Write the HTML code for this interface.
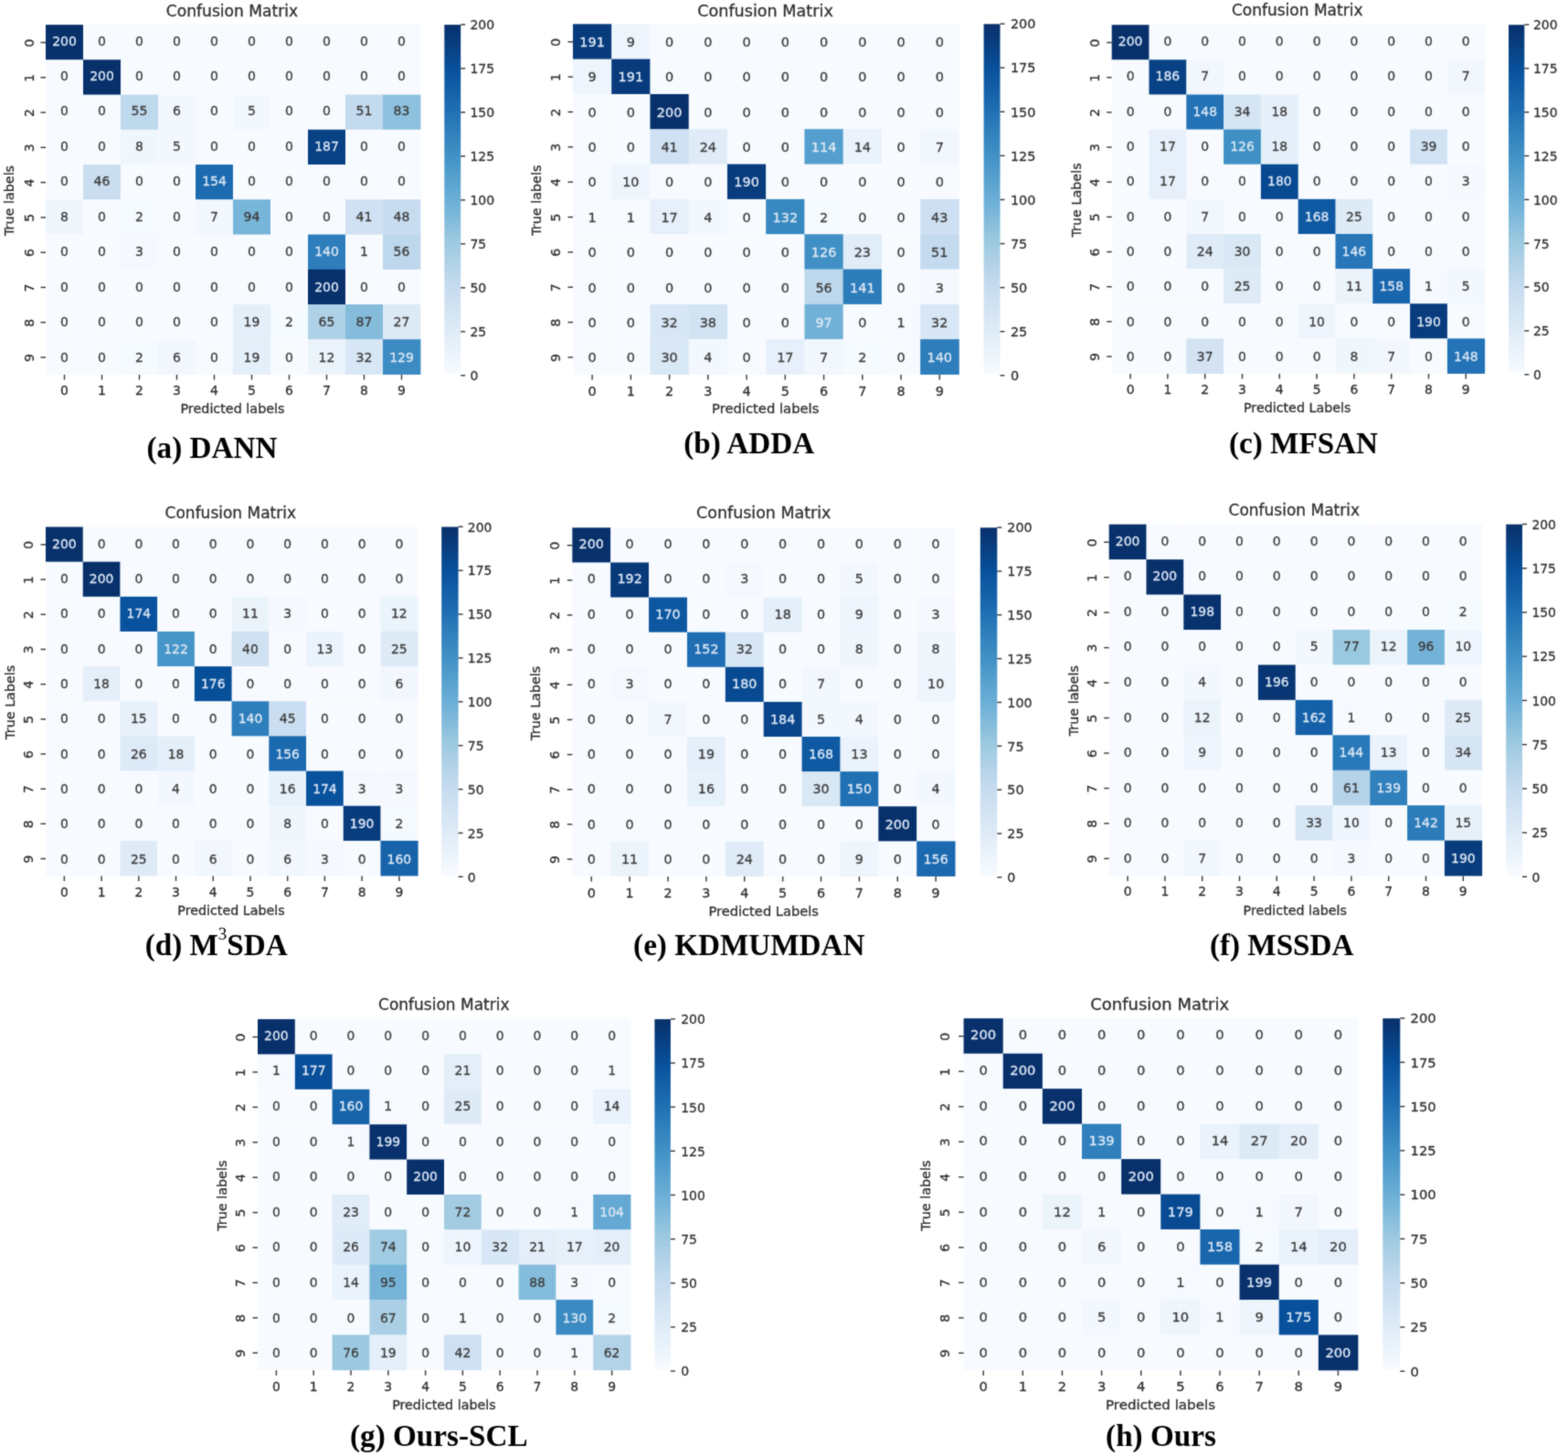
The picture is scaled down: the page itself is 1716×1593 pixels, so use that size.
<!DOCTYPE html>
<html><head><meta charset="utf-8"><title>Confusion matrices</title>
<style>html,body{margin:0;padding:0;background:#fff;}body{width:1716px;height:1593px;overflow:hidden;}svg{display:block;}#fig{width:1716px;height:1593px;}</style>
</head><body><div id="fig">
<svg width="1716" height="1593" viewBox="0 0 1716 1593">
<defs><linearGradient id="cb" x1="0" y1="0" x2="0" y2="1"><stop offset="0.0000" stop-color="#08306b"/><stop offset="0.0312" stop-color="#083776"/><stop offset="0.0625" stop-color="#084082"/><stop offset="0.0938" stop-color="#08488e"/><stop offset="0.1250" stop-color="#08509b"/><stop offset="0.1562" stop-color="#0e58a2"/><stop offset="0.1875" stop-color="#1460a8"/><stop offset="0.2188" stop-color="#1a68ae"/><stop offset="0.2500" stop-color="#2070b4"/><stop offset="0.2812" stop-color="#2979b9"/><stop offset="0.3125" stop-color="#3181bd"/><stop offset="0.3438" stop-color="#3989c1"/><stop offset="0.3750" stop-color="#4191c6"/><stop offset="0.4062" stop-color="#4b98ca"/><stop offset="0.4375" stop-color="#56a0ce"/><stop offset="0.4688" stop-color="#60a7d2"/><stop offset="0.5000" stop-color="#6aaed6"/><stop offset="0.5312" stop-color="#77b5d9"/><stop offset="0.5625" stop-color="#84bcdb"/><stop offset="0.5938" stop-color="#91c3de"/><stop offset="0.6250" stop-color="#9dcae1"/><stop offset="0.6562" stop-color="#a8cee4"/><stop offset="0.6875" stop-color="#b2d2e8"/><stop offset="0.7188" stop-color="#bcd7eb"/><stop offset="0.7500" stop-color="#c6dbef"/><stop offset="0.7812" stop-color="#ccdff1"/><stop offset="0.8125" stop-color="#d2e3f3"/><stop offset="0.8438" stop-color="#d8e7f5"/><stop offset="0.8750" stop-color="#deebf7"/><stop offset="0.9062" stop-color="#e4eff9"/><stop offset="0.9375" stop-color="#eaf3fb"/><stop offset="0.9688" stop-color="#f1f7fd"/><stop offset="1.0000" stop-color="#f7fbff"/></linearGradient><filter id="soft" x="0" y="0" width="1716" height="1593" filterUnits="userSpaceOnUse" color-interpolation-filters="sRGB"><feConvolveMatrix order="3" kernelMatrix="1 4 1 4 16 4 1 4 1" edgeMode="duplicate" preserveAlpha="true"/></filter></defs>
<g filter="url(#soft)"><rect x="0" y="0" width="1716" height="1593" fill="#ffffff"/>
<g font-family="DejaVu Sans, sans-serif"><rect x="50.00" y="27.10" width="41.40" height="38.64" fill="#08306b"/><rect x="91.00" y="27.10" width="41.40" height="38.64" fill="#f7fbff"/><rect x="132.00" y="27.10" width="41.40" height="38.64" fill="#f7fbff"/><rect x="173.00" y="27.10" width="41.40" height="38.64" fill="#f7fbff"/><rect x="214.00" y="27.10" width="41.40" height="38.64" fill="#f7fbff"/><rect x="255.00" y="27.10" width="41.40" height="38.64" fill="#f7fbff"/><rect x="296.00" y="27.10" width="41.40" height="38.64" fill="#f7fbff"/><rect x="337.00" y="27.10" width="41.40" height="38.64" fill="#f7fbff"/><rect x="378.00" y="27.10" width="41.40" height="38.64" fill="#f7fbff"/><rect x="419.00" y="27.10" width="41.40" height="38.64" fill="#f7fbff"/><rect x="50.00" y="65.34" width="41.40" height="38.64" fill="#f7fbff"/><rect x="91.00" y="65.34" width="41.40" height="38.64" fill="#08306b"/><rect x="132.00" y="65.34" width="41.40" height="38.64" fill="#f7fbff"/><rect x="173.00" y="65.34" width="41.40" height="38.64" fill="#f7fbff"/><rect x="214.00" y="65.34" width="41.40" height="38.64" fill="#f7fbff"/><rect x="255.00" y="65.34" width="41.40" height="38.64" fill="#f7fbff"/><rect x="296.00" y="65.34" width="41.40" height="38.64" fill="#f7fbff"/><rect x="337.00" y="65.34" width="41.40" height="38.64" fill="#f7fbff"/><rect x="378.00" y="65.34" width="41.40" height="38.64" fill="#f7fbff"/><rect x="419.00" y="65.34" width="41.40" height="38.64" fill="#f7fbff"/><rect x="50.00" y="103.58" width="41.40" height="38.64" fill="#f7fbff"/><rect x="91.00" y="103.58" width="41.40" height="38.64" fill="#f7fbff"/><rect x="132.00" y="103.58" width="41.40" height="38.64" fill="#bed8ec"/><rect x="173.00" y="103.58" width="41.40" height="38.64" fill="#f2f7fd"/><rect x="214.00" y="103.58" width="41.40" height="38.64" fill="#f7fbff"/><rect x="255.00" y="103.58" width="41.40" height="38.64" fill="#f2f8fd"/><rect x="296.00" y="103.58" width="41.40" height="38.64" fill="#f7fbff"/><rect x="337.00" y="103.58" width="41.40" height="38.64" fill="#f7fbff"/><rect x="378.00" y="103.58" width="41.40" height="38.64" fill="#c4daee"/><rect x="419.00" y="103.58" width="41.40" height="38.64" fill="#8dc1dd"/><rect x="50.00" y="141.82" width="41.40" height="38.64" fill="#f7fbff"/><rect x="91.00" y="141.82" width="41.40" height="38.64" fill="#f7fbff"/><rect x="132.00" y="141.82" width="41.40" height="38.64" fill="#eff6fc"/><rect x="173.00" y="141.82" width="41.40" height="38.64" fill="#f2f8fd"/><rect x="214.00" y="141.82" width="41.40" height="38.64" fill="#f7fbff"/><rect x="255.00" y="141.82" width="41.40" height="38.64" fill="#f7fbff"/><rect x="296.00" y="141.82" width="41.40" height="38.64" fill="#f7fbff"/><rect x="337.00" y="141.82" width="41.40" height="38.64" fill="#084184"/><rect x="378.00" y="141.82" width="41.40" height="38.64" fill="#f7fbff"/><rect x="419.00" y="141.82" width="41.40" height="38.64" fill="#f7fbff"/><rect x="50.00" y="180.06" width="41.40" height="38.64" fill="#f7fbff"/><rect x="91.00" y="180.06" width="41.40" height="38.64" fill="#cadef0"/><rect x="132.00" y="180.06" width="41.40" height="38.64" fill="#f7fbff"/><rect x="173.00" y="180.06" width="41.40" height="38.64" fill="#f7fbff"/><rect x="214.00" y="180.06" width="41.40" height="38.64" fill="#1c6bb0"/><rect x="255.00" y="180.06" width="41.40" height="38.64" fill="#f7fbff"/><rect x="296.00" y="180.06" width="41.40" height="38.64" fill="#f7fbff"/><rect x="337.00" y="180.06" width="41.40" height="38.64" fill="#f7fbff"/><rect x="378.00" y="180.06" width="41.40" height="38.64" fill="#f7fbff"/><rect x="419.00" y="180.06" width="41.40" height="38.64" fill="#f7fbff"/><rect x="50.00" y="218.30" width="41.40" height="38.64" fill="#eff6fc"/><rect x="91.00" y="218.30" width="41.40" height="38.64" fill="#f7fbff"/><rect x="132.00" y="218.30" width="41.40" height="38.64" fill="#f5fafe"/><rect x="173.00" y="218.30" width="41.40" height="38.64" fill="#f7fbff"/><rect x="214.00" y="218.30" width="41.40" height="38.64" fill="#f1f7fd"/><rect x="255.00" y="218.30" width="41.40" height="38.64" fill="#77b5d9"/><rect x="296.00" y="218.30" width="41.40" height="38.64" fill="#f7fbff"/><rect x="337.00" y="218.30" width="41.40" height="38.64" fill="#f7fbff"/><rect x="378.00" y="218.30" width="41.40" height="38.64" fill="#cfe1f2"/><rect x="419.00" y="218.30" width="41.40" height="38.64" fill="#c8dcf0"/><rect x="50.00" y="256.54" width="41.40" height="38.64" fill="#f7fbff"/><rect x="91.00" y="256.54" width="41.40" height="38.64" fill="#f7fbff"/><rect x="132.00" y="256.54" width="41.40" height="38.64" fill="#f5f9fe"/><rect x="173.00" y="256.54" width="41.40" height="38.64" fill="#f7fbff"/><rect x="214.00" y="256.54" width="41.40" height="38.64" fill="#f7fbff"/><rect x="255.00" y="256.54" width="41.40" height="38.64" fill="#f7fbff"/><rect x="296.00" y="256.54" width="41.40" height="38.64" fill="#f7fbff"/><rect x="337.00" y="256.54" width="41.40" height="38.64" fill="#2e7ebc"/><rect x="378.00" y="256.54" width="41.40" height="38.64" fill="#f6faff"/><rect x="419.00" y="256.54" width="41.40" height="38.64" fill="#bdd7ec"/><rect x="50.00" y="294.78" width="41.40" height="38.64" fill="#f7fbff"/><rect x="91.00" y="294.78" width="41.40" height="38.64" fill="#f7fbff"/><rect x="132.00" y="294.78" width="41.40" height="38.64" fill="#f7fbff"/><rect x="173.00" y="294.78" width="41.40" height="38.64" fill="#f7fbff"/><rect x="214.00" y="294.78" width="41.40" height="38.64" fill="#f7fbff"/><rect x="255.00" y="294.78" width="41.40" height="38.64" fill="#f7fbff"/><rect x="296.00" y="294.78" width="41.40" height="38.64" fill="#f7fbff"/><rect x="337.00" y="294.78" width="41.40" height="38.64" fill="#08306b"/><rect x="378.00" y="294.78" width="41.40" height="38.64" fill="#f7fbff"/><rect x="419.00" y="294.78" width="41.40" height="38.64" fill="#f7fbff"/><rect x="50.00" y="333.02" width="41.40" height="38.64" fill="#f7fbff"/><rect x="91.00" y="333.02" width="41.40" height="38.64" fill="#f7fbff"/><rect x="132.00" y="333.02" width="41.40" height="38.64" fill="#f7fbff"/><rect x="173.00" y="333.02" width="41.40" height="38.64" fill="#f7fbff"/><rect x="214.00" y="333.02" width="41.40" height="38.64" fill="#f7fbff"/><rect x="255.00" y="333.02" width="41.40" height="38.64" fill="#e4eff9"/><rect x="296.00" y="333.02" width="41.40" height="38.64" fill="#f5fafe"/><rect x="337.00" y="333.02" width="41.40" height="38.64" fill="#aed1e7"/><rect x="378.00" y="333.02" width="41.40" height="38.64" fill="#85bcdc"/><rect x="419.00" y="333.02" width="41.40" height="38.64" fill="#dceaf6"/><rect x="50.00" y="371.26" width="41.40" height="38.64" fill="#f7fbff"/><rect x="91.00" y="371.26" width="41.40" height="38.64" fill="#f7fbff"/><rect x="132.00" y="371.26" width="41.40" height="38.64" fill="#f5fafe"/><rect x="173.00" y="371.26" width="41.40" height="38.64" fill="#f2f7fd"/><rect x="214.00" y="371.26" width="41.40" height="38.64" fill="#f7fbff"/><rect x="255.00" y="371.26" width="41.40" height="38.64" fill="#e4eff9"/><rect x="296.00" y="371.26" width="41.40" height="38.64" fill="#f7fbff"/><rect x="337.00" y="371.26" width="41.40" height="38.64" fill="#ebf3fb"/><rect x="378.00" y="371.26" width="41.40" height="38.64" fill="#d8e7f5"/><rect x="419.00" y="371.26" width="41.40" height="38.64" fill="#3c8cc3"/><text transform="translate(70.50 49.50)" font-size="14.0" fill="#dce7f4" stroke="#dce7f4" stroke-width="0.3" text-anchor="middle">200</text><text transform="translate(111.50 49.50)" font-size="14.0" fill="#3d3d3d" stroke="#3d3d3d" stroke-width="0.3" text-anchor="middle">0</text><text transform="translate(152.50 49.50)" font-size="14.0" fill="#3d3d3d" stroke="#3d3d3d" stroke-width="0.3" text-anchor="middle">0</text><text transform="translate(193.50 49.50)" font-size="14.0" fill="#3d3d3d" stroke="#3d3d3d" stroke-width="0.3" text-anchor="middle">0</text><text transform="translate(234.50 49.50)" font-size="14.0" fill="#3d3d3d" stroke="#3d3d3d" stroke-width="0.3" text-anchor="middle">0</text><text transform="translate(275.50 49.50)" font-size="14.0" fill="#3d3d3d" stroke="#3d3d3d" stroke-width="0.3" text-anchor="middle">0</text><text transform="translate(316.50 49.50)" font-size="14.0" fill="#3d3d3d" stroke="#3d3d3d" stroke-width="0.3" text-anchor="middle">0</text><text transform="translate(357.50 49.50)" font-size="14.0" fill="#3d3d3d" stroke="#3d3d3d" stroke-width="0.3" text-anchor="middle">0</text><text transform="translate(398.50 49.50)" font-size="14.0" fill="#3d3d3d" stroke="#3d3d3d" stroke-width="0.3" text-anchor="middle">0</text><text transform="translate(439.50 49.50)" font-size="14.0" fill="#3d3d3d" stroke="#3d3d3d" stroke-width="0.3" text-anchor="middle">0</text><text transform="translate(70.50 87.99)" font-size="14.0" fill="#3d3d3d" stroke="#3d3d3d" stroke-width="0.3" text-anchor="middle">0</text><text transform="translate(111.50 87.99)" font-size="14.0" fill="#dce7f4" stroke="#dce7f4" stroke-width="0.3" text-anchor="middle">200</text><text transform="translate(152.50 87.99)" font-size="14.0" fill="#3d3d3d" stroke="#3d3d3d" stroke-width="0.3" text-anchor="middle">0</text><text transform="translate(193.50 87.99)" font-size="14.0" fill="#3d3d3d" stroke="#3d3d3d" stroke-width="0.3" text-anchor="middle">0</text><text transform="translate(234.50 87.99)" font-size="14.0" fill="#3d3d3d" stroke="#3d3d3d" stroke-width="0.3" text-anchor="middle">0</text><text transform="translate(275.50 87.99)" font-size="14.0" fill="#3d3d3d" stroke="#3d3d3d" stroke-width="0.3" text-anchor="middle">0</text><text transform="translate(316.50 87.99)" font-size="14.0" fill="#3d3d3d" stroke="#3d3d3d" stroke-width="0.3" text-anchor="middle">0</text><text transform="translate(357.50 87.99)" font-size="14.0" fill="#3d3d3d" stroke="#3d3d3d" stroke-width="0.3" text-anchor="middle">0</text><text transform="translate(398.50 87.99)" font-size="14.0" fill="#3d3d3d" stroke="#3d3d3d" stroke-width="0.3" text-anchor="middle">0</text><text transform="translate(439.50 87.99)" font-size="14.0" fill="#3d3d3d" stroke="#3d3d3d" stroke-width="0.3" text-anchor="middle">0</text><text transform="translate(70.50 126.48)" font-size="14.0" fill="#3d3d3d" stroke="#3d3d3d" stroke-width="0.3" text-anchor="middle">0</text><text transform="translate(111.50 126.48)" font-size="14.0" fill="#3d3d3d" stroke="#3d3d3d" stroke-width="0.3" text-anchor="middle">0</text><text transform="translate(152.50 126.48)" font-size="14.0" fill="#3d3d3d" stroke="#3d3d3d" stroke-width="0.3" text-anchor="middle">55</text><text transform="translate(193.50 126.48)" font-size="14.0" fill="#3d3d3d" stroke="#3d3d3d" stroke-width="0.3" text-anchor="middle">6</text><text transform="translate(234.50 126.48)" font-size="14.0" fill="#3d3d3d" stroke="#3d3d3d" stroke-width="0.3" text-anchor="middle">0</text><text transform="translate(275.50 126.48)" font-size="14.0" fill="#3d3d3d" stroke="#3d3d3d" stroke-width="0.3" text-anchor="middle">5</text><text transform="translate(316.50 126.48)" font-size="14.0" fill="#3d3d3d" stroke="#3d3d3d" stroke-width="0.3" text-anchor="middle">0</text><text transform="translate(357.50 126.48)" font-size="14.0" fill="#3d3d3d" stroke="#3d3d3d" stroke-width="0.3" text-anchor="middle">0</text><text transform="translate(398.50 126.48)" font-size="14.0" fill="#3d3d3d" stroke="#3d3d3d" stroke-width="0.3" text-anchor="middle">51</text><text transform="translate(439.50 126.48)" font-size="14.0" fill="#3d3d3d" stroke="#3d3d3d" stroke-width="0.3" text-anchor="middle">83</text><text transform="translate(70.50 164.97)" font-size="14.0" fill="#3d3d3d" stroke="#3d3d3d" stroke-width="0.3" text-anchor="middle">0</text><text transform="translate(111.50 164.97)" font-size="14.0" fill="#3d3d3d" stroke="#3d3d3d" stroke-width="0.3" text-anchor="middle">0</text><text transform="translate(152.50 164.97)" font-size="14.0" fill="#3d3d3d" stroke="#3d3d3d" stroke-width="0.3" text-anchor="middle">8</text><text transform="translate(193.50 164.97)" font-size="14.0" fill="#3d3d3d" stroke="#3d3d3d" stroke-width="0.3" text-anchor="middle">5</text><text transform="translate(234.50 164.97)" font-size="14.0" fill="#3d3d3d" stroke="#3d3d3d" stroke-width="0.3" text-anchor="middle">0</text><text transform="translate(275.50 164.97)" font-size="14.0" fill="#3d3d3d" stroke="#3d3d3d" stroke-width="0.3" text-anchor="middle">0</text><text transform="translate(316.50 164.97)" font-size="14.0" fill="#3d3d3d" stroke="#3d3d3d" stroke-width="0.3" text-anchor="middle">0</text><text transform="translate(357.50 164.97)" font-size="14.0" fill="#dce7f4" stroke="#dce7f4" stroke-width="0.3" text-anchor="middle">187</text><text transform="translate(398.50 164.97)" font-size="14.0" fill="#3d3d3d" stroke="#3d3d3d" stroke-width="0.3" text-anchor="middle">0</text><text transform="translate(439.50 164.97)" font-size="14.0" fill="#3d3d3d" stroke="#3d3d3d" stroke-width="0.3" text-anchor="middle">0</text><text transform="translate(70.50 203.46)" font-size="14.0" fill="#3d3d3d" stroke="#3d3d3d" stroke-width="0.3" text-anchor="middle">0</text><text transform="translate(111.50 203.46)" font-size="14.0" fill="#3d3d3d" stroke="#3d3d3d" stroke-width="0.3" text-anchor="middle">46</text><text transform="translate(152.50 203.46)" font-size="14.0" fill="#3d3d3d" stroke="#3d3d3d" stroke-width="0.3" text-anchor="middle">0</text><text transform="translate(193.50 203.46)" font-size="14.0" fill="#3d3d3d" stroke="#3d3d3d" stroke-width="0.3" text-anchor="middle">0</text><text transform="translate(234.50 203.46)" font-size="14.0" fill="#dce7f4" stroke="#dce7f4" stroke-width="0.3" text-anchor="middle">154</text><text transform="translate(275.50 203.46)" font-size="14.0" fill="#3d3d3d" stroke="#3d3d3d" stroke-width="0.3" text-anchor="middle">0</text><text transform="translate(316.50 203.46)" font-size="14.0" fill="#3d3d3d" stroke="#3d3d3d" stroke-width="0.3" text-anchor="middle">0</text><text transform="translate(357.50 203.46)" font-size="14.0" fill="#3d3d3d" stroke="#3d3d3d" stroke-width="0.3" text-anchor="middle">0</text><text transform="translate(398.50 203.46)" font-size="14.0" fill="#3d3d3d" stroke="#3d3d3d" stroke-width="0.3" text-anchor="middle">0</text><text transform="translate(439.50 203.46)" font-size="14.0" fill="#3d3d3d" stroke="#3d3d3d" stroke-width="0.3" text-anchor="middle">0</text><text transform="translate(70.50 241.95)" font-size="14.0" fill="#3d3d3d" stroke="#3d3d3d" stroke-width="0.3" text-anchor="middle">8</text><text transform="translate(111.50 241.95)" font-size="14.0" fill="#3d3d3d" stroke="#3d3d3d" stroke-width="0.3" text-anchor="middle">0</text><text transform="translate(152.50 241.95)" font-size="14.0" fill="#3d3d3d" stroke="#3d3d3d" stroke-width="0.3" text-anchor="middle">2</text><text transform="translate(193.50 241.95)" font-size="14.0" fill="#3d3d3d" stroke="#3d3d3d" stroke-width="0.3" text-anchor="middle">0</text><text transform="translate(234.50 241.95)" font-size="14.0" fill="#3d3d3d" stroke="#3d3d3d" stroke-width="0.3" text-anchor="middle">7</text><text transform="translate(275.50 241.95)" font-size="14.0" fill="#3d3d3d" stroke="#3d3d3d" stroke-width="0.3" text-anchor="middle">94</text><text transform="translate(316.50 241.95)" font-size="14.0" fill="#3d3d3d" stroke="#3d3d3d" stroke-width="0.3" text-anchor="middle">0</text><text transform="translate(357.50 241.95)" font-size="14.0" fill="#3d3d3d" stroke="#3d3d3d" stroke-width="0.3" text-anchor="middle">0</text><text transform="translate(398.50 241.95)" font-size="14.0" fill="#3d3d3d" stroke="#3d3d3d" stroke-width="0.3" text-anchor="middle">41</text><text transform="translate(439.50 241.95)" font-size="14.0" fill="#3d3d3d" stroke="#3d3d3d" stroke-width="0.3" text-anchor="middle">48</text><text transform="translate(70.50 280.44)" font-size="14.0" fill="#3d3d3d" stroke="#3d3d3d" stroke-width="0.3" text-anchor="middle">0</text><text transform="translate(111.50 280.44)" font-size="14.0" fill="#3d3d3d" stroke="#3d3d3d" stroke-width="0.3" text-anchor="middle">0</text><text transform="translate(152.50 280.44)" font-size="14.0" fill="#3d3d3d" stroke="#3d3d3d" stroke-width="0.3" text-anchor="middle">3</text><text transform="translate(193.50 280.44)" font-size="14.0" fill="#3d3d3d" stroke="#3d3d3d" stroke-width="0.3" text-anchor="middle">0</text><text transform="translate(234.50 280.44)" font-size="14.0" fill="#3d3d3d" stroke="#3d3d3d" stroke-width="0.3" text-anchor="middle">0</text><text transform="translate(275.50 280.44)" font-size="14.0" fill="#3d3d3d" stroke="#3d3d3d" stroke-width="0.3" text-anchor="middle">0</text><text transform="translate(316.50 280.44)" font-size="14.0" fill="#3d3d3d" stroke="#3d3d3d" stroke-width="0.3" text-anchor="middle">0</text><text transform="translate(357.50 280.44)" font-size="14.0" fill="#dce7f4" stroke="#dce7f4" stroke-width="0.3" text-anchor="middle">140</text><text transform="translate(398.50 280.44)" font-size="14.0" fill="#3d3d3d" stroke="#3d3d3d" stroke-width="0.3" text-anchor="middle">1</text><text transform="translate(439.50 280.44)" font-size="14.0" fill="#3d3d3d" stroke="#3d3d3d" stroke-width="0.3" text-anchor="middle">56</text><text transform="translate(70.50 318.93)" font-size="14.0" fill="#3d3d3d" stroke="#3d3d3d" stroke-width="0.3" text-anchor="middle">0</text><text transform="translate(111.50 318.93)" font-size="14.0" fill="#3d3d3d" stroke="#3d3d3d" stroke-width="0.3" text-anchor="middle">0</text><text transform="translate(152.50 318.93)" font-size="14.0" fill="#3d3d3d" stroke="#3d3d3d" stroke-width="0.3" text-anchor="middle">0</text><text transform="translate(193.50 318.93)" font-size="14.0" fill="#3d3d3d" stroke="#3d3d3d" stroke-width="0.3" text-anchor="middle">0</text><text transform="translate(234.50 318.93)" font-size="14.0" fill="#3d3d3d" stroke="#3d3d3d" stroke-width="0.3" text-anchor="middle">0</text><text transform="translate(275.50 318.93)" font-size="14.0" fill="#3d3d3d" stroke="#3d3d3d" stroke-width="0.3" text-anchor="middle">0</text><text transform="translate(316.50 318.93)" font-size="14.0" fill="#3d3d3d" stroke="#3d3d3d" stroke-width="0.3" text-anchor="middle">0</text><text transform="translate(357.50 318.93)" font-size="14.0" fill="#dce7f4" stroke="#dce7f4" stroke-width="0.3" text-anchor="middle">200</text><text transform="translate(398.50 318.93)" font-size="14.0" fill="#3d3d3d" stroke="#3d3d3d" stroke-width="0.3" text-anchor="middle">0</text><text transform="translate(439.50 318.93)" font-size="14.0" fill="#3d3d3d" stroke="#3d3d3d" stroke-width="0.3" text-anchor="middle">0</text><text transform="translate(70.50 357.41)" font-size="14.0" fill="#3d3d3d" stroke="#3d3d3d" stroke-width="0.3" text-anchor="middle">0</text><text transform="translate(111.50 357.41)" font-size="14.0" fill="#3d3d3d" stroke="#3d3d3d" stroke-width="0.3" text-anchor="middle">0</text><text transform="translate(152.50 357.41)" font-size="14.0" fill="#3d3d3d" stroke="#3d3d3d" stroke-width="0.3" text-anchor="middle">0</text><text transform="translate(193.50 357.41)" font-size="14.0" fill="#3d3d3d" stroke="#3d3d3d" stroke-width="0.3" text-anchor="middle">0</text><text transform="translate(234.50 357.41)" font-size="14.0" fill="#3d3d3d" stroke="#3d3d3d" stroke-width="0.3" text-anchor="middle">0</text><text transform="translate(275.50 357.41)" font-size="14.0" fill="#3d3d3d" stroke="#3d3d3d" stroke-width="0.3" text-anchor="middle">19</text><text transform="translate(316.50 357.41)" font-size="14.0" fill="#3d3d3d" stroke="#3d3d3d" stroke-width="0.3" text-anchor="middle">2</text><text transform="translate(357.50 357.41)" font-size="14.0" fill="#3d3d3d" stroke="#3d3d3d" stroke-width="0.3" text-anchor="middle">65</text><text transform="translate(398.50 357.41)" font-size="14.0" fill="#3d3d3d" stroke="#3d3d3d" stroke-width="0.3" text-anchor="middle">87</text><text transform="translate(439.50 357.41)" font-size="14.0" fill="#3d3d3d" stroke="#3d3d3d" stroke-width="0.3" text-anchor="middle">27</text><text transform="translate(70.50 395.90)" font-size="14.0" fill="#3d3d3d" stroke="#3d3d3d" stroke-width="0.3" text-anchor="middle">0</text><text transform="translate(111.50 395.90)" font-size="14.0" fill="#3d3d3d" stroke="#3d3d3d" stroke-width="0.3" text-anchor="middle">0</text><text transform="translate(152.50 395.90)" font-size="14.0" fill="#3d3d3d" stroke="#3d3d3d" stroke-width="0.3" text-anchor="middle">2</text><text transform="translate(193.50 395.90)" font-size="14.0" fill="#3d3d3d" stroke="#3d3d3d" stroke-width="0.3" text-anchor="middle">6</text><text transform="translate(234.50 395.90)" font-size="14.0" fill="#3d3d3d" stroke="#3d3d3d" stroke-width="0.3" text-anchor="middle">0</text><text transform="translate(275.50 395.90)" font-size="14.0" fill="#3d3d3d" stroke="#3d3d3d" stroke-width="0.3" text-anchor="middle">19</text><text transform="translate(316.50 395.90)" font-size="14.0" fill="#3d3d3d" stroke="#3d3d3d" stroke-width="0.3" text-anchor="middle">0</text><text transform="translate(357.50 395.90)" font-size="14.0" fill="#3d3d3d" stroke="#3d3d3d" stroke-width="0.3" text-anchor="middle">12</text><text transform="translate(398.50 395.90)" font-size="14.0" fill="#3d3d3d" stroke="#3d3d3d" stroke-width="0.3" text-anchor="middle">32</text><text transform="translate(439.50 395.90)" font-size="14.0" fill="#dce7f4" stroke="#dce7f4" stroke-width="0.3" text-anchor="middle">129</text><line x1="44.50" y1="46.52" x2="50.00" y2="46.52" stroke="#333333" stroke-width="1.4"/><text transform="translate(36.50 47.02) rotate(-90)" font-size="14.0" fill="#303030" stroke="#303030" stroke-width="0.3" text-anchor="middle">0</text><line x1="44.50" y1="84.79" x2="50.00" y2="84.79" stroke="#333333" stroke-width="1.4"/><text transform="translate(36.50 85.29) rotate(-90)" font-size="14.0" fill="#303030" stroke="#303030" stroke-width="0.3" text-anchor="middle">1</text><line x1="44.50" y1="123.07" x2="50.00" y2="123.07" stroke="#333333" stroke-width="1.4"/><text transform="translate(36.50 123.57) rotate(-90)" font-size="14.0" fill="#303030" stroke="#303030" stroke-width="0.3" text-anchor="middle">2</text><line x1="44.50" y1="161.34" x2="50.00" y2="161.34" stroke="#333333" stroke-width="1.4"/><text transform="translate(36.50 161.84) rotate(-90)" font-size="14.0" fill="#303030" stroke="#303030" stroke-width="0.3" text-anchor="middle">3</text><line x1="44.50" y1="199.61" x2="50.00" y2="199.61" stroke="#333333" stroke-width="1.4"/><text transform="translate(36.50 200.11) rotate(-90)" font-size="14.0" fill="#303030" stroke="#303030" stroke-width="0.3" text-anchor="middle">4</text><line x1="44.50" y1="237.89" x2="50.00" y2="237.89" stroke="#333333" stroke-width="1.4"/><text transform="translate(36.50 238.39) rotate(-90)" font-size="14.0" fill="#303030" stroke="#303030" stroke-width="0.3" text-anchor="middle">5</text><line x1="44.50" y1="276.16" x2="50.00" y2="276.16" stroke="#333333" stroke-width="1.4"/><text transform="translate(36.50 276.66) rotate(-90)" font-size="14.0" fill="#303030" stroke="#303030" stroke-width="0.3" text-anchor="middle">6</text><line x1="44.50" y1="314.43" x2="50.00" y2="314.43" stroke="#333333" stroke-width="1.4"/><text transform="translate(36.50 314.93) rotate(-90)" font-size="14.0" fill="#303030" stroke="#303030" stroke-width="0.3" text-anchor="middle">7</text><line x1="44.50" y1="352.71" x2="50.00" y2="352.71" stroke="#333333" stroke-width="1.4"/><text transform="translate(36.50 353.21) rotate(-90)" font-size="14.0" fill="#303030" stroke="#303030" stroke-width="0.3" text-anchor="middle">8</text><line x1="44.50" y1="390.98" x2="50.00" y2="390.98" stroke="#333333" stroke-width="1.4"/><text transform="translate(36.50 391.48) rotate(-90)" font-size="14.0" fill="#303030" stroke="#303030" stroke-width="0.3" text-anchor="middle">9</text><line x1="70.50" y1="410.00" x2="70.50" y2="415.50" stroke="#333333" stroke-width="1.4"/><text transform="translate(70.50 432.00)" font-size="14.0" fill="#303030" stroke="#303030" stroke-width="0.3" text-anchor="middle">0</text><line x1="111.50" y1="410.00" x2="111.50" y2="415.50" stroke="#333333" stroke-width="1.4"/><text transform="translate(111.50 432.00)" font-size="14.0" fill="#303030" stroke="#303030" stroke-width="0.3" text-anchor="middle">1</text><line x1="152.50" y1="410.00" x2="152.50" y2="415.50" stroke="#333333" stroke-width="1.4"/><text transform="translate(152.50 432.00)" font-size="14.0" fill="#303030" stroke="#303030" stroke-width="0.3" text-anchor="middle">2</text><line x1="193.50" y1="410.00" x2="193.50" y2="415.50" stroke="#333333" stroke-width="1.4"/><text transform="translate(193.50 432.00)" font-size="14.0" fill="#303030" stroke="#303030" stroke-width="0.3" text-anchor="middle">3</text><line x1="234.50" y1="410.00" x2="234.50" y2="415.50" stroke="#333333" stroke-width="1.4"/><text transform="translate(234.50 432.00)" font-size="14.0" fill="#303030" stroke="#303030" stroke-width="0.3" text-anchor="middle">4</text><line x1="275.50" y1="410.00" x2="275.50" y2="415.50" stroke="#333333" stroke-width="1.4"/><text transform="translate(275.50 432.00)" font-size="14.0" fill="#303030" stroke="#303030" stroke-width="0.3" text-anchor="middle">5</text><line x1="316.50" y1="410.00" x2="316.50" y2="415.50" stroke="#333333" stroke-width="1.4"/><text transform="translate(316.50 432.00)" font-size="14.0" fill="#303030" stroke="#303030" stroke-width="0.3" text-anchor="middle">6</text><line x1="357.50" y1="410.00" x2="357.50" y2="415.50" stroke="#333333" stroke-width="1.4"/><text transform="translate(357.50 432.00)" font-size="14.0" fill="#303030" stroke="#303030" stroke-width="0.3" text-anchor="middle">7</text><line x1="398.50" y1="410.00" x2="398.50" y2="415.50" stroke="#333333" stroke-width="1.4"/><text transform="translate(398.50 432.00)" font-size="14.0" fill="#303030" stroke="#303030" stroke-width="0.3" text-anchor="middle">8</text><line x1="439.50" y1="410.00" x2="439.50" y2="415.50" stroke="#333333" stroke-width="1.4"/><text transform="translate(439.50 432.00)" font-size="14.0" fill="#303030" stroke="#303030" stroke-width="0.3" text-anchor="middle">9</text><rect x="486.30" y="27.10" width="17.90" height="382.40" fill="url(#cb)"/><line x1="504.20" y1="410.80" x2="509.20" y2="410.80" stroke="#333333" stroke-width="1.4"/><text transform="translate(514.40 416.10)" font-size="14.0" fill="#303030" stroke="#303030" stroke-width="0.3" text-anchor="start">0</text><line x1="504.20" y1="362.81" x2="509.20" y2="362.81" stroke="#333333" stroke-width="1.4"/><text transform="translate(514.40 368.12)" font-size="14.0" fill="#303030" stroke="#303030" stroke-width="0.3" text-anchor="start">25</text><line x1="504.20" y1="314.83" x2="509.20" y2="314.83" stroke="#333333" stroke-width="1.4"/><text transform="translate(514.40 320.13)" font-size="14.0" fill="#303030" stroke="#303030" stroke-width="0.3" text-anchor="start">50</text><line x1="504.20" y1="266.84" x2="509.20" y2="266.84" stroke="#333333" stroke-width="1.4"/><text transform="translate(514.40 272.14)" font-size="14.0" fill="#303030" stroke="#303030" stroke-width="0.3" text-anchor="start">75</text><line x1="504.20" y1="218.85" x2="509.20" y2="218.85" stroke="#333333" stroke-width="1.4"/><text transform="translate(514.40 224.15)" font-size="14.0" fill="#303030" stroke="#303030" stroke-width="0.3" text-anchor="start">100</text><line x1="504.20" y1="170.86" x2="509.20" y2="170.86" stroke="#333333" stroke-width="1.4"/><text transform="translate(514.40 176.17)" font-size="14.0" fill="#303030" stroke="#303030" stroke-width="0.3" text-anchor="start">125</text><line x1="504.20" y1="122.88" x2="509.20" y2="122.88" stroke="#333333" stroke-width="1.4"/><text transform="translate(514.40 128.18)" font-size="14.0" fill="#303030" stroke="#303030" stroke-width="0.3" text-anchor="start">150</text><line x1="504.20" y1="74.89" x2="509.20" y2="74.89" stroke="#333333" stroke-width="1.4"/><text transform="translate(514.40 80.19)" font-size="14.0" fill="#303030" stroke="#303030" stroke-width="0.3" text-anchor="start">175</text><line x1="504.20" y1="26.90" x2="509.20" y2="26.90" stroke="#333333" stroke-width="1.4"/><text transform="translate(514.40 32.20)" font-size="14.0" fill="#303030" stroke="#303030" stroke-width="0.3" text-anchor="start">200</text><text transform="translate(254.00 18.30)" font-size="17.1" fill="#303030" stroke="#303030" stroke-width="0.3" text-anchor="middle">Confusion Matrix</text><text transform="translate(254.50 452.20)" font-size="14.35" fill="#303030" stroke="#303030" stroke-width="0.3" text-anchor="middle">Predicted labels</text><text transform="translate(15.42 219.50) rotate(-90)" font-size="14.35" fill="#303030" stroke="#303030" stroke-width="0.3" text-anchor="middle">True labels</text></g>
<text x="232.00" y="500.80" font-family="Liberation Serif, serif" font-weight="bold" font-size="33.2" fill="#000" text-anchor="middle">(a) DANN</text>
<g font-family="DejaVu Sans, sans-serif"><rect x="627.00" y="26.30" width="42.64" height="38.72" fill="#083b7c"/><rect x="669.24" y="26.30" width="42.64" height="38.72" fill="#eef5fc"/><rect x="711.48" y="26.30" width="42.64" height="38.72" fill="#f7fbff"/><rect x="753.72" y="26.30" width="42.64" height="38.72" fill="#f7fbff"/><rect x="795.96" y="26.30" width="42.64" height="38.72" fill="#f7fbff"/><rect x="838.20" y="26.30" width="42.64" height="38.72" fill="#f7fbff"/><rect x="880.44" y="26.30" width="42.64" height="38.72" fill="#f7fbff"/><rect x="922.68" y="26.30" width="42.64" height="38.72" fill="#f7fbff"/><rect x="964.92" y="26.30" width="42.64" height="38.72" fill="#f7fbff"/><rect x="1007.16" y="26.30" width="42.64" height="38.72" fill="#f7fbff"/><rect x="627.00" y="64.62" width="42.64" height="38.72" fill="#eef5fc"/><rect x="669.24" y="64.62" width="42.64" height="38.72" fill="#083b7c"/><rect x="711.48" y="64.62" width="42.64" height="38.72" fill="#f7fbff"/><rect x="753.72" y="64.62" width="42.64" height="38.72" fill="#f7fbff"/><rect x="795.96" y="64.62" width="42.64" height="38.72" fill="#f7fbff"/><rect x="838.20" y="64.62" width="42.64" height="38.72" fill="#f7fbff"/><rect x="880.44" y="64.62" width="42.64" height="38.72" fill="#f7fbff"/><rect x="922.68" y="64.62" width="42.64" height="38.72" fill="#f7fbff"/><rect x="964.92" y="64.62" width="42.64" height="38.72" fill="#f7fbff"/><rect x="1007.16" y="64.62" width="42.64" height="38.72" fill="#f7fbff"/><rect x="627.00" y="102.94" width="42.64" height="38.72" fill="#f7fbff"/><rect x="669.24" y="102.94" width="42.64" height="38.72" fill="#f7fbff"/><rect x="711.48" y="102.94" width="42.64" height="38.72" fill="#08306b"/><rect x="753.72" y="102.94" width="42.64" height="38.72" fill="#f7fbff"/><rect x="795.96" y="102.94" width="42.64" height="38.72" fill="#f7fbff"/><rect x="838.20" y="102.94" width="42.64" height="38.72" fill="#f7fbff"/><rect x="880.44" y="102.94" width="42.64" height="38.72" fill="#f7fbff"/><rect x="922.68" y="102.94" width="42.64" height="38.72" fill="#f7fbff"/><rect x="964.92" y="102.94" width="42.64" height="38.72" fill="#f7fbff"/><rect x="1007.16" y="102.94" width="42.64" height="38.72" fill="#f7fbff"/><rect x="627.00" y="141.26" width="42.64" height="38.72" fill="#f7fbff"/><rect x="669.24" y="141.26" width="42.64" height="38.72" fill="#f7fbff"/><rect x="711.48" y="141.26" width="42.64" height="38.72" fill="#cfe1f2"/><rect x="753.72" y="141.26" width="42.64" height="38.72" fill="#dfecf7"/><rect x="795.96" y="141.26" width="42.64" height="38.72" fill="#f7fbff"/><rect x="838.20" y="141.26" width="42.64" height="38.72" fill="#f7fbff"/><rect x="880.44" y="141.26" width="42.64" height="38.72" fill="#549fcd"/><rect x="922.68" y="141.26" width="42.64" height="38.72" fill="#eaf2fb"/><rect x="964.92" y="141.26" width="42.64" height="38.72" fill="#f7fbff"/><rect x="1007.16" y="141.26" width="42.64" height="38.72" fill="#f1f7fd"/><rect x="627.00" y="179.58" width="42.64" height="38.72" fill="#f7fbff"/><rect x="669.24" y="179.58" width="42.64" height="38.72" fill="#eef5fc"/><rect x="711.48" y="179.58" width="42.64" height="38.72" fill="#f7fbff"/><rect x="753.72" y="179.58" width="42.64" height="38.72" fill="#f7fbff"/><rect x="795.96" y="179.58" width="42.64" height="38.72" fill="#083c7d"/><rect x="838.20" y="179.58" width="42.64" height="38.72" fill="#f7fbff"/><rect x="880.44" y="179.58" width="42.64" height="38.72" fill="#f7fbff"/><rect x="922.68" y="179.58" width="42.64" height="38.72" fill="#f7fbff"/><rect x="964.92" y="179.58" width="42.64" height="38.72" fill="#f7fbff"/><rect x="1007.16" y="179.58" width="42.64" height="38.72" fill="#f7fbff"/><rect x="627.00" y="217.90" width="42.64" height="38.72" fill="#f6faff"/><rect x="669.24" y="217.90" width="42.64" height="38.72" fill="#f6faff"/><rect x="711.48" y="217.90" width="42.64" height="38.72" fill="#e7f0fa"/><rect x="753.72" y="217.90" width="42.64" height="38.72" fill="#f3f8fe"/><rect x="795.96" y="217.90" width="42.64" height="38.72" fill="#f7fbff"/><rect x="838.20" y="217.90" width="42.64" height="38.72" fill="#3989c1"/><rect x="880.44" y="217.90" width="42.64" height="38.72" fill="#f5fafe"/><rect x="922.68" y="217.90" width="42.64" height="38.72" fill="#f7fbff"/><rect x="964.92" y="217.90" width="42.64" height="38.72" fill="#f7fbff"/><rect x="1007.16" y="217.90" width="42.64" height="38.72" fill="#cddff1"/><rect x="627.00" y="256.22" width="42.64" height="38.72" fill="#f7fbff"/><rect x="669.24" y="256.22" width="42.64" height="38.72" fill="#f7fbff"/><rect x="711.48" y="256.22" width="42.64" height="38.72" fill="#f7fbff"/><rect x="753.72" y="256.22" width="42.64" height="38.72" fill="#f7fbff"/><rect x="795.96" y="256.22" width="42.64" height="38.72" fill="#f7fbff"/><rect x="838.20" y="256.22" width="42.64" height="38.72" fill="#f7fbff"/><rect x="880.44" y="256.22" width="42.64" height="38.72" fill="#4090c5"/><rect x="922.68" y="256.22" width="42.64" height="38.72" fill="#e0ecf8"/><rect x="964.92" y="256.22" width="42.64" height="38.72" fill="#f7fbff"/><rect x="1007.16" y="256.22" width="42.64" height="38.72" fill="#c4daee"/><rect x="627.00" y="294.54" width="42.64" height="38.72" fill="#f7fbff"/><rect x="669.24" y="294.54" width="42.64" height="38.72" fill="#f7fbff"/><rect x="711.48" y="294.54" width="42.64" height="38.72" fill="#f7fbff"/><rect x="753.72" y="294.54" width="42.64" height="38.72" fill="#f7fbff"/><rect x="795.96" y="294.54" width="42.64" height="38.72" fill="#f7fbff"/><rect x="838.20" y="294.54" width="42.64" height="38.72" fill="#f7fbff"/><rect x="880.44" y="294.54" width="42.64" height="38.72" fill="#bdd7ec"/><rect x="922.68" y="294.54" width="42.64" height="38.72" fill="#2d7dbb"/><rect x="964.92" y="294.54" width="42.64" height="38.72" fill="#f7fbff"/><rect x="1007.16" y="294.54" width="42.64" height="38.72" fill="#f5f9fe"/><rect x="627.00" y="332.86" width="42.64" height="38.72" fill="#f7fbff"/><rect x="669.24" y="332.86" width="42.64" height="38.72" fill="#f7fbff"/><rect x="711.48" y="332.86" width="42.64" height="38.72" fill="#d8e7f5"/><rect x="753.72" y="332.86" width="42.64" height="38.72" fill="#d2e3f3"/><rect x="795.96" y="332.86" width="42.64" height="38.72" fill="#f7fbff"/><rect x="838.20" y="332.86" width="42.64" height="38.72" fill="#f7fbff"/><rect x="880.44" y="332.86" width="42.64" height="38.72" fill="#71b1d7"/><rect x="922.68" y="332.86" width="42.64" height="38.72" fill="#f7fbff"/><rect x="964.92" y="332.86" width="42.64" height="38.72" fill="#f6faff"/><rect x="1007.16" y="332.86" width="42.64" height="38.72" fill="#d8e7f5"/><rect x="627.00" y="371.18" width="42.64" height="38.72" fill="#f7fbff"/><rect x="669.24" y="371.18" width="42.64" height="38.72" fill="#f7fbff"/><rect x="711.48" y="371.18" width="42.64" height="38.72" fill="#d9e8f5"/><rect x="753.72" y="371.18" width="42.64" height="38.72" fill="#f3f8fe"/><rect x="795.96" y="371.18" width="42.64" height="38.72" fill="#f7fbff"/><rect x="838.20" y="371.18" width="42.64" height="38.72" fill="#e7f0fa"/><rect x="880.44" y="371.18" width="42.64" height="38.72" fill="#f1f7fd"/><rect x="922.68" y="371.18" width="42.64" height="38.72" fill="#f5fafe"/><rect x="964.92" y="371.18" width="42.64" height="38.72" fill="#f7fbff"/><rect x="1007.16" y="371.18" width="42.64" height="38.72" fill="#2e7ebc"/><text transform="translate(648.12 50.90) scale(1.0302 1)" font-size="14.0" fill="#dce7f4" stroke="#dce7f4" stroke-width="0.3" text-anchor="middle">191</text><text transform="translate(690.36 50.90) scale(1.0302 1)" font-size="14.0" fill="#3d3d3d" stroke="#3d3d3d" stroke-width="0.3" text-anchor="middle">9</text><text transform="translate(732.60 50.90) scale(1.0302 1)" font-size="14.0" fill="#3d3d3d" stroke="#3d3d3d" stroke-width="0.3" text-anchor="middle">0</text><text transform="translate(774.84 50.90) scale(1.0302 1)" font-size="14.0" fill="#3d3d3d" stroke="#3d3d3d" stroke-width="0.3" text-anchor="middle">0</text><text transform="translate(817.08 50.90) scale(1.0302 1)" font-size="14.0" fill="#3d3d3d" stroke="#3d3d3d" stroke-width="0.3" text-anchor="middle">0</text><text transform="translate(859.32 50.90) scale(1.0302 1)" font-size="14.0" fill="#3d3d3d" stroke="#3d3d3d" stroke-width="0.3" text-anchor="middle">0</text><text transform="translate(901.56 50.90) scale(1.0302 1)" font-size="14.0" fill="#3d3d3d" stroke="#3d3d3d" stroke-width="0.3" text-anchor="middle">0</text><text transform="translate(943.80 50.90) scale(1.0302 1)" font-size="14.0" fill="#3d3d3d" stroke="#3d3d3d" stroke-width="0.3" text-anchor="middle">0</text><text transform="translate(986.04 50.90) scale(1.0302 1)" font-size="14.0" fill="#3d3d3d" stroke="#3d3d3d" stroke-width="0.3" text-anchor="middle">0</text><text transform="translate(1028.28 50.90) scale(1.0302 1)" font-size="14.0" fill="#3d3d3d" stroke="#3d3d3d" stroke-width="0.3" text-anchor="middle">0</text><text transform="translate(648.12 89.28) scale(1.0302 1)" font-size="14.0" fill="#3d3d3d" stroke="#3d3d3d" stroke-width="0.3" text-anchor="middle">9</text><text transform="translate(690.36 89.28) scale(1.0302 1)" font-size="14.0" fill="#dce7f4" stroke="#dce7f4" stroke-width="0.3" text-anchor="middle">191</text><text transform="translate(732.60 89.28) scale(1.0302 1)" font-size="14.0" fill="#3d3d3d" stroke="#3d3d3d" stroke-width="0.3" text-anchor="middle">0</text><text transform="translate(774.84 89.28) scale(1.0302 1)" font-size="14.0" fill="#3d3d3d" stroke="#3d3d3d" stroke-width="0.3" text-anchor="middle">0</text><text transform="translate(817.08 89.28) scale(1.0302 1)" font-size="14.0" fill="#3d3d3d" stroke="#3d3d3d" stroke-width="0.3" text-anchor="middle">0</text><text transform="translate(859.32 89.28) scale(1.0302 1)" font-size="14.0" fill="#3d3d3d" stroke="#3d3d3d" stroke-width="0.3" text-anchor="middle">0</text><text transform="translate(901.56 89.28) scale(1.0302 1)" font-size="14.0" fill="#3d3d3d" stroke="#3d3d3d" stroke-width="0.3" text-anchor="middle">0</text><text transform="translate(943.80 89.28) scale(1.0302 1)" font-size="14.0" fill="#3d3d3d" stroke="#3d3d3d" stroke-width="0.3" text-anchor="middle">0</text><text transform="translate(986.04 89.28) scale(1.0302 1)" font-size="14.0" fill="#3d3d3d" stroke="#3d3d3d" stroke-width="0.3" text-anchor="middle">0</text><text transform="translate(1028.28 89.28) scale(1.0302 1)" font-size="14.0" fill="#3d3d3d" stroke="#3d3d3d" stroke-width="0.3" text-anchor="middle">0</text><text transform="translate(648.12 127.66) scale(1.0302 1)" font-size="14.0" fill="#3d3d3d" stroke="#3d3d3d" stroke-width="0.3" text-anchor="middle">0</text><text transform="translate(690.36 127.66) scale(1.0302 1)" font-size="14.0" fill="#3d3d3d" stroke="#3d3d3d" stroke-width="0.3" text-anchor="middle">0</text><text transform="translate(732.60 127.66) scale(1.0302 1)" font-size="14.0" fill="#dce7f4" stroke="#dce7f4" stroke-width="0.3" text-anchor="middle">200</text><text transform="translate(774.84 127.66) scale(1.0302 1)" font-size="14.0" fill="#3d3d3d" stroke="#3d3d3d" stroke-width="0.3" text-anchor="middle">0</text><text transform="translate(817.08 127.66) scale(1.0302 1)" font-size="14.0" fill="#3d3d3d" stroke="#3d3d3d" stroke-width="0.3" text-anchor="middle">0</text><text transform="translate(859.32 127.66) scale(1.0302 1)" font-size="14.0" fill="#3d3d3d" stroke="#3d3d3d" stroke-width="0.3" text-anchor="middle">0</text><text transform="translate(901.56 127.66) scale(1.0302 1)" font-size="14.0" fill="#3d3d3d" stroke="#3d3d3d" stroke-width="0.3" text-anchor="middle">0</text><text transform="translate(943.80 127.66) scale(1.0302 1)" font-size="14.0" fill="#3d3d3d" stroke="#3d3d3d" stroke-width="0.3" text-anchor="middle">0</text><text transform="translate(986.04 127.66) scale(1.0302 1)" font-size="14.0" fill="#3d3d3d" stroke="#3d3d3d" stroke-width="0.3" text-anchor="middle">0</text><text transform="translate(1028.28 127.66) scale(1.0302 1)" font-size="14.0" fill="#3d3d3d" stroke="#3d3d3d" stroke-width="0.3" text-anchor="middle">0</text><text transform="translate(648.12 166.04) scale(1.0302 1)" font-size="14.0" fill="#3d3d3d" stroke="#3d3d3d" stroke-width="0.3" text-anchor="middle">0</text><text transform="translate(690.36 166.04) scale(1.0302 1)" font-size="14.0" fill="#3d3d3d" stroke="#3d3d3d" stroke-width="0.3" text-anchor="middle">0</text><text transform="translate(732.60 166.04) scale(1.0302 1)" font-size="14.0" fill="#3d3d3d" stroke="#3d3d3d" stroke-width="0.3" text-anchor="middle">41</text><text transform="translate(774.84 166.04) scale(1.0302 1)" font-size="14.0" fill="#3d3d3d" stroke="#3d3d3d" stroke-width="0.3" text-anchor="middle">24</text><text transform="translate(817.08 166.04) scale(1.0302 1)" font-size="14.0" fill="#3d3d3d" stroke="#3d3d3d" stroke-width="0.3" text-anchor="middle">0</text><text transform="translate(859.32 166.04) scale(1.0302 1)" font-size="14.0" fill="#3d3d3d" stroke="#3d3d3d" stroke-width="0.3" text-anchor="middle">0</text><text transform="translate(901.56 166.04) scale(1.0302 1)" font-size="14.0" fill="#dce7f4" stroke="#dce7f4" stroke-width="0.3" text-anchor="middle">114</text><text transform="translate(943.80 166.04) scale(1.0302 1)" font-size="14.0" fill="#3d3d3d" stroke="#3d3d3d" stroke-width="0.3" text-anchor="middle">14</text><text transform="translate(986.04 166.04) scale(1.0302 1)" font-size="14.0" fill="#3d3d3d" stroke="#3d3d3d" stroke-width="0.3" text-anchor="middle">0</text><text transform="translate(1028.28 166.04) scale(1.0302 1)" font-size="14.0" fill="#3d3d3d" stroke="#3d3d3d" stroke-width="0.3" text-anchor="middle">7</text><text transform="translate(648.12 204.41) scale(1.0302 1)" font-size="14.0" fill="#3d3d3d" stroke="#3d3d3d" stroke-width="0.3" text-anchor="middle">0</text><text transform="translate(690.36 204.41) scale(1.0302 1)" font-size="14.0" fill="#3d3d3d" stroke="#3d3d3d" stroke-width="0.3" text-anchor="middle">10</text><text transform="translate(732.60 204.41) scale(1.0302 1)" font-size="14.0" fill="#3d3d3d" stroke="#3d3d3d" stroke-width="0.3" text-anchor="middle">0</text><text transform="translate(774.84 204.41) scale(1.0302 1)" font-size="14.0" fill="#3d3d3d" stroke="#3d3d3d" stroke-width="0.3" text-anchor="middle">0</text><text transform="translate(817.08 204.41) scale(1.0302 1)" font-size="14.0" fill="#dce7f4" stroke="#dce7f4" stroke-width="0.3" text-anchor="middle">190</text><text transform="translate(859.32 204.41) scale(1.0302 1)" font-size="14.0" fill="#3d3d3d" stroke="#3d3d3d" stroke-width="0.3" text-anchor="middle">0</text><text transform="translate(901.56 204.41) scale(1.0302 1)" font-size="14.0" fill="#3d3d3d" stroke="#3d3d3d" stroke-width="0.3" text-anchor="middle">0</text><text transform="translate(943.80 204.41) scale(1.0302 1)" font-size="14.0" fill="#3d3d3d" stroke="#3d3d3d" stroke-width="0.3" text-anchor="middle">0</text><text transform="translate(986.04 204.41) scale(1.0302 1)" font-size="14.0" fill="#3d3d3d" stroke="#3d3d3d" stroke-width="0.3" text-anchor="middle">0</text><text transform="translate(1028.28 204.41) scale(1.0302 1)" font-size="14.0" fill="#3d3d3d" stroke="#3d3d3d" stroke-width="0.3" text-anchor="middle">0</text><text transform="translate(648.12 242.79) scale(1.0302 1)" font-size="14.0" fill="#3d3d3d" stroke="#3d3d3d" stroke-width="0.3" text-anchor="middle">1</text><text transform="translate(690.36 242.79) scale(1.0302 1)" font-size="14.0" fill="#3d3d3d" stroke="#3d3d3d" stroke-width="0.3" text-anchor="middle">1</text><text transform="translate(732.60 242.79) scale(1.0302 1)" font-size="14.0" fill="#3d3d3d" stroke="#3d3d3d" stroke-width="0.3" text-anchor="middle">17</text><text transform="translate(774.84 242.79) scale(1.0302 1)" font-size="14.0" fill="#3d3d3d" stroke="#3d3d3d" stroke-width="0.3" text-anchor="middle">4</text><text transform="translate(817.08 242.79) scale(1.0302 1)" font-size="14.0" fill="#3d3d3d" stroke="#3d3d3d" stroke-width="0.3" text-anchor="middle">0</text><text transform="translate(859.32 242.79) scale(1.0302 1)" font-size="14.0" fill="#dce7f4" stroke="#dce7f4" stroke-width="0.3" text-anchor="middle">132</text><text transform="translate(901.56 242.79) scale(1.0302 1)" font-size="14.0" fill="#3d3d3d" stroke="#3d3d3d" stroke-width="0.3" text-anchor="middle">2</text><text transform="translate(943.80 242.79) scale(1.0302 1)" font-size="14.0" fill="#3d3d3d" stroke="#3d3d3d" stroke-width="0.3" text-anchor="middle">0</text><text transform="translate(986.04 242.79) scale(1.0302 1)" font-size="14.0" fill="#3d3d3d" stroke="#3d3d3d" stroke-width="0.3" text-anchor="middle">0</text><text transform="translate(1028.28 242.79) scale(1.0302 1)" font-size="14.0" fill="#3d3d3d" stroke="#3d3d3d" stroke-width="0.3" text-anchor="middle">43</text><text transform="translate(648.12 281.17) scale(1.0302 1)" font-size="14.0" fill="#3d3d3d" stroke="#3d3d3d" stroke-width="0.3" text-anchor="middle">0</text><text transform="translate(690.36 281.17) scale(1.0302 1)" font-size="14.0" fill="#3d3d3d" stroke="#3d3d3d" stroke-width="0.3" text-anchor="middle">0</text><text transform="translate(732.60 281.17) scale(1.0302 1)" font-size="14.0" fill="#3d3d3d" stroke="#3d3d3d" stroke-width="0.3" text-anchor="middle">0</text><text transform="translate(774.84 281.17) scale(1.0302 1)" font-size="14.0" fill="#3d3d3d" stroke="#3d3d3d" stroke-width="0.3" text-anchor="middle">0</text><text transform="translate(817.08 281.17) scale(1.0302 1)" font-size="14.0" fill="#3d3d3d" stroke="#3d3d3d" stroke-width="0.3" text-anchor="middle">0</text><text transform="translate(859.32 281.17) scale(1.0302 1)" font-size="14.0" fill="#3d3d3d" stroke="#3d3d3d" stroke-width="0.3" text-anchor="middle">0</text><text transform="translate(901.56 281.17) scale(1.0302 1)" font-size="14.0" fill="#dce7f4" stroke="#dce7f4" stroke-width="0.3" text-anchor="middle">126</text><text transform="translate(943.80 281.17) scale(1.0302 1)" font-size="14.0" fill="#3d3d3d" stroke="#3d3d3d" stroke-width="0.3" text-anchor="middle">23</text><text transform="translate(986.04 281.17) scale(1.0302 1)" font-size="14.0" fill="#3d3d3d" stroke="#3d3d3d" stroke-width="0.3" text-anchor="middle">0</text><text transform="translate(1028.28 281.17) scale(1.0302 1)" font-size="14.0" fill="#3d3d3d" stroke="#3d3d3d" stroke-width="0.3" text-anchor="middle">51</text><text transform="translate(648.12 319.55) scale(1.0302 1)" font-size="14.0" fill="#3d3d3d" stroke="#3d3d3d" stroke-width="0.3" text-anchor="middle">0</text><text transform="translate(690.36 319.55) scale(1.0302 1)" font-size="14.0" fill="#3d3d3d" stroke="#3d3d3d" stroke-width="0.3" text-anchor="middle">0</text><text transform="translate(732.60 319.55) scale(1.0302 1)" font-size="14.0" fill="#3d3d3d" stroke="#3d3d3d" stroke-width="0.3" text-anchor="middle">0</text><text transform="translate(774.84 319.55) scale(1.0302 1)" font-size="14.0" fill="#3d3d3d" stroke="#3d3d3d" stroke-width="0.3" text-anchor="middle">0</text><text transform="translate(817.08 319.55) scale(1.0302 1)" font-size="14.0" fill="#3d3d3d" stroke="#3d3d3d" stroke-width="0.3" text-anchor="middle">0</text><text transform="translate(859.32 319.55) scale(1.0302 1)" font-size="14.0" fill="#3d3d3d" stroke="#3d3d3d" stroke-width="0.3" text-anchor="middle">0</text><text transform="translate(901.56 319.55) scale(1.0302 1)" font-size="14.0" fill="#3d3d3d" stroke="#3d3d3d" stroke-width="0.3" text-anchor="middle">56</text><text transform="translate(943.80 319.55) scale(1.0302 1)" font-size="14.0" fill="#dce7f4" stroke="#dce7f4" stroke-width="0.3" text-anchor="middle">141</text><text transform="translate(986.04 319.55) scale(1.0302 1)" font-size="14.0" fill="#3d3d3d" stroke="#3d3d3d" stroke-width="0.3" text-anchor="middle">0</text><text transform="translate(1028.28 319.55) scale(1.0302 1)" font-size="14.0" fill="#3d3d3d" stroke="#3d3d3d" stroke-width="0.3" text-anchor="middle">3</text><text transform="translate(648.12 357.93) scale(1.0302 1)" font-size="14.0" fill="#3d3d3d" stroke="#3d3d3d" stroke-width="0.3" text-anchor="middle">0</text><text transform="translate(690.36 357.93) scale(1.0302 1)" font-size="14.0" fill="#3d3d3d" stroke="#3d3d3d" stroke-width="0.3" text-anchor="middle">0</text><text transform="translate(732.60 357.93) scale(1.0302 1)" font-size="14.0" fill="#3d3d3d" stroke="#3d3d3d" stroke-width="0.3" text-anchor="middle">32</text><text transform="translate(774.84 357.93) scale(1.0302 1)" font-size="14.0" fill="#3d3d3d" stroke="#3d3d3d" stroke-width="0.3" text-anchor="middle">38</text><text transform="translate(817.08 357.93) scale(1.0302 1)" font-size="14.0" fill="#3d3d3d" stroke="#3d3d3d" stroke-width="0.3" text-anchor="middle">0</text><text transform="translate(859.32 357.93) scale(1.0302 1)" font-size="14.0" fill="#3d3d3d" stroke="#3d3d3d" stroke-width="0.3" text-anchor="middle">0</text><text transform="translate(901.56 357.93) scale(1.0302 1)" font-size="14.0" fill="#dce7f4" stroke="#dce7f4" stroke-width="0.3" text-anchor="middle">97</text><text transform="translate(943.80 357.93) scale(1.0302 1)" font-size="14.0" fill="#3d3d3d" stroke="#3d3d3d" stroke-width="0.3" text-anchor="middle">0</text><text transform="translate(986.04 357.93) scale(1.0302 1)" font-size="14.0" fill="#3d3d3d" stroke="#3d3d3d" stroke-width="0.3" text-anchor="middle">1</text><text transform="translate(1028.28 357.93) scale(1.0302 1)" font-size="14.0" fill="#3d3d3d" stroke="#3d3d3d" stroke-width="0.3" text-anchor="middle">32</text><text transform="translate(648.12 396.30) scale(1.0302 1)" font-size="14.0" fill="#3d3d3d" stroke="#3d3d3d" stroke-width="0.3" text-anchor="middle">0</text><text transform="translate(690.36 396.30) scale(1.0302 1)" font-size="14.0" fill="#3d3d3d" stroke="#3d3d3d" stroke-width="0.3" text-anchor="middle">0</text><text transform="translate(732.60 396.30) scale(1.0302 1)" font-size="14.0" fill="#3d3d3d" stroke="#3d3d3d" stroke-width="0.3" text-anchor="middle">30</text><text transform="translate(774.84 396.30) scale(1.0302 1)" font-size="14.0" fill="#3d3d3d" stroke="#3d3d3d" stroke-width="0.3" text-anchor="middle">4</text><text transform="translate(817.08 396.30) scale(1.0302 1)" font-size="14.0" fill="#3d3d3d" stroke="#3d3d3d" stroke-width="0.3" text-anchor="middle">0</text><text transform="translate(859.32 396.30) scale(1.0302 1)" font-size="14.0" fill="#3d3d3d" stroke="#3d3d3d" stroke-width="0.3" text-anchor="middle">17</text><text transform="translate(901.56 396.30) scale(1.0302 1)" font-size="14.0" fill="#3d3d3d" stroke="#3d3d3d" stroke-width="0.3" text-anchor="middle">7</text><text transform="translate(943.80 396.30) scale(1.0302 1)" font-size="14.0" fill="#3d3d3d" stroke="#3d3d3d" stroke-width="0.3" text-anchor="middle">2</text><text transform="translate(986.04 396.30) scale(1.0302 1)" font-size="14.0" fill="#3d3d3d" stroke="#3d3d3d" stroke-width="0.3" text-anchor="middle">0</text><text transform="translate(1028.28 396.30) scale(1.0302 1)" font-size="14.0" fill="#dce7f4" stroke="#dce7f4" stroke-width="0.3" text-anchor="middle">140</text><line x1="621.50" y1="45.76" x2="627.00" y2="45.76" stroke="#333333" stroke-width="1.4"/><text transform="translate(612.80 46.26) rotate(-90)" font-size="14.0" fill="#303030" stroke="#303030" stroke-width="0.3" text-anchor="middle">0</text><line x1="621.50" y1="84.11" x2="627.00" y2="84.11" stroke="#333333" stroke-width="1.4"/><text transform="translate(612.80 84.61) rotate(-90)" font-size="14.0" fill="#303030" stroke="#303030" stroke-width="0.3" text-anchor="middle">1</text><line x1="621.50" y1="122.47" x2="627.00" y2="122.47" stroke="#333333" stroke-width="1.4"/><text transform="translate(612.80 122.97) rotate(-90)" font-size="14.0" fill="#303030" stroke="#303030" stroke-width="0.3" text-anchor="middle">2</text><line x1="621.50" y1="160.82" x2="627.00" y2="160.82" stroke="#333333" stroke-width="1.4"/><text transform="translate(612.80 161.32) rotate(-90)" font-size="14.0" fill="#303030" stroke="#303030" stroke-width="0.3" text-anchor="middle">3</text><line x1="621.50" y1="199.17" x2="627.00" y2="199.17" stroke="#333333" stroke-width="1.4"/><text transform="translate(612.80 199.67) rotate(-90)" font-size="14.0" fill="#303030" stroke="#303030" stroke-width="0.3" text-anchor="middle">4</text><line x1="621.50" y1="237.53" x2="627.00" y2="237.53" stroke="#333333" stroke-width="1.4"/><text transform="translate(612.80 238.03) rotate(-90)" font-size="14.0" fill="#303030" stroke="#303030" stroke-width="0.3" text-anchor="middle">5</text><line x1="621.50" y1="275.88" x2="627.00" y2="275.88" stroke="#333333" stroke-width="1.4"/><text transform="translate(612.80 276.38) rotate(-90)" font-size="14.0" fill="#303030" stroke="#303030" stroke-width="0.3" text-anchor="middle">6</text><line x1="621.50" y1="314.23" x2="627.00" y2="314.23" stroke="#333333" stroke-width="1.4"/><text transform="translate(612.80 314.73) rotate(-90)" font-size="14.0" fill="#303030" stroke="#303030" stroke-width="0.3" text-anchor="middle">7</text><line x1="621.50" y1="352.59" x2="627.00" y2="352.59" stroke="#333333" stroke-width="1.4"/><text transform="translate(612.80 353.09) rotate(-90)" font-size="14.0" fill="#303030" stroke="#303030" stroke-width="0.3" text-anchor="middle">8</text><line x1="621.50" y1="390.94" x2="627.00" y2="390.94" stroke="#333333" stroke-width="1.4"/><text transform="translate(612.80 391.44) rotate(-90)" font-size="14.0" fill="#303030" stroke="#303030" stroke-width="0.3" text-anchor="middle">9</text><line x1="648.12" y1="410.00" x2="648.12" y2="415.50" stroke="#333333" stroke-width="1.4"/><text transform="translate(648.12 433.00) scale(1.0302 1)" font-size="14.0" fill="#303030" stroke="#303030" stroke-width="0.3" text-anchor="middle">0</text><line x1="690.36" y1="410.00" x2="690.36" y2="415.50" stroke="#333333" stroke-width="1.4"/><text transform="translate(690.36 433.00) scale(1.0302 1)" font-size="14.0" fill="#303030" stroke="#303030" stroke-width="0.3" text-anchor="middle">1</text><line x1="732.60" y1="410.00" x2="732.60" y2="415.50" stroke="#333333" stroke-width="1.4"/><text transform="translate(732.60 433.00) scale(1.0302 1)" font-size="14.0" fill="#303030" stroke="#303030" stroke-width="0.3" text-anchor="middle">2</text><line x1="774.84" y1="410.00" x2="774.84" y2="415.50" stroke="#333333" stroke-width="1.4"/><text transform="translate(774.84 433.00) scale(1.0302 1)" font-size="14.0" fill="#303030" stroke="#303030" stroke-width="0.3" text-anchor="middle">3</text><line x1="817.08" y1="410.00" x2="817.08" y2="415.50" stroke="#333333" stroke-width="1.4"/><text transform="translate(817.08 433.00) scale(1.0302 1)" font-size="14.0" fill="#303030" stroke="#303030" stroke-width="0.3" text-anchor="middle">4</text><line x1="859.32" y1="410.00" x2="859.32" y2="415.50" stroke="#333333" stroke-width="1.4"/><text transform="translate(859.32 433.00) scale(1.0302 1)" font-size="14.0" fill="#303030" stroke="#303030" stroke-width="0.3" text-anchor="middle">5</text><line x1="901.56" y1="410.00" x2="901.56" y2="415.50" stroke="#333333" stroke-width="1.4"/><text transform="translate(901.56 433.00) scale(1.0302 1)" font-size="14.0" fill="#303030" stroke="#303030" stroke-width="0.3" text-anchor="middle">6</text><line x1="943.80" y1="410.00" x2="943.80" y2="415.50" stroke="#333333" stroke-width="1.4"/><text transform="translate(943.80 433.00) scale(1.0302 1)" font-size="14.0" fill="#303030" stroke="#303030" stroke-width="0.3" text-anchor="middle">7</text><line x1="986.04" y1="410.00" x2="986.04" y2="415.50" stroke="#333333" stroke-width="1.4"/><text transform="translate(986.04 433.00) scale(1.0302 1)" font-size="14.0" fill="#303030" stroke="#303030" stroke-width="0.3" text-anchor="middle">8</text><line x1="1028.28" y1="410.00" x2="1028.28" y2="415.50" stroke="#333333" stroke-width="1.4"/><text transform="translate(1028.28 433.00) scale(1.0302 1)" font-size="14.0" fill="#303030" stroke="#303030" stroke-width="0.3" text-anchor="middle">9</text><rect x="1076.60" y="26.30" width="17.90" height="383.20" fill="url(#cb)"/><line x1="1094.50" y1="410.80" x2="1099.50" y2="410.80" stroke="#333333" stroke-width="1.4"/><text transform="translate(1105.90 416.10) scale(1.0302 1)" font-size="14.0" fill="#303030" stroke="#303030" stroke-width="0.3" text-anchor="start">0</text><line x1="1094.50" y1="362.71" x2="1099.50" y2="362.71" stroke="#333333" stroke-width="1.4"/><text transform="translate(1105.90 368.02) scale(1.0302 1)" font-size="14.0" fill="#303030" stroke="#303030" stroke-width="0.3" text-anchor="start">25</text><line x1="1094.50" y1="314.62" x2="1099.50" y2="314.62" stroke="#333333" stroke-width="1.4"/><text transform="translate(1105.90 319.93) scale(1.0302 1)" font-size="14.0" fill="#303030" stroke="#303030" stroke-width="0.3" text-anchor="start">50</text><line x1="1094.50" y1="266.54" x2="1099.50" y2="266.54" stroke="#333333" stroke-width="1.4"/><text transform="translate(1105.90 271.84) scale(1.0302 1)" font-size="14.0" fill="#303030" stroke="#303030" stroke-width="0.3" text-anchor="start">75</text><line x1="1094.50" y1="218.45" x2="1099.50" y2="218.45" stroke="#333333" stroke-width="1.4"/><text transform="translate(1105.90 223.75) scale(1.0302 1)" font-size="14.0" fill="#303030" stroke="#303030" stroke-width="0.3" text-anchor="start">100</text><line x1="1094.50" y1="170.36" x2="1099.50" y2="170.36" stroke="#333333" stroke-width="1.4"/><text transform="translate(1105.90 175.67) scale(1.0302 1)" font-size="14.0" fill="#303030" stroke="#303030" stroke-width="0.3" text-anchor="start">125</text><line x1="1094.50" y1="122.28" x2="1099.50" y2="122.28" stroke="#333333" stroke-width="1.4"/><text transform="translate(1105.90 127.58) scale(1.0302 1)" font-size="14.0" fill="#303030" stroke="#303030" stroke-width="0.3" text-anchor="start">150</text><line x1="1094.50" y1="74.19" x2="1099.50" y2="74.19" stroke="#333333" stroke-width="1.4"/><text transform="translate(1105.90 79.49) scale(1.0302 1)" font-size="14.0" fill="#303030" stroke="#303030" stroke-width="0.3" text-anchor="start">175</text><line x1="1094.50" y1="26.10" x2="1099.50" y2="26.10" stroke="#333333" stroke-width="1.4"/><text transform="translate(1105.90 31.40) scale(1.0302 1)" font-size="14.0" fill="#303030" stroke="#303030" stroke-width="0.3" text-anchor="start">200</text><text transform="translate(837.50 18.30) scale(1.0302 1)" font-size="17.1" fill="#303030" stroke="#303030" stroke-width="0.3" text-anchor="middle">Confusion Matrix</text><text transform="translate(837.70 452.30) scale(1.0302 1)" font-size="14.35" fill="#303030" stroke="#303030" stroke-width="0.3" text-anchor="middle">Predicted labels</text><text transform="translate(591.72 219.20) rotate(-90)" font-size="14.35" fill="#303030" stroke="#303030" stroke-width="0.3" text-anchor="middle">True labels</text></g>
<text x="819.70" y="496.00" font-family="Liberation Serif, serif" font-weight="bold" font-size="33.2" fill="#000" text-anchor="middle">(b) ADDA</text>
<g font-family="DejaVu Sans, sans-serif"><rect x="1216.70" y="27.20" width="41.20" height="38.53" fill="#08306b"/><rect x="1257.50" y="27.20" width="41.20" height="38.53" fill="#f7fbff"/><rect x="1298.30" y="27.20" width="41.20" height="38.53" fill="#f7fbff"/><rect x="1339.10" y="27.20" width="41.20" height="38.53" fill="#f7fbff"/><rect x="1379.90" y="27.20" width="41.20" height="38.53" fill="#f7fbff"/><rect x="1420.70" y="27.20" width="41.20" height="38.53" fill="#f7fbff"/><rect x="1461.50" y="27.20" width="41.20" height="38.53" fill="#f7fbff"/><rect x="1502.30" y="27.20" width="41.20" height="38.53" fill="#f7fbff"/><rect x="1543.10" y="27.20" width="41.20" height="38.53" fill="#f7fbff"/><rect x="1583.90" y="27.20" width="41.20" height="38.53" fill="#f7fbff"/><rect x="1216.70" y="65.33" width="41.20" height="38.53" fill="#f7fbff"/><rect x="1257.50" y="65.33" width="41.20" height="38.53" fill="#084285"/><rect x="1298.30" y="65.33" width="41.20" height="38.53" fill="#f1f7fd"/><rect x="1339.10" y="65.33" width="41.20" height="38.53" fill="#f7fbff"/><rect x="1379.90" y="65.33" width="41.20" height="38.53" fill="#f7fbff"/><rect x="1420.70" y="65.33" width="41.20" height="38.53" fill="#f7fbff"/><rect x="1461.50" y="65.33" width="41.20" height="38.53" fill="#f7fbff"/><rect x="1502.30" y="65.33" width="41.20" height="38.53" fill="#f7fbff"/><rect x="1543.10" y="65.33" width="41.20" height="38.53" fill="#f7fbff"/><rect x="1583.90" y="65.33" width="41.20" height="38.53" fill="#f1f7fd"/><rect x="1216.70" y="103.46" width="41.20" height="38.53" fill="#f7fbff"/><rect x="1257.50" y="103.46" width="41.20" height="38.53" fill="#f7fbff"/><rect x="1298.30" y="103.46" width="41.20" height="38.53" fill="#2373b6"/><rect x="1339.10" y="103.46" width="41.20" height="38.53" fill="#d6e5f4"/><rect x="1379.90" y="103.46" width="41.20" height="38.53" fill="#e5eff9"/><rect x="1420.70" y="103.46" width="41.20" height="38.53" fill="#f7fbff"/><rect x="1461.50" y="103.46" width="41.20" height="38.53" fill="#f7fbff"/><rect x="1502.30" y="103.46" width="41.20" height="38.53" fill="#f7fbff"/><rect x="1543.10" y="103.46" width="41.20" height="38.53" fill="#f7fbff"/><rect x="1583.90" y="103.46" width="41.20" height="38.53" fill="#f7fbff"/><rect x="1216.70" y="141.59" width="41.20" height="38.53" fill="#f7fbff"/><rect x="1257.50" y="141.59" width="41.20" height="38.53" fill="#e7f0fa"/><rect x="1298.30" y="141.59" width="41.20" height="38.53" fill="#f7fbff"/><rect x="1339.10" y="141.59" width="41.20" height="38.53" fill="#4090c5"/><rect x="1379.90" y="141.59" width="41.20" height="38.53" fill="#e5eff9"/><rect x="1420.70" y="141.59" width="41.20" height="38.53" fill="#f7fbff"/><rect x="1461.50" y="141.59" width="41.20" height="38.53" fill="#f7fbff"/><rect x="1502.30" y="141.59" width="41.20" height="38.53" fill="#f7fbff"/><rect x="1543.10" y="141.59" width="41.20" height="38.53" fill="#d1e2f3"/><rect x="1583.90" y="141.59" width="41.20" height="38.53" fill="#f7fbff"/><rect x="1216.70" y="179.72" width="41.20" height="38.53" fill="#f7fbff"/><rect x="1257.50" y="179.72" width="41.20" height="38.53" fill="#e7f0fa"/><rect x="1298.30" y="179.72" width="41.20" height="38.53" fill="#f7fbff"/><rect x="1339.10" y="179.72" width="41.20" height="38.53" fill="#f7fbff"/><rect x="1379.90" y="179.72" width="41.20" height="38.53" fill="#084a91"/><rect x="1420.70" y="179.72" width="41.20" height="38.53" fill="#f7fbff"/><rect x="1461.50" y="179.72" width="41.20" height="38.53" fill="#f7fbff"/><rect x="1502.30" y="179.72" width="41.20" height="38.53" fill="#f7fbff"/><rect x="1543.10" y="179.72" width="41.20" height="38.53" fill="#f7fbff"/><rect x="1583.90" y="179.72" width="41.20" height="38.53" fill="#f5f9fe"/><rect x="1216.70" y="217.85" width="41.20" height="38.53" fill="#f7fbff"/><rect x="1257.50" y="217.85" width="41.20" height="38.53" fill="#f7fbff"/><rect x="1298.30" y="217.85" width="41.20" height="38.53" fill="#f1f7fd"/><rect x="1339.10" y="217.85" width="41.20" height="38.53" fill="#f7fbff"/><rect x="1379.90" y="217.85" width="41.20" height="38.53" fill="#f7fbff"/><rect x="1420.70" y="217.85" width="41.20" height="38.53" fill="#0e59a2"/><rect x="1461.50" y="217.85" width="41.20" height="38.53" fill="#deebf7"/><rect x="1502.30" y="217.85" width="41.20" height="38.53" fill="#f7fbff"/><rect x="1543.10" y="217.85" width="41.20" height="38.53" fill="#f7fbff"/><rect x="1583.90" y="217.85" width="41.20" height="38.53" fill="#f7fbff"/><rect x="1216.70" y="255.98" width="41.20" height="38.53" fill="#f7fbff"/><rect x="1257.50" y="255.98" width="41.20" height="38.53" fill="#f7fbff"/><rect x="1298.30" y="255.98" width="41.20" height="38.53" fill="#dfecf7"/><rect x="1339.10" y="255.98" width="41.20" height="38.53" fill="#d9e8f5"/><rect x="1379.90" y="255.98" width="41.20" height="38.53" fill="#f7fbff"/><rect x="1420.70" y="255.98" width="41.20" height="38.53" fill="#f7fbff"/><rect x="1461.50" y="255.98" width="41.20" height="38.53" fill="#2676b8"/><rect x="1502.30" y="255.98" width="41.20" height="38.53" fill="#f7fbff"/><rect x="1543.10" y="255.98" width="41.20" height="38.53" fill="#f7fbff"/><rect x="1583.90" y="255.98" width="41.20" height="38.53" fill="#f7fbff"/><rect x="1216.70" y="294.11" width="41.20" height="38.53" fill="#f7fbff"/><rect x="1257.50" y="294.11" width="41.20" height="38.53" fill="#f7fbff"/><rect x="1298.30" y="294.11" width="41.20" height="38.53" fill="#f7fbff"/><rect x="1339.10" y="294.11" width="41.20" height="38.53" fill="#deebf7"/><rect x="1379.90" y="294.11" width="41.20" height="38.53" fill="#f7fbff"/><rect x="1420.70" y="294.11" width="41.20" height="38.53" fill="#f7fbff"/><rect x="1461.50" y="294.11" width="41.20" height="38.53" fill="#ecf4fb"/><rect x="1502.30" y="294.11" width="41.20" height="38.53" fill="#1966ad"/><rect x="1543.10" y="294.11" width="41.20" height="38.53" fill="#f6faff"/><rect x="1583.90" y="294.11" width="41.20" height="38.53" fill="#f2f8fd"/><rect x="1216.70" y="332.24" width="41.20" height="38.53" fill="#f7fbff"/><rect x="1257.50" y="332.24" width="41.20" height="38.53" fill="#f7fbff"/><rect x="1298.30" y="332.24" width="41.20" height="38.53" fill="#f7fbff"/><rect x="1339.10" y="332.24" width="41.20" height="38.53" fill="#f7fbff"/><rect x="1379.90" y="332.24" width="41.20" height="38.53" fill="#f7fbff"/><rect x="1420.70" y="332.24" width="41.20" height="38.53" fill="#eef5fc"/><rect x="1461.50" y="332.24" width="41.20" height="38.53" fill="#f7fbff"/><rect x="1502.30" y="332.24" width="41.20" height="38.53" fill="#f7fbff"/><rect x="1543.10" y="332.24" width="41.20" height="38.53" fill="#083c7d"/><rect x="1583.90" y="332.24" width="41.20" height="38.53" fill="#f7fbff"/><rect x="1216.70" y="370.37" width="41.20" height="38.53" fill="#f7fbff"/><rect x="1257.50" y="370.37" width="41.20" height="38.53" fill="#f7fbff"/><rect x="1298.30" y="370.37" width="41.20" height="38.53" fill="#d3e3f3"/><rect x="1339.10" y="370.37" width="41.20" height="38.53" fill="#f7fbff"/><rect x="1379.90" y="370.37" width="41.20" height="38.53" fill="#f7fbff"/><rect x="1420.70" y="370.37" width="41.20" height="38.53" fill="#f7fbff"/><rect x="1461.50" y="370.37" width="41.20" height="38.53" fill="#eff6fc"/><rect x="1502.30" y="370.37" width="41.20" height="38.53" fill="#f1f7fd"/><rect x="1543.10" y="370.37" width="41.20" height="38.53" fill="#f7fbff"/><rect x="1583.90" y="370.37" width="41.20" height="38.53" fill="#2373b6"/><text transform="translate(1237.10 49.80) scale(0.9951 1)" font-size="14.0" fill="#dce7f4" stroke="#dce7f4" stroke-width="0.3" text-anchor="middle">200</text><text transform="translate(1277.90 49.80) scale(0.9951 1)" font-size="14.0" fill="#3d3d3d" stroke="#3d3d3d" stroke-width="0.3" text-anchor="middle">0</text><text transform="translate(1318.70 49.80) scale(0.9951 1)" font-size="14.0" fill="#3d3d3d" stroke="#3d3d3d" stroke-width="0.3" text-anchor="middle">0</text><text transform="translate(1359.50 49.80) scale(0.9951 1)" font-size="14.0" fill="#3d3d3d" stroke="#3d3d3d" stroke-width="0.3" text-anchor="middle">0</text><text transform="translate(1400.30 49.80) scale(0.9951 1)" font-size="14.0" fill="#3d3d3d" stroke="#3d3d3d" stroke-width="0.3" text-anchor="middle">0</text><text transform="translate(1441.10 49.80) scale(0.9951 1)" font-size="14.0" fill="#3d3d3d" stroke="#3d3d3d" stroke-width="0.3" text-anchor="middle">0</text><text transform="translate(1481.90 49.80) scale(0.9951 1)" font-size="14.0" fill="#3d3d3d" stroke="#3d3d3d" stroke-width="0.3" text-anchor="middle">0</text><text transform="translate(1522.70 49.80) scale(0.9951 1)" font-size="14.0" fill="#3d3d3d" stroke="#3d3d3d" stroke-width="0.3" text-anchor="middle">0</text><text transform="translate(1563.50 49.80) scale(0.9951 1)" font-size="14.0" fill="#3d3d3d" stroke="#3d3d3d" stroke-width="0.3" text-anchor="middle">0</text><text transform="translate(1604.30 49.80) scale(0.9951 1)" font-size="14.0" fill="#3d3d3d" stroke="#3d3d3d" stroke-width="0.3" text-anchor="middle">0</text><text transform="translate(1237.10 88.17) scale(0.9951 1)" font-size="14.0" fill="#3d3d3d" stroke="#3d3d3d" stroke-width="0.3" text-anchor="middle">0</text><text transform="translate(1277.90 88.17) scale(0.9951 1)" font-size="14.0" fill="#dce7f4" stroke="#dce7f4" stroke-width="0.3" text-anchor="middle">186</text><text transform="translate(1318.70 88.17) scale(0.9951 1)" font-size="14.0" fill="#3d3d3d" stroke="#3d3d3d" stroke-width="0.3" text-anchor="middle">7</text><text transform="translate(1359.50 88.17) scale(0.9951 1)" font-size="14.0" fill="#3d3d3d" stroke="#3d3d3d" stroke-width="0.3" text-anchor="middle">0</text><text transform="translate(1400.30 88.17) scale(0.9951 1)" font-size="14.0" fill="#3d3d3d" stroke="#3d3d3d" stroke-width="0.3" text-anchor="middle">0</text><text transform="translate(1441.10 88.17) scale(0.9951 1)" font-size="14.0" fill="#3d3d3d" stroke="#3d3d3d" stroke-width="0.3" text-anchor="middle">0</text><text transform="translate(1481.90 88.17) scale(0.9951 1)" font-size="14.0" fill="#3d3d3d" stroke="#3d3d3d" stroke-width="0.3" text-anchor="middle">0</text><text transform="translate(1522.70 88.17) scale(0.9951 1)" font-size="14.0" fill="#3d3d3d" stroke="#3d3d3d" stroke-width="0.3" text-anchor="middle">0</text><text transform="translate(1563.50 88.17) scale(0.9951 1)" font-size="14.0" fill="#3d3d3d" stroke="#3d3d3d" stroke-width="0.3" text-anchor="middle">0</text><text transform="translate(1604.30 88.17) scale(0.9951 1)" font-size="14.0" fill="#3d3d3d" stroke="#3d3d3d" stroke-width="0.3" text-anchor="middle">7</text><text transform="translate(1237.10 126.54) scale(0.9951 1)" font-size="14.0" fill="#3d3d3d" stroke="#3d3d3d" stroke-width="0.3" text-anchor="middle">0</text><text transform="translate(1277.90 126.54) scale(0.9951 1)" font-size="14.0" fill="#3d3d3d" stroke="#3d3d3d" stroke-width="0.3" text-anchor="middle">0</text><text transform="translate(1318.70 126.54) scale(0.9951 1)" font-size="14.0" fill="#dce7f4" stroke="#dce7f4" stroke-width="0.3" text-anchor="middle">148</text><text transform="translate(1359.50 126.54) scale(0.9951 1)" font-size="14.0" fill="#3d3d3d" stroke="#3d3d3d" stroke-width="0.3" text-anchor="middle">34</text><text transform="translate(1400.30 126.54) scale(0.9951 1)" font-size="14.0" fill="#3d3d3d" stroke="#3d3d3d" stroke-width="0.3" text-anchor="middle">18</text><text transform="translate(1441.10 126.54) scale(0.9951 1)" font-size="14.0" fill="#3d3d3d" stroke="#3d3d3d" stroke-width="0.3" text-anchor="middle">0</text><text transform="translate(1481.90 126.54) scale(0.9951 1)" font-size="14.0" fill="#3d3d3d" stroke="#3d3d3d" stroke-width="0.3" text-anchor="middle">0</text><text transform="translate(1522.70 126.54) scale(0.9951 1)" font-size="14.0" fill="#3d3d3d" stroke="#3d3d3d" stroke-width="0.3" text-anchor="middle">0</text><text transform="translate(1563.50 126.54) scale(0.9951 1)" font-size="14.0" fill="#3d3d3d" stroke="#3d3d3d" stroke-width="0.3" text-anchor="middle">0</text><text transform="translate(1604.30 126.54) scale(0.9951 1)" font-size="14.0" fill="#3d3d3d" stroke="#3d3d3d" stroke-width="0.3" text-anchor="middle">0</text><text transform="translate(1237.10 164.90) scale(0.9951 1)" font-size="14.0" fill="#3d3d3d" stroke="#3d3d3d" stroke-width="0.3" text-anchor="middle">0</text><text transform="translate(1277.90 164.90) scale(0.9951 1)" font-size="14.0" fill="#3d3d3d" stroke="#3d3d3d" stroke-width="0.3" text-anchor="middle">17</text><text transform="translate(1318.70 164.90) scale(0.9951 1)" font-size="14.0" fill="#3d3d3d" stroke="#3d3d3d" stroke-width="0.3" text-anchor="middle">0</text><text transform="translate(1359.50 164.90) scale(0.9951 1)" font-size="14.0" fill="#dce7f4" stroke="#dce7f4" stroke-width="0.3" text-anchor="middle">126</text><text transform="translate(1400.30 164.90) scale(0.9951 1)" font-size="14.0" fill="#3d3d3d" stroke="#3d3d3d" stroke-width="0.3" text-anchor="middle">18</text><text transform="translate(1441.10 164.90) scale(0.9951 1)" font-size="14.0" fill="#3d3d3d" stroke="#3d3d3d" stroke-width="0.3" text-anchor="middle">0</text><text transform="translate(1481.90 164.90) scale(0.9951 1)" font-size="14.0" fill="#3d3d3d" stroke="#3d3d3d" stroke-width="0.3" text-anchor="middle">0</text><text transform="translate(1522.70 164.90) scale(0.9951 1)" font-size="14.0" fill="#3d3d3d" stroke="#3d3d3d" stroke-width="0.3" text-anchor="middle">0</text><text transform="translate(1563.50 164.90) scale(0.9951 1)" font-size="14.0" fill="#3d3d3d" stroke="#3d3d3d" stroke-width="0.3" text-anchor="middle">39</text><text transform="translate(1604.30 164.90) scale(0.9951 1)" font-size="14.0" fill="#3d3d3d" stroke="#3d3d3d" stroke-width="0.3" text-anchor="middle">0</text><text transform="translate(1237.10 203.27) scale(0.9951 1)" font-size="14.0" fill="#3d3d3d" stroke="#3d3d3d" stroke-width="0.3" text-anchor="middle">0</text><text transform="translate(1277.90 203.27) scale(0.9951 1)" font-size="14.0" fill="#3d3d3d" stroke="#3d3d3d" stroke-width="0.3" text-anchor="middle">17</text><text transform="translate(1318.70 203.27) scale(0.9951 1)" font-size="14.0" fill="#3d3d3d" stroke="#3d3d3d" stroke-width="0.3" text-anchor="middle">0</text><text transform="translate(1359.50 203.27) scale(0.9951 1)" font-size="14.0" fill="#3d3d3d" stroke="#3d3d3d" stroke-width="0.3" text-anchor="middle">0</text><text transform="translate(1400.30 203.27) scale(0.9951 1)" font-size="14.0" fill="#dce7f4" stroke="#dce7f4" stroke-width="0.3" text-anchor="middle">180</text><text transform="translate(1441.10 203.27) scale(0.9951 1)" font-size="14.0" fill="#3d3d3d" stroke="#3d3d3d" stroke-width="0.3" text-anchor="middle">0</text><text transform="translate(1481.90 203.27) scale(0.9951 1)" font-size="14.0" fill="#3d3d3d" stroke="#3d3d3d" stroke-width="0.3" text-anchor="middle">0</text><text transform="translate(1522.70 203.27) scale(0.9951 1)" font-size="14.0" fill="#3d3d3d" stroke="#3d3d3d" stroke-width="0.3" text-anchor="middle">0</text><text transform="translate(1563.50 203.27) scale(0.9951 1)" font-size="14.0" fill="#3d3d3d" stroke="#3d3d3d" stroke-width="0.3" text-anchor="middle">0</text><text transform="translate(1604.30 203.27) scale(0.9951 1)" font-size="14.0" fill="#3d3d3d" stroke="#3d3d3d" stroke-width="0.3" text-anchor="middle">3</text><text transform="translate(1237.10 241.64) scale(0.9951 1)" font-size="14.0" fill="#3d3d3d" stroke="#3d3d3d" stroke-width="0.3" text-anchor="middle">0</text><text transform="translate(1277.90 241.64) scale(0.9951 1)" font-size="14.0" fill="#3d3d3d" stroke="#3d3d3d" stroke-width="0.3" text-anchor="middle">0</text><text transform="translate(1318.70 241.64) scale(0.9951 1)" font-size="14.0" fill="#3d3d3d" stroke="#3d3d3d" stroke-width="0.3" text-anchor="middle">7</text><text transform="translate(1359.50 241.64) scale(0.9951 1)" font-size="14.0" fill="#3d3d3d" stroke="#3d3d3d" stroke-width="0.3" text-anchor="middle">0</text><text transform="translate(1400.30 241.64) scale(0.9951 1)" font-size="14.0" fill="#3d3d3d" stroke="#3d3d3d" stroke-width="0.3" text-anchor="middle">0</text><text transform="translate(1441.10 241.64) scale(0.9951 1)" font-size="14.0" fill="#dce7f4" stroke="#dce7f4" stroke-width="0.3" text-anchor="middle">168</text><text transform="translate(1481.90 241.64) scale(0.9951 1)" font-size="14.0" fill="#3d3d3d" stroke="#3d3d3d" stroke-width="0.3" text-anchor="middle">25</text><text transform="translate(1522.70 241.64) scale(0.9951 1)" font-size="14.0" fill="#3d3d3d" stroke="#3d3d3d" stroke-width="0.3" text-anchor="middle">0</text><text transform="translate(1563.50 241.64) scale(0.9951 1)" font-size="14.0" fill="#3d3d3d" stroke="#3d3d3d" stroke-width="0.3" text-anchor="middle">0</text><text transform="translate(1604.30 241.64) scale(0.9951 1)" font-size="14.0" fill="#3d3d3d" stroke="#3d3d3d" stroke-width="0.3" text-anchor="middle">0</text><text transform="translate(1237.10 280.00) scale(0.9951 1)" font-size="14.0" fill="#3d3d3d" stroke="#3d3d3d" stroke-width="0.3" text-anchor="middle">0</text><text transform="translate(1277.90 280.00) scale(0.9951 1)" font-size="14.0" fill="#3d3d3d" stroke="#3d3d3d" stroke-width="0.3" text-anchor="middle">0</text><text transform="translate(1318.70 280.00) scale(0.9951 1)" font-size="14.0" fill="#3d3d3d" stroke="#3d3d3d" stroke-width="0.3" text-anchor="middle">24</text><text transform="translate(1359.50 280.00) scale(0.9951 1)" font-size="14.0" fill="#3d3d3d" stroke="#3d3d3d" stroke-width="0.3" text-anchor="middle">30</text><text transform="translate(1400.30 280.00) scale(0.9951 1)" font-size="14.0" fill="#3d3d3d" stroke="#3d3d3d" stroke-width="0.3" text-anchor="middle">0</text><text transform="translate(1441.10 280.00) scale(0.9951 1)" font-size="14.0" fill="#3d3d3d" stroke="#3d3d3d" stroke-width="0.3" text-anchor="middle">0</text><text transform="translate(1481.90 280.00) scale(0.9951 1)" font-size="14.0" fill="#dce7f4" stroke="#dce7f4" stroke-width="0.3" text-anchor="middle">146</text><text transform="translate(1522.70 280.00) scale(0.9951 1)" font-size="14.0" fill="#3d3d3d" stroke="#3d3d3d" stroke-width="0.3" text-anchor="middle">0</text><text transform="translate(1563.50 280.00) scale(0.9951 1)" font-size="14.0" fill="#3d3d3d" stroke="#3d3d3d" stroke-width="0.3" text-anchor="middle">0</text><text transform="translate(1604.30 280.00) scale(0.9951 1)" font-size="14.0" fill="#3d3d3d" stroke="#3d3d3d" stroke-width="0.3" text-anchor="middle">0</text><text transform="translate(1237.10 318.37) scale(0.9951 1)" font-size="14.0" fill="#3d3d3d" stroke="#3d3d3d" stroke-width="0.3" text-anchor="middle">0</text><text transform="translate(1277.90 318.37) scale(0.9951 1)" font-size="14.0" fill="#3d3d3d" stroke="#3d3d3d" stroke-width="0.3" text-anchor="middle">0</text><text transform="translate(1318.70 318.37) scale(0.9951 1)" font-size="14.0" fill="#3d3d3d" stroke="#3d3d3d" stroke-width="0.3" text-anchor="middle">0</text><text transform="translate(1359.50 318.37) scale(0.9951 1)" font-size="14.0" fill="#3d3d3d" stroke="#3d3d3d" stroke-width="0.3" text-anchor="middle">25</text><text transform="translate(1400.30 318.37) scale(0.9951 1)" font-size="14.0" fill="#3d3d3d" stroke="#3d3d3d" stroke-width="0.3" text-anchor="middle">0</text><text transform="translate(1441.10 318.37) scale(0.9951 1)" font-size="14.0" fill="#3d3d3d" stroke="#3d3d3d" stroke-width="0.3" text-anchor="middle">0</text><text transform="translate(1481.90 318.37) scale(0.9951 1)" font-size="14.0" fill="#3d3d3d" stroke="#3d3d3d" stroke-width="0.3" text-anchor="middle">11</text><text transform="translate(1522.70 318.37) scale(0.9951 1)" font-size="14.0" fill="#dce7f4" stroke="#dce7f4" stroke-width="0.3" text-anchor="middle">158</text><text transform="translate(1563.50 318.37) scale(0.9951 1)" font-size="14.0" fill="#3d3d3d" stroke="#3d3d3d" stroke-width="0.3" text-anchor="middle">1</text><text transform="translate(1604.30 318.37) scale(0.9951 1)" font-size="14.0" fill="#3d3d3d" stroke="#3d3d3d" stroke-width="0.3" text-anchor="middle">5</text><text transform="translate(1237.10 356.74) scale(0.9951 1)" font-size="14.0" fill="#3d3d3d" stroke="#3d3d3d" stroke-width="0.3" text-anchor="middle">0</text><text transform="translate(1277.90 356.74) scale(0.9951 1)" font-size="14.0" fill="#3d3d3d" stroke="#3d3d3d" stroke-width="0.3" text-anchor="middle">0</text><text transform="translate(1318.70 356.74) scale(0.9951 1)" font-size="14.0" fill="#3d3d3d" stroke="#3d3d3d" stroke-width="0.3" text-anchor="middle">0</text><text transform="translate(1359.50 356.74) scale(0.9951 1)" font-size="14.0" fill="#3d3d3d" stroke="#3d3d3d" stroke-width="0.3" text-anchor="middle">0</text><text transform="translate(1400.30 356.74) scale(0.9951 1)" font-size="14.0" fill="#3d3d3d" stroke="#3d3d3d" stroke-width="0.3" text-anchor="middle">0</text><text transform="translate(1441.10 356.74) scale(0.9951 1)" font-size="14.0" fill="#3d3d3d" stroke="#3d3d3d" stroke-width="0.3" text-anchor="middle">10</text><text transform="translate(1481.90 356.74) scale(0.9951 1)" font-size="14.0" fill="#3d3d3d" stroke="#3d3d3d" stroke-width="0.3" text-anchor="middle">0</text><text transform="translate(1522.70 356.74) scale(0.9951 1)" font-size="14.0" fill="#3d3d3d" stroke="#3d3d3d" stroke-width="0.3" text-anchor="middle">0</text><text transform="translate(1563.50 356.74) scale(0.9951 1)" font-size="14.0" fill="#dce7f4" stroke="#dce7f4" stroke-width="0.3" text-anchor="middle">190</text><text transform="translate(1604.30 356.74) scale(0.9951 1)" font-size="14.0" fill="#3d3d3d" stroke="#3d3d3d" stroke-width="0.3" text-anchor="middle">0</text><text transform="translate(1237.10 395.10) scale(0.9951 1)" font-size="14.0" fill="#3d3d3d" stroke="#3d3d3d" stroke-width="0.3" text-anchor="middle">0</text><text transform="translate(1277.90 395.10) scale(0.9951 1)" font-size="14.0" fill="#3d3d3d" stroke="#3d3d3d" stroke-width="0.3" text-anchor="middle">0</text><text transform="translate(1318.70 395.10) scale(0.9951 1)" font-size="14.0" fill="#3d3d3d" stroke="#3d3d3d" stroke-width="0.3" text-anchor="middle">37</text><text transform="translate(1359.50 395.10) scale(0.9951 1)" font-size="14.0" fill="#3d3d3d" stroke="#3d3d3d" stroke-width="0.3" text-anchor="middle">0</text><text transform="translate(1400.30 395.10) scale(0.9951 1)" font-size="14.0" fill="#3d3d3d" stroke="#3d3d3d" stroke-width="0.3" text-anchor="middle">0</text><text transform="translate(1441.10 395.10) scale(0.9951 1)" font-size="14.0" fill="#3d3d3d" stroke="#3d3d3d" stroke-width="0.3" text-anchor="middle">0</text><text transform="translate(1481.90 395.10) scale(0.9951 1)" font-size="14.0" fill="#3d3d3d" stroke="#3d3d3d" stroke-width="0.3" text-anchor="middle">8</text><text transform="translate(1522.70 395.10) scale(0.9951 1)" font-size="14.0" fill="#3d3d3d" stroke="#3d3d3d" stroke-width="0.3" text-anchor="middle">7</text><text transform="translate(1563.50 395.10) scale(0.9951 1)" font-size="14.0" fill="#3d3d3d" stroke="#3d3d3d" stroke-width="0.3" text-anchor="middle">0</text><text transform="translate(1604.30 395.10) scale(0.9951 1)" font-size="14.0" fill="#dce7f4" stroke="#dce7f4" stroke-width="0.3" text-anchor="middle">148</text><line x1="1211.20" y1="46.56" x2="1216.70" y2="46.56" stroke="#333333" stroke-width="1.4"/><text transform="translate(1203.10 47.06) rotate(-90)" font-size="14.0" fill="#303030" stroke="#303030" stroke-width="0.3" text-anchor="middle">0</text><line x1="1211.20" y1="84.73" x2="1216.70" y2="84.73" stroke="#333333" stroke-width="1.4"/><text transform="translate(1203.10 85.23) rotate(-90)" font-size="14.0" fill="#303030" stroke="#303030" stroke-width="0.3" text-anchor="middle">1</text><line x1="1211.20" y1="122.89" x2="1216.70" y2="122.89" stroke="#333333" stroke-width="1.4"/><text transform="translate(1203.10 123.39) rotate(-90)" font-size="14.0" fill="#303030" stroke="#303030" stroke-width="0.3" text-anchor="middle">2</text><line x1="1211.20" y1="161.06" x2="1216.70" y2="161.06" stroke="#333333" stroke-width="1.4"/><text transform="translate(1203.10 161.56) rotate(-90)" font-size="14.0" fill="#303030" stroke="#303030" stroke-width="0.3" text-anchor="middle">3</text><line x1="1211.20" y1="199.22" x2="1216.70" y2="199.22" stroke="#333333" stroke-width="1.4"/><text transform="translate(1203.10 199.72) rotate(-90)" font-size="14.0" fill="#303030" stroke="#303030" stroke-width="0.3" text-anchor="middle">4</text><line x1="1211.20" y1="237.38" x2="1216.70" y2="237.38" stroke="#333333" stroke-width="1.4"/><text transform="translate(1203.10 237.88) rotate(-90)" font-size="14.0" fill="#303030" stroke="#303030" stroke-width="0.3" text-anchor="middle">5</text><line x1="1211.20" y1="275.55" x2="1216.70" y2="275.55" stroke="#333333" stroke-width="1.4"/><text transform="translate(1203.10 276.05) rotate(-90)" font-size="14.0" fill="#303030" stroke="#303030" stroke-width="0.3" text-anchor="middle">6</text><line x1="1211.20" y1="313.71" x2="1216.70" y2="313.71" stroke="#333333" stroke-width="1.4"/><text transform="translate(1203.10 314.21) rotate(-90)" font-size="14.0" fill="#303030" stroke="#303030" stroke-width="0.3" text-anchor="middle">7</text><line x1="1211.20" y1="351.87" x2="1216.70" y2="351.87" stroke="#333333" stroke-width="1.4"/><text transform="translate(1203.10 352.37) rotate(-90)" font-size="14.0" fill="#303030" stroke="#303030" stroke-width="0.3" text-anchor="middle">8</text><line x1="1211.20" y1="390.04" x2="1216.70" y2="390.04" stroke="#333333" stroke-width="1.4"/><text transform="translate(1203.10 390.54) rotate(-90)" font-size="14.0" fill="#303030" stroke="#303030" stroke-width="0.3" text-anchor="middle">9</text><line x1="1237.10" y1="409.00" x2="1237.10" y2="414.50" stroke="#333333" stroke-width="1.4"/><text transform="translate(1237.10 430.70) scale(0.9951 1)" font-size="14.0" fill="#303030" stroke="#303030" stroke-width="0.3" text-anchor="middle">0</text><line x1="1277.90" y1="409.00" x2="1277.90" y2="414.50" stroke="#333333" stroke-width="1.4"/><text transform="translate(1277.90 430.70) scale(0.9951 1)" font-size="14.0" fill="#303030" stroke="#303030" stroke-width="0.3" text-anchor="middle">1</text><line x1="1318.70" y1="409.00" x2="1318.70" y2="414.50" stroke="#333333" stroke-width="1.4"/><text transform="translate(1318.70 430.70) scale(0.9951 1)" font-size="14.0" fill="#303030" stroke="#303030" stroke-width="0.3" text-anchor="middle">2</text><line x1="1359.50" y1="409.00" x2="1359.50" y2="414.50" stroke="#333333" stroke-width="1.4"/><text transform="translate(1359.50 430.70) scale(0.9951 1)" font-size="14.0" fill="#303030" stroke="#303030" stroke-width="0.3" text-anchor="middle">3</text><line x1="1400.30" y1="409.00" x2="1400.30" y2="414.50" stroke="#333333" stroke-width="1.4"/><text transform="translate(1400.30 430.70) scale(0.9951 1)" font-size="14.0" fill="#303030" stroke="#303030" stroke-width="0.3" text-anchor="middle">4</text><line x1="1441.10" y1="409.00" x2="1441.10" y2="414.50" stroke="#333333" stroke-width="1.4"/><text transform="translate(1441.10 430.70) scale(0.9951 1)" font-size="14.0" fill="#303030" stroke="#303030" stroke-width="0.3" text-anchor="middle">5</text><line x1="1481.90" y1="409.00" x2="1481.90" y2="414.50" stroke="#333333" stroke-width="1.4"/><text transform="translate(1481.90 430.70) scale(0.9951 1)" font-size="14.0" fill="#303030" stroke="#303030" stroke-width="0.3" text-anchor="middle">6</text><line x1="1522.70" y1="409.00" x2="1522.70" y2="414.50" stroke="#333333" stroke-width="1.4"/><text transform="translate(1522.70 430.70) scale(0.9951 1)" font-size="14.0" fill="#303030" stroke="#303030" stroke-width="0.3" text-anchor="middle">7</text><line x1="1563.50" y1="409.00" x2="1563.50" y2="414.50" stroke="#333333" stroke-width="1.4"/><text transform="translate(1563.50 430.70) scale(0.9951 1)" font-size="14.0" fill="#303030" stroke="#303030" stroke-width="0.3" text-anchor="middle">8</text><line x1="1604.30" y1="409.00" x2="1604.30" y2="414.50" stroke="#333333" stroke-width="1.4"/><text transform="translate(1604.30 430.70) scale(0.9951 1)" font-size="14.0" fill="#303030" stroke="#303030" stroke-width="0.3" text-anchor="middle">9</text><rect x="1651.00" y="27.20" width="17.30" height="381.30" fill="url(#cb)"/><line x1="1668.30" y1="409.80" x2="1673.30" y2="409.80" stroke="#333333" stroke-width="1.4"/><text transform="translate(1678.00 415.10) scale(0.9951 1)" font-size="14.0" fill="#303030" stroke="#303030" stroke-width="0.3" text-anchor="start">0</text><line x1="1668.30" y1="361.95" x2="1673.30" y2="361.95" stroke="#333333" stroke-width="1.4"/><text transform="translate(1678.00 367.25) scale(0.9951 1)" font-size="14.0" fill="#303030" stroke="#303030" stroke-width="0.3" text-anchor="start">25</text><line x1="1668.30" y1="314.10" x2="1673.30" y2="314.10" stroke="#333333" stroke-width="1.4"/><text transform="translate(1678.00 319.40) scale(0.9951 1)" font-size="14.0" fill="#303030" stroke="#303030" stroke-width="0.3" text-anchor="start">50</text><line x1="1668.30" y1="266.25" x2="1673.30" y2="266.25" stroke="#333333" stroke-width="1.4"/><text transform="translate(1678.00 271.55) scale(0.9951 1)" font-size="14.0" fill="#303030" stroke="#303030" stroke-width="0.3" text-anchor="start">75</text><line x1="1668.30" y1="218.40" x2="1673.30" y2="218.40" stroke="#333333" stroke-width="1.4"/><text transform="translate(1678.00 223.70) scale(0.9951 1)" font-size="14.0" fill="#303030" stroke="#303030" stroke-width="0.3" text-anchor="start">100</text><line x1="1668.30" y1="170.55" x2="1673.30" y2="170.55" stroke="#333333" stroke-width="1.4"/><text transform="translate(1678.00 175.85) scale(0.9951 1)" font-size="14.0" fill="#303030" stroke="#303030" stroke-width="0.3" text-anchor="start">125</text><line x1="1668.30" y1="122.70" x2="1673.30" y2="122.70" stroke="#333333" stroke-width="1.4"/><text transform="translate(1678.00 128.00) scale(0.9951 1)" font-size="14.0" fill="#303030" stroke="#303030" stroke-width="0.3" text-anchor="start">150</text><line x1="1668.30" y1="74.85" x2="1673.30" y2="74.85" stroke="#333333" stroke-width="1.4"/><text transform="translate(1678.00 80.15) scale(0.9951 1)" font-size="14.0" fill="#303030" stroke="#303030" stroke-width="0.3" text-anchor="start">175</text><line x1="1668.30" y1="27.00" x2="1673.30" y2="27.00" stroke="#333333" stroke-width="1.4"/><text transform="translate(1678.00 32.30) scale(0.9951 1)" font-size="14.0" fill="#303030" stroke="#303030" stroke-width="0.3" text-anchor="start">200</text><text transform="translate(1419.70 17.30) scale(0.9951 1)" font-size="17.1" fill="#303030" stroke="#303030" stroke-width="0.3" text-anchor="middle">Confusion Matrix</text><text transform="translate(1419.70 450.70) scale(0.9951 1)" font-size="14.35" fill="#303030" stroke="#303030" stroke-width="0.3" text-anchor="middle">Predicted Labels</text><text transform="translate(1183.02 219.00) rotate(-90)" font-size="14.35" fill="#303030" stroke="#303030" stroke-width="0.3" text-anchor="middle">True Labels</text></g>
<text x="1426.50" y="496.00" font-family="Liberation Serif, serif" font-weight="bold" font-size="33.2" fill="#000" text-anchor="middle">(c) MFSAN</text>
<g font-family="DejaVu Sans, sans-serif"><rect x="50.00" y="576.50" width="41.12" height="38.55" fill="#08306b"/><rect x="90.72" y="576.50" width="41.12" height="38.55" fill="#f7fbff"/><rect x="131.44" y="576.50" width="41.12" height="38.55" fill="#f7fbff"/><rect x="172.16" y="576.50" width="41.12" height="38.55" fill="#f7fbff"/><rect x="212.88" y="576.50" width="41.12" height="38.55" fill="#f7fbff"/><rect x="253.60" y="576.50" width="41.12" height="38.55" fill="#f7fbff"/><rect x="294.32" y="576.50" width="41.12" height="38.55" fill="#f7fbff"/><rect x="335.04" y="576.50" width="41.12" height="38.55" fill="#f7fbff"/><rect x="375.76" y="576.50" width="41.12" height="38.55" fill="#f7fbff"/><rect x="416.48" y="576.50" width="41.12" height="38.55" fill="#f7fbff"/><rect x="50.00" y="614.65" width="41.12" height="38.55" fill="#f7fbff"/><rect x="90.72" y="614.65" width="41.12" height="38.55" fill="#08306b"/><rect x="131.44" y="614.65" width="41.12" height="38.55" fill="#f7fbff"/><rect x="172.16" y="614.65" width="41.12" height="38.55" fill="#f7fbff"/><rect x="212.88" y="614.65" width="41.12" height="38.55" fill="#f7fbff"/><rect x="253.60" y="614.65" width="41.12" height="38.55" fill="#f7fbff"/><rect x="294.32" y="614.65" width="41.12" height="38.55" fill="#f7fbff"/><rect x="335.04" y="614.65" width="41.12" height="38.55" fill="#f7fbff"/><rect x="375.76" y="614.65" width="41.12" height="38.55" fill="#f7fbff"/><rect x="416.48" y="614.65" width="41.12" height="38.55" fill="#f7fbff"/><rect x="50.00" y="652.80" width="41.12" height="38.55" fill="#f7fbff"/><rect x="90.72" y="652.80" width="41.12" height="38.55" fill="#f7fbff"/><rect x="131.44" y="652.80" width="41.12" height="38.55" fill="#09529d"/><rect x="172.16" y="652.80" width="41.12" height="38.55" fill="#f7fbff"/><rect x="212.88" y="652.80" width="41.12" height="38.55" fill="#f7fbff"/><rect x="253.60" y="652.80" width="41.12" height="38.55" fill="#ecf4fb"/><rect x="294.32" y="652.80" width="41.12" height="38.55" fill="#f5f9fe"/><rect x="335.04" y="652.80" width="41.12" height="38.55" fill="#f7fbff"/><rect x="375.76" y="652.80" width="41.12" height="38.55" fill="#f7fbff"/><rect x="416.48" y="652.80" width="41.12" height="38.55" fill="#ebf3fb"/><rect x="50.00" y="690.95" width="41.12" height="38.55" fill="#f7fbff"/><rect x="90.72" y="690.95" width="41.12" height="38.55" fill="#f7fbff"/><rect x="131.44" y="690.95" width="41.12" height="38.55" fill="#f7fbff"/><rect x="172.16" y="690.95" width="41.12" height="38.55" fill="#4695c8"/><rect x="212.88" y="690.95" width="41.12" height="38.55" fill="#f7fbff"/><rect x="253.60" y="690.95" width="41.12" height="38.55" fill="#d0e1f2"/><rect x="294.32" y="690.95" width="41.12" height="38.55" fill="#f7fbff"/><rect x="335.04" y="690.95" width="41.12" height="38.55" fill="#eaf3fb"/><rect x="375.76" y="690.95" width="41.12" height="38.55" fill="#f7fbff"/><rect x="416.48" y="690.95" width="41.12" height="38.55" fill="#deebf7"/><rect x="50.00" y="729.10" width="41.12" height="38.55" fill="#f7fbff"/><rect x="90.72" y="729.10" width="41.12" height="38.55" fill="#e5eff9"/><rect x="131.44" y="729.10" width="41.12" height="38.55" fill="#f7fbff"/><rect x="172.16" y="729.10" width="41.12" height="38.55" fill="#f7fbff"/><rect x="212.88" y="729.10" width="41.12" height="38.55" fill="#084f99"/><rect x="253.60" y="729.10" width="41.12" height="38.55" fill="#f7fbff"/><rect x="294.32" y="729.10" width="41.12" height="38.55" fill="#f7fbff"/><rect x="335.04" y="729.10" width="41.12" height="38.55" fill="#f7fbff"/><rect x="375.76" y="729.10" width="41.12" height="38.55" fill="#f7fbff"/><rect x="416.48" y="729.10" width="41.12" height="38.55" fill="#f2f7fd"/><rect x="50.00" y="767.25" width="41.12" height="38.55" fill="#f7fbff"/><rect x="90.72" y="767.25" width="41.12" height="38.55" fill="#f7fbff"/><rect x="131.44" y="767.25" width="41.12" height="38.55" fill="#e8f1fa"/><rect x="172.16" y="767.25" width="41.12" height="38.55" fill="#f7fbff"/><rect x="212.88" y="767.25" width="41.12" height="38.55" fill="#f7fbff"/><rect x="253.60" y="767.25" width="41.12" height="38.55" fill="#2e7ebc"/><rect x="294.32" y="767.25" width="41.12" height="38.55" fill="#cbdef1"/><rect x="335.04" y="767.25" width="41.12" height="38.55" fill="#f7fbff"/><rect x="375.76" y="767.25" width="41.12" height="38.55" fill="#f7fbff"/><rect x="416.48" y="767.25" width="41.12" height="38.55" fill="#f7fbff"/><rect x="50.00" y="805.40" width="41.12" height="38.55" fill="#f7fbff"/><rect x="90.72" y="805.40" width="41.12" height="38.55" fill="#f7fbff"/><rect x="131.44" y="805.40" width="41.12" height="38.55" fill="#ddeaf7"/><rect x="172.16" y="805.40" width="41.12" height="38.55" fill="#e5eff9"/><rect x="212.88" y="805.40" width="41.12" height="38.55" fill="#f7fbff"/><rect x="253.60" y="805.40" width="41.12" height="38.55" fill="#f7fbff"/><rect x="294.32" y="805.40" width="41.12" height="38.55" fill="#1b69af"/><rect x="335.04" y="805.40" width="41.12" height="38.55" fill="#f7fbff"/><rect x="375.76" y="805.40" width="41.12" height="38.55" fill="#f7fbff"/><rect x="416.48" y="805.40" width="41.12" height="38.55" fill="#f7fbff"/><rect x="50.00" y="843.55" width="41.12" height="38.55" fill="#f7fbff"/><rect x="90.72" y="843.55" width="41.12" height="38.55" fill="#f7fbff"/><rect x="131.44" y="843.55" width="41.12" height="38.55" fill="#f7fbff"/><rect x="172.16" y="843.55" width="41.12" height="38.55" fill="#f3f8fe"/><rect x="212.88" y="843.55" width="41.12" height="38.55" fill="#f7fbff"/><rect x="253.60" y="843.55" width="41.12" height="38.55" fill="#f7fbff"/><rect x="294.32" y="843.55" width="41.12" height="38.55" fill="#e7f1fa"/><rect x="335.04" y="843.55" width="41.12" height="38.55" fill="#09529d"/><rect x="375.76" y="843.55" width="41.12" height="38.55" fill="#f5f9fe"/><rect x="416.48" y="843.55" width="41.12" height="38.55" fill="#f5f9fe"/><rect x="50.00" y="881.70" width="41.12" height="38.55" fill="#f7fbff"/><rect x="90.72" y="881.70" width="41.12" height="38.55" fill="#f7fbff"/><rect x="131.44" y="881.70" width="41.12" height="38.55" fill="#f7fbff"/><rect x="172.16" y="881.70" width="41.12" height="38.55" fill="#f7fbff"/><rect x="212.88" y="881.70" width="41.12" height="38.55" fill="#f7fbff"/><rect x="253.60" y="881.70" width="41.12" height="38.55" fill="#f7fbff"/><rect x="294.32" y="881.70" width="41.12" height="38.55" fill="#eff6fc"/><rect x="335.04" y="881.70" width="41.12" height="38.55" fill="#f7fbff"/><rect x="375.76" y="881.70" width="41.12" height="38.55" fill="#083c7d"/><rect x="416.48" y="881.70" width="41.12" height="38.55" fill="#f5fafe"/><rect x="50.00" y="919.85" width="41.12" height="38.55" fill="#f7fbff"/><rect x="90.72" y="919.85" width="41.12" height="38.55" fill="#f7fbff"/><rect x="131.44" y="919.85" width="41.12" height="38.55" fill="#deebf7"/><rect x="172.16" y="919.85" width="41.12" height="38.55" fill="#f7fbff"/><rect x="212.88" y="919.85" width="41.12" height="38.55" fill="#f2f7fd"/><rect x="253.60" y="919.85" width="41.12" height="38.55" fill="#f7fbff"/><rect x="294.32" y="919.85" width="41.12" height="38.55" fill="#f2f7fd"/><rect x="335.04" y="919.85" width="41.12" height="38.55" fill="#f5f9fe"/><rect x="375.76" y="919.85" width="41.12" height="38.55" fill="#f7fbff"/><rect x="416.48" y="919.85" width="41.12" height="38.55" fill="#1764ab"/><text transform="translate(70.36 599.50) scale(0.9932 1)" font-size="14.0" fill="#dce7f4" stroke="#dce7f4" stroke-width="0.3" text-anchor="middle">200</text><text transform="translate(111.08 599.50) scale(0.9932 1)" font-size="14.0" fill="#3d3d3d" stroke="#3d3d3d" stroke-width="0.3" text-anchor="middle">0</text><text transform="translate(151.80 599.50) scale(0.9932 1)" font-size="14.0" fill="#3d3d3d" stroke="#3d3d3d" stroke-width="0.3" text-anchor="middle">0</text><text transform="translate(192.52 599.50) scale(0.9932 1)" font-size="14.0" fill="#3d3d3d" stroke="#3d3d3d" stroke-width="0.3" text-anchor="middle">0</text><text transform="translate(233.24 599.50) scale(0.9932 1)" font-size="14.0" fill="#3d3d3d" stroke="#3d3d3d" stroke-width="0.3" text-anchor="middle">0</text><text transform="translate(273.96 599.50) scale(0.9932 1)" font-size="14.0" fill="#3d3d3d" stroke="#3d3d3d" stroke-width="0.3" text-anchor="middle">0</text><text transform="translate(314.68 599.50) scale(0.9932 1)" font-size="14.0" fill="#3d3d3d" stroke="#3d3d3d" stroke-width="0.3" text-anchor="middle">0</text><text transform="translate(355.40 599.50) scale(0.9932 1)" font-size="14.0" fill="#3d3d3d" stroke="#3d3d3d" stroke-width="0.3" text-anchor="middle">0</text><text transform="translate(396.12 599.50) scale(0.9932 1)" font-size="14.0" fill="#3d3d3d" stroke="#3d3d3d" stroke-width="0.3" text-anchor="middle">0</text><text transform="translate(436.84 599.50) scale(0.9932 1)" font-size="14.0" fill="#3d3d3d" stroke="#3d3d3d" stroke-width="0.3" text-anchor="middle">0</text><text transform="translate(70.36 637.85) scale(0.9932 1)" font-size="14.0" fill="#3d3d3d" stroke="#3d3d3d" stroke-width="0.3" text-anchor="middle">0</text><text transform="translate(111.08 637.85) scale(0.9932 1)" font-size="14.0" fill="#dce7f4" stroke="#dce7f4" stroke-width="0.3" text-anchor="middle">200</text><text transform="translate(151.80 637.85) scale(0.9932 1)" font-size="14.0" fill="#3d3d3d" stroke="#3d3d3d" stroke-width="0.3" text-anchor="middle">0</text><text transform="translate(192.52 637.85) scale(0.9932 1)" font-size="14.0" fill="#3d3d3d" stroke="#3d3d3d" stroke-width="0.3" text-anchor="middle">0</text><text transform="translate(233.24 637.85) scale(0.9932 1)" font-size="14.0" fill="#3d3d3d" stroke="#3d3d3d" stroke-width="0.3" text-anchor="middle">0</text><text transform="translate(273.96 637.85) scale(0.9932 1)" font-size="14.0" fill="#3d3d3d" stroke="#3d3d3d" stroke-width="0.3" text-anchor="middle">0</text><text transform="translate(314.68 637.85) scale(0.9932 1)" font-size="14.0" fill="#3d3d3d" stroke="#3d3d3d" stroke-width="0.3" text-anchor="middle">0</text><text transform="translate(355.40 637.85) scale(0.9932 1)" font-size="14.0" fill="#3d3d3d" stroke="#3d3d3d" stroke-width="0.3" text-anchor="middle">0</text><text transform="translate(396.12 637.85) scale(0.9932 1)" font-size="14.0" fill="#3d3d3d" stroke="#3d3d3d" stroke-width="0.3" text-anchor="middle">0</text><text transform="translate(436.84 637.85) scale(0.9932 1)" font-size="14.0" fill="#3d3d3d" stroke="#3d3d3d" stroke-width="0.3" text-anchor="middle">0</text><text transform="translate(70.36 676.19) scale(0.9932 1)" font-size="14.0" fill="#3d3d3d" stroke="#3d3d3d" stroke-width="0.3" text-anchor="middle">0</text><text transform="translate(111.08 676.19) scale(0.9932 1)" font-size="14.0" fill="#3d3d3d" stroke="#3d3d3d" stroke-width="0.3" text-anchor="middle">0</text><text transform="translate(151.80 676.19) scale(0.9932 1)" font-size="14.0" fill="#dce7f4" stroke="#dce7f4" stroke-width="0.3" text-anchor="middle">174</text><text transform="translate(192.52 676.19) scale(0.9932 1)" font-size="14.0" fill="#3d3d3d" stroke="#3d3d3d" stroke-width="0.3" text-anchor="middle">0</text><text transform="translate(233.24 676.19) scale(0.9932 1)" font-size="14.0" fill="#3d3d3d" stroke="#3d3d3d" stroke-width="0.3" text-anchor="middle">0</text><text transform="translate(273.96 676.19) scale(0.9932 1)" font-size="14.0" fill="#3d3d3d" stroke="#3d3d3d" stroke-width="0.3" text-anchor="middle">11</text><text transform="translate(314.68 676.19) scale(0.9932 1)" font-size="14.0" fill="#3d3d3d" stroke="#3d3d3d" stroke-width="0.3" text-anchor="middle">3</text><text transform="translate(355.40 676.19) scale(0.9932 1)" font-size="14.0" fill="#3d3d3d" stroke="#3d3d3d" stroke-width="0.3" text-anchor="middle">0</text><text transform="translate(396.12 676.19) scale(0.9932 1)" font-size="14.0" fill="#3d3d3d" stroke="#3d3d3d" stroke-width="0.3" text-anchor="middle">0</text><text transform="translate(436.84 676.19) scale(0.9932 1)" font-size="14.0" fill="#3d3d3d" stroke="#3d3d3d" stroke-width="0.3" text-anchor="middle">12</text><text transform="translate(70.36 714.54) scale(0.9932 1)" font-size="14.0" fill="#3d3d3d" stroke="#3d3d3d" stroke-width="0.3" text-anchor="middle">0</text><text transform="translate(111.08 714.54) scale(0.9932 1)" font-size="14.0" fill="#3d3d3d" stroke="#3d3d3d" stroke-width="0.3" text-anchor="middle">0</text><text transform="translate(151.80 714.54) scale(0.9932 1)" font-size="14.0" fill="#3d3d3d" stroke="#3d3d3d" stroke-width="0.3" text-anchor="middle">0</text><text transform="translate(192.52 714.54) scale(0.9932 1)" font-size="14.0" fill="#dce7f4" stroke="#dce7f4" stroke-width="0.3" text-anchor="middle">122</text><text transform="translate(233.24 714.54) scale(0.9932 1)" font-size="14.0" fill="#3d3d3d" stroke="#3d3d3d" stroke-width="0.3" text-anchor="middle">0</text><text transform="translate(273.96 714.54) scale(0.9932 1)" font-size="14.0" fill="#3d3d3d" stroke="#3d3d3d" stroke-width="0.3" text-anchor="middle">40</text><text transform="translate(314.68 714.54) scale(0.9932 1)" font-size="14.0" fill="#3d3d3d" stroke="#3d3d3d" stroke-width="0.3" text-anchor="middle">0</text><text transform="translate(355.40 714.54) scale(0.9932 1)" font-size="14.0" fill="#3d3d3d" stroke="#3d3d3d" stroke-width="0.3" text-anchor="middle">13</text><text transform="translate(396.12 714.54) scale(0.9932 1)" font-size="14.0" fill="#3d3d3d" stroke="#3d3d3d" stroke-width="0.3" text-anchor="middle">0</text><text transform="translate(436.84 714.54) scale(0.9932 1)" font-size="14.0" fill="#3d3d3d" stroke="#3d3d3d" stroke-width="0.3" text-anchor="middle">25</text><text transform="translate(70.36 752.88) scale(0.9932 1)" font-size="14.0" fill="#3d3d3d" stroke="#3d3d3d" stroke-width="0.3" text-anchor="middle">0</text><text transform="translate(111.08 752.88) scale(0.9932 1)" font-size="14.0" fill="#3d3d3d" stroke="#3d3d3d" stroke-width="0.3" text-anchor="middle">18</text><text transform="translate(151.80 752.88) scale(0.9932 1)" font-size="14.0" fill="#3d3d3d" stroke="#3d3d3d" stroke-width="0.3" text-anchor="middle">0</text><text transform="translate(192.52 752.88) scale(0.9932 1)" font-size="14.0" fill="#3d3d3d" stroke="#3d3d3d" stroke-width="0.3" text-anchor="middle">0</text><text transform="translate(233.24 752.88) scale(0.9932 1)" font-size="14.0" fill="#dce7f4" stroke="#dce7f4" stroke-width="0.3" text-anchor="middle">176</text><text transform="translate(273.96 752.88) scale(0.9932 1)" font-size="14.0" fill="#3d3d3d" stroke="#3d3d3d" stroke-width="0.3" text-anchor="middle">0</text><text transform="translate(314.68 752.88) scale(0.9932 1)" font-size="14.0" fill="#3d3d3d" stroke="#3d3d3d" stroke-width="0.3" text-anchor="middle">0</text><text transform="translate(355.40 752.88) scale(0.9932 1)" font-size="14.0" fill="#3d3d3d" stroke="#3d3d3d" stroke-width="0.3" text-anchor="middle">0</text><text transform="translate(396.12 752.88) scale(0.9932 1)" font-size="14.0" fill="#3d3d3d" stroke="#3d3d3d" stroke-width="0.3" text-anchor="middle">0</text><text transform="translate(436.84 752.88) scale(0.9932 1)" font-size="14.0" fill="#3d3d3d" stroke="#3d3d3d" stroke-width="0.3" text-anchor="middle">6</text><text transform="translate(70.36 791.23) scale(0.9932 1)" font-size="14.0" fill="#3d3d3d" stroke="#3d3d3d" stroke-width="0.3" text-anchor="middle">0</text><text transform="translate(111.08 791.23) scale(0.9932 1)" font-size="14.0" fill="#3d3d3d" stroke="#3d3d3d" stroke-width="0.3" text-anchor="middle">0</text><text transform="translate(151.80 791.23) scale(0.9932 1)" font-size="14.0" fill="#3d3d3d" stroke="#3d3d3d" stroke-width="0.3" text-anchor="middle">15</text><text transform="translate(192.52 791.23) scale(0.9932 1)" font-size="14.0" fill="#3d3d3d" stroke="#3d3d3d" stroke-width="0.3" text-anchor="middle">0</text><text transform="translate(233.24 791.23) scale(0.9932 1)" font-size="14.0" fill="#3d3d3d" stroke="#3d3d3d" stroke-width="0.3" text-anchor="middle">0</text><text transform="translate(273.96 791.23) scale(0.9932 1)" font-size="14.0" fill="#dce7f4" stroke="#dce7f4" stroke-width="0.3" text-anchor="middle">140</text><text transform="translate(314.68 791.23) scale(0.9932 1)" font-size="14.0" fill="#3d3d3d" stroke="#3d3d3d" stroke-width="0.3" text-anchor="middle">45</text><text transform="translate(355.40 791.23) scale(0.9932 1)" font-size="14.0" fill="#3d3d3d" stroke="#3d3d3d" stroke-width="0.3" text-anchor="middle">0</text><text transform="translate(396.12 791.23) scale(0.9932 1)" font-size="14.0" fill="#3d3d3d" stroke="#3d3d3d" stroke-width="0.3" text-anchor="middle">0</text><text transform="translate(436.84 791.23) scale(0.9932 1)" font-size="14.0" fill="#3d3d3d" stroke="#3d3d3d" stroke-width="0.3" text-anchor="middle">0</text><text transform="translate(70.36 829.57) scale(0.9932 1)" font-size="14.0" fill="#3d3d3d" stroke="#3d3d3d" stroke-width="0.3" text-anchor="middle">0</text><text transform="translate(111.08 829.57) scale(0.9932 1)" font-size="14.0" fill="#3d3d3d" stroke="#3d3d3d" stroke-width="0.3" text-anchor="middle">0</text><text transform="translate(151.80 829.57) scale(0.9932 1)" font-size="14.0" fill="#3d3d3d" stroke="#3d3d3d" stroke-width="0.3" text-anchor="middle">26</text><text transform="translate(192.52 829.57) scale(0.9932 1)" font-size="14.0" fill="#3d3d3d" stroke="#3d3d3d" stroke-width="0.3" text-anchor="middle">18</text><text transform="translate(233.24 829.57) scale(0.9932 1)" font-size="14.0" fill="#3d3d3d" stroke="#3d3d3d" stroke-width="0.3" text-anchor="middle">0</text><text transform="translate(273.96 829.57) scale(0.9932 1)" font-size="14.0" fill="#3d3d3d" stroke="#3d3d3d" stroke-width="0.3" text-anchor="middle">0</text><text transform="translate(314.68 829.57) scale(0.9932 1)" font-size="14.0" fill="#dce7f4" stroke="#dce7f4" stroke-width="0.3" text-anchor="middle">156</text><text transform="translate(355.40 829.57) scale(0.9932 1)" font-size="14.0" fill="#3d3d3d" stroke="#3d3d3d" stroke-width="0.3" text-anchor="middle">0</text><text transform="translate(396.12 829.57) scale(0.9932 1)" font-size="14.0" fill="#3d3d3d" stroke="#3d3d3d" stroke-width="0.3" text-anchor="middle">0</text><text transform="translate(436.84 829.57) scale(0.9932 1)" font-size="14.0" fill="#3d3d3d" stroke="#3d3d3d" stroke-width="0.3" text-anchor="middle">0</text><text transform="translate(70.36 867.91) scale(0.9932 1)" font-size="14.0" fill="#3d3d3d" stroke="#3d3d3d" stroke-width="0.3" text-anchor="middle">0</text><text transform="translate(111.08 867.91) scale(0.9932 1)" font-size="14.0" fill="#3d3d3d" stroke="#3d3d3d" stroke-width="0.3" text-anchor="middle">0</text><text transform="translate(151.80 867.91) scale(0.9932 1)" font-size="14.0" fill="#3d3d3d" stroke="#3d3d3d" stroke-width="0.3" text-anchor="middle">0</text><text transform="translate(192.52 867.91) scale(0.9932 1)" font-size="14.0" fill="#3d3d3d" stroke="#3d3d3d" stroke-width="0.3" text-anchor="middle">4</text><text transform="translate(233.24 867.91) scale(0.9932 1)" font-size="14.0" fill="#3d3d3d" stroke="#3d3d3d" stroke-width="0.3" text-anchor="middle">0</text><text transform="translate(273.96 867.91) scale(0.9932 1)" font-size="14.0" fill="#3d3d3d" stroke="#3d3d3d" stroke-width="0.3" text-anchor="middle">0</text><text transform="translate(314.68 867.91) scale(0.9932 1)" font-size="14.0" fill="#3d3d3d" stroke="#3d3d3d" stroke-width="0.3" text-anchor="middle">16</text><text transform="translate(355.40 867.91) scale(0.9932 1)" font-size="14.0" fill="#dce7f4" stroke="#dce7f4" stroke-width="0.3" text-anchor="middle">174</text><text transform="translate(396.12 867.91) scale(0.9932 1)" font-size="14.0" fill="#3d3d3d" stroke="#3d3d3d" stroke-width="0.3" text-anchor="middle">3</text><text transform="translate(436.84 867.91) scale(0.9932 1)" font-size="14.0" fill="#3d3d3d" stroke="#3d3d3d" stroke-width="0.3" text-anchor="middle">3</text><text transform="translate(70.36 906.26) scale(0.9932 1)" font-size="14.0" fill="#3d3d3d" stroke="#3d3d3d" stroke-width="0.3" text-anchor="middle">0</text><text transform="translate(111.08 906.26) scale(0.9932 1)" font-size="14.0" fill="#3d3d3d" stroke="#3d3d3d" stroke-width="0.3" text-anchor="middle">0</text><text transform="translate(151.80 906.26) scale(0.9932 1)" font-size="14.0" fill="#3d3d3d" stroke="#3d3d3d" stroke-width="0.3" text-anchor="middle">0</text><text transform="translate(192.52 906.26) scale(0.9932 1)" font-size="14.0" fill="#3d3d3d" stroke="#3d3d3d" stroke-width="0.3" text-anchor="middle">0</text><text transform="translate(233.24 906.26) scale(0.9932 1)" font-size="14.0" fill="#3d3d3d" stroke="#3d3d3d" stroke-width="0.3" text-anchor="middle">0</text><text transform="translate(273.96 906.26) scale(0.9932 1)" font-size="14.0" fill="#3d3d3d" stroke="#3d3d3d" stroke-width="0.3" text-anchor="middle">0</text><text transform="translate(314.68 906.26) scale(0.9932 1)" font-size="14.0" fill="#3d3d3d" stroke="#3d3d3d" stroke-width="0.3" text-anchor="middle">8</text><text transform="translate(355.40 906.26) scale(0.9932 1)" font-size="14.0" fill="#3d3d3d" stroke="#3d3d3d" stroke-width="0.3" text-anchor="middle">0</text><text transform="translate(396.12 906.26) scale(0.9932 1)" font-size="14.0" fill="#dce7f4" stroke="#dce7f4" stroke-width="0.3" text-anchor="middle">190</text><text transform="translate(436.84 906.26) scale(0.9932 1)" font-size="14.0" fill="#3d3d3d" stroke="#3d3d3d" stroke-width="0.3" text-anchor="middle">2</text><text transform="translate(70.36 944.60) scale(0.9932 1)" font-size="14.0" fill="#3d3d3d" stroke="#3d3d3d" stroke-width="0.3" text-anchor="middle">0</text><text transform="translate(111.08 944.60) scale(0.9932 1)" font-size="14.0" fill="#3d3d3d" stroke="#3d3d3d" stroke-width="0.3" text-anchor="middle">0</text><text transform="translate(151.80 944.60) scale(0.9932 1)" font-size="14.0" fill="#3d3d3d" stroke="#3d3d3d" stroke-width="0.3" text-anchor="middle">25</text><text transform="translate(192.52 944.60) scale(0.9932 1)" font-size="14.0" fill="#3d3d3d" stroke="#3d3d3d" stroke-width="0.3" text-anchor="middle">0</text><text transform="translate(233.24 944.60) scale(0.9932 1)" font-size="14.0" fill="#3d3d3d" stroke="#3d3d3d" stroke-width="0.3" text-anchor="middle">6</text><text transform="translate(273.96 944.60) scale(0.9932 1)" font-size="14.0" fill="#3d3d3d" stroke="#3d3d3d" stroke-width="0.3" text-anchor="middle">0</text><text transform="translate(314.68 944.60) scale(0.9932 1)" font-size="14.0" fill="#3d3d3d" stroke="#3d3d3d" stroke-width="0.3" text-anchor="middle">6</text><text transform="translate(355.40 944.60) scale(0.9932 1)" font-size="14.0" fill="#3d3d3d" stroke="#3d3d3d" stroke-width="0.3" text-anchor="middle">3</text><text transform="translate(396.12 944.60) scale(0.9932 1)" font-size="14.0" fill="#3d3d3d" stroke="#3d3d3d" stroke-width="0.3" text-anchor="middle">0</text><text transform="translate(436.84 944.60) scale(0.9932 1)" font-size="14.0" fill="#dce7f4" stroke="#dce7f4" stroke-width="0.3" text-anchor="middle">160</text><line x1="44.50" y1="595.88" x2="50.00" y2="595.88" stroke="#333333" stroke-width="1.4"/><text transform="translate(35.70 596.38) rotate(-90)" font-size="14.0" fill="#303030" stroke="#303030" stroke-width="0.3" text-anchor="middle">0</text><line x1="44.50" y1="634.06" x2="50.00" y2="634.06" stroke="#333333" stroke-width="1.4"/><text transform="translate(35.70 634.56) rotate(-90)" font-size="14.0" fill="#303030" stroke="#303030" stroke-width="0.3" text-anchor="middle">1</text><line x1="44.50" y1="672.24" x2="50.00" y2="672.24" stroke="#333333" stroke-width="1.4"/><text transform="translate(35.70 672.74) rotate(-90)" font-size="14.0" fill="#303030" stroke="#303030" stroke-width="0.3" text-anchor="middle">2</text><line x1="44.50" y1="710.42" x2="50.00" y2="710.42" stroke="#333333" stroke-width="1.4"/><text transform="translate(35.70 710.92) rotate(-90)" font-size="14.0" fill="#303030" stroke="#303030" stroke-width="0.3" text-anchor="middle">3</text><line x1="44.50" y1="748.61" x2="50.00" y2="748.61" stroke="#333333" stroke-width="1.4"/><text transform="translate(35.70 749.11) rotate(-90)" font-size="14.0" fill="#303030" stroke="#303030" stroke-width="0.3" text-anchor="middle">4</text><line x1="44.50" y1="786.79" x2="50.00" y2="786.79" stroke="#333333" stroke-width="1.4"/><text transform="translate(35.70 787.29) rotate(-90)" font-size="14.0" fill="#303030" stroke="#303030" stroke-width="0.3" text-anchor="middle">5</text><line x1="44.50" y1="824.97" x2="50.00" y2="824.97" stroke="#333333" stroke-width="1.4"/><text transform="translate(35.70 825.47) rotate(-90)" font-size="14.0" fill="#303030" stroke="#303030" stroke-width="0.3" text-anchor="middle">6</text><line x1="44.50" y1="863.16" x2="50.00" y2="863.16" stroke="#333333" stroke-width="1.4"/><text transform="translate(35.70 863.66) rotate(-90)" font-size="14.0" fill="#303030" stroke="#303030" stroke-width="0.3" text-anchor="middle">7</text><line x1="44.50" y1="901.34" x2="50.00" y2="901.34" stroke="#333333" stroke-width="1.4"/><text transform="translate(35.70 901.84) rotate(-90)" font-size="14.0" fill="#303030" stroke="#303030" stroke-width="0.3" text-anchor="middle">8</text><line x1="44.50" y1="939.52" x2="50.00" y2="939.52" stroke="#333333" stroke-width="1.4"/><text transform="translate(35.70 940.02) rotate(-90)" font-size="14.0" fill="#303030" stroke="#303030" stroke-width="0.3" text-anchor="middle">9</text><line x1="70.36" y1="958.50" x2="70.36" y2="964.00" stroke="#333333" stroke-width="1.4"/><text transform="translate(70.36 981.00) scale(0.9932 1)" font-size="14.0" fill="#303030" stroke="#303030" stroke-width="0.3" text-anchor="middle">0</text><line x1="111.08" y1="958.50" x2="111.08" y2="964.00" stroke="#333333" stroke-width="1.4"/><text transform="translate(111.08 981.00) scale(0.9932 1)" font-size="14.0" fill="#303030" stroke="#303030" stroke-width="0.3" text-anchor="middle">1</text><line x1="151.80" y1="958.50" x2="151.80" y2="964.00" stroke="#333333" stroke-width="1.4"/><text transform="translate(151.80 981.00) scale(0.9932 1)" font-size="14.0" fill="#303030" stroke="#303030" stroke-width="0.3" text-anchor="middle">2</text><line x1="192.52" y1="958.50" x2="192.52" y2="964.00" stroke="#333333" stroke-width="1.4"/><text transform="translate(192.52 981.00) scale(0.9932 1)" font-size="14.0" fill="#303030" stroke="#303030" stroke-width="0.3" text-anchor="middle">3</text><line x1="233.24" y1="958.50" x2="233.24" y2="964.00" stroke="#333333" stroke-width="1.4"/><text transform="translate(233.24 981.00) scale(0.9932 1)" font-size="14.0" fill="#303030" stroke="#303030" stroke-width="0.3" text-anchor="middle">4</text><line x1="273.96" y1="958.50" x2="273.96" y2="964.00" stroke="#333333" stroke-width="1.4"/><text transform="translate(273.96 981.00) scale(0.9932 1)" font-size="14.0" fill="#303030" stroke="#303030" stroke-width="0.3" text-anchor="middle">5</text><line x1="314.68" y1="958.50" x2="314.68" y2="964.00" stroke="#333333" stroke-width="1.4"/><text transform="translate(314.68 981.00) scale(0.9932 1)" font-size="14.0" fill="#303030" stroke="#303030" stroke-width="0.3" text-anchor="middle">6</text><line x1="355.40" y1="958.50" x2="355.40" y2="964.00" stroke="#333333" stroke-width="1.4"/><text transform="translate(355.40 981.00) scale(0.9932 1)" font-size="14.0" fill="#303030" stroke="#303030" stroke-width="0.3" text-anchor="middle">7</text><line x1="396.12" y1="958.50" x2="396.12" y2="964.00" stroke="#333333" stroke-width="1.4"/><text transform="translate(396.12 981.00) scale(0.9932 1)" font-size="14.0" fill="#303030" stroke="#303030" stroke-width="0.3" text-anchor="middle">8</text><line x1="436.84" y1="958.50" x2="436.84" y2="964.00" stroke="#333333" stroke-width="1.4"/><text transform="translate(436.84 981.00) scale(0.9932 1)" font-size="14.0" fill="#303030" stroke="#303030" stroke-width="0.3" text-anchor="middle">9</text><rect x="483.20" y="576.50" width="18.40" height="381.50" fill="url(#cb)"/><line x1="501.60" y1="959.30" x2="506.60" y2="959.30" stroke="#333333" stroke-width="1.4"/><text transform="translate(511.80 964.60) scale(0.9932 1)" font-size="14.0" fill="#303030" stroke="#303030" stroke-width="0.3" text-anchor="start">0</text><line x1="501.60" y1="911.42" x2="506.60" y2="911.42" stroke="#333333" stroke-width="1.4"/><text transform="translate(511.80 916.73) scale(0.9932 1)" font-size="14.0" fill="#303030" stroke="#303030" stroke-width="0.3" text-anchor="start">25</text><line x1="501.60" y1="863.55" x2="506.60" y2="863.55" stroke="#333333" stroke-width="1.4"/><text transform="translate(511.80 868.85) scale(0.9932 1)" font-size="14.0" fill="#303030" stroke="#303030" stroke-width="0.3" text-anchor="start">50</text><line x1="501.60" y1="815.67" x2="506.60" y2="815.67" stroke="#333333" stroke-width="1.4"/><text transform="translate(511.80 820.98) scale(0.9932 1)" font-size="14.0" fill="#303030" stroke="#303030" stroke-width="0.3" text-anchor="start">75</text><line x1="501.60" y1="767.80" x2="506.60" y2="767.80" stroke="#333333" stroke-width="1.4"/><text transform="translate(511.80 773.10) scale(0.9932 1)" font-size="14.0" fill="#303030" stroke="#303030" stroke-width="0.3" text-anchor="start">100</text><line x1="501.60" y1="719.92" x2="506.60" y2="719.92" stroke="#333333" stroke-width="1.4"/><text transform="translate(511.80 725.23) scale(0.9932 1)" font-size="14.0" fill="#303030" stroke="#303030" stroke-width="0.3" text-anchor="start">125</text><line x1="501.60" y1="672.05" x2="506.60" y2="672.05" stroke="#333333" stroke-width="1.4"/><text transform="translate(511.80 677.35) scale(0.9932 1)" font-size="14.0" fill="#303030" stroke="#303030" stroke-width="0.3" text-anchor="start">150</text><line x1="501.60" y1="624.17" x2="506.60" y2="624.17" stroke="#333333" stroke-width="1.4"/><text transform="translate(511.80 629.48) scale(0.9932 1)" font-size="14.0" fill="#303030" stroke="#303030" stroke-width="0.3" text-anchor="start">175</text><line x1="501.60" y1="576.30" x2="506.60" y2="576.30" stroke="#333333" stroke-width="1.4"/><text transform="translate(511.80 581.60) scale(0.9932 1)" font-size="14.0" fill="#303030" stroke="#303030" stroke-width="0.3" text-anchor="start">200</text><text transform="translate(252.30 567.30) scale(0.9932 1)" font-size="17.1" fill="#303030" stroke="#303030" stroke-width="0.3" text-anchor="middle">Confusion Matrix</text><text transform="translate(253.00 1000.70) scale(0.9932 1)" font-size="14.35" fill="#303030" stroke="#303030" stroke-width="0.3" text-anchor="middle">Predicted Labels</text><text transform="translate(15.52 768.30) rotate(-90)" font-size="14.35" fill="#303030" stroke="#303030" stroke-width="0.3" text-anchor="middle">True Labels</text></g>
<text x="236.70" y="1045.00" font-family="Liberation Serif, serif" font-weight="bold" font-size="33.2" fill="#000" text-anchor="middle">(d) M<tspan dy='-17' font-size='19' font-weight='normal'>3</tspan><tspan dy='17'>SDA</tspan></text>
<g font-family="DejaVu Sans, sans-serif"><rect x="626.30" y="577.30" width="42.28" height="38.52" fill="#08306b"/><rect x="668.18" y="577.30" width="42.28" height="38.52" fill="#f7fbff"/><rect x="710.06" y="577.30" width="42.28" height="38.52" fill="#f7fbff"/><rect x="751.94" y="577.30" width="42.28" height="38.52" fill="#f7fbff"/><rect x="793.82" y="577.30" width="42.28" height="38.52" fill="#f7fbff"/><rect x="835.70" y="577.30" width="42.28" height="38.52" fill="#f7fbff"/><rect x="877.58" y="577.30" width="42.28" height="38.52" fill="#f7fbff"/><rect x="919.46" y="577.30" width="42.28" height="38.52" fill="#f7fbff"/><rect x="961.34" y="577.30" width="42.28" height="38.52" fill="#f7fbff"/><rect x="1003.22" y="577.30" width="42.28" height="38.52" fill="#f7fbff"/><rect x="626.30" y="615.42" width="42.28" height="38.52" fill="#f7fbff"/><rect x="668.18" y="615.42" width="42.28" height="38.52" fill="#083a7a"/><rect x="710.06" y="615.42" width="42.28" height="38.52" fill="#f7fbff"/><rect x="751.94" y="615.42" width="42.28" height="38.52" fill="#f7fbff"/><rect x="793.82" y="615.42" width="42.28" height="38.52" fill="#f5f9fe"/><rect x="835.70" y="615.42" width="42.28" height="38.52" fill="#f7fbff"/><rect x="877.58" y="615.42" width="42.28" height="38.52" fill="#f7fbff"/><rect x="919.46" y="615.42" width="42.28" height="38.52" fill="#f2f8fd"/><rect x="961.34" y="615.42" width="42.28" height="38.52" fill="#f7fbff"/><rect x="1003.22" y="615.42" width="42.28" height="38.52" fill="#f7fbff"/><rect x="626.30" y="653.54" width="42.28" height="38.52" fill="#f7fbff"/><rect x="668.18" y="653.54" width="42.28" height="38.52" fill="#f7fbff"/><rect x="710.06" y="653.54" width="42.28" height="38.52" fill="#0d57a1"/><rect x="751.94" y="653.54" width="42.28" height="38.52" fill="#f7fbff"/><rect x="793.82" y="653.54" width="42.28" height="38.52" fill="#f7fbff"/><rect x="835.70" y="653.54" width="42.28" height="38.52" fill="#e5eff9"/><rect x="877.58" y="653.54" width="42.28" height="38.52" fill="#f7fbff"/><rect x="919.46" y="653.54" width="42.28" height="38.52" fill="#eef5fc"/><rect x="961.34" y="653.54" width="42.28" height="38.52" fill="#f7fbff"/><rect x="1003.22" y="653.54" width="42.28" height="38.52" fill="#f5f9fe"/><rect x="626.30" y="691.66" width="42.28" height="38.52" fill="#f7fbff"/><rect x="668.18" y="691.66" width="42.28" height="38.52" fill="#f7fbff"/><rect x="710.06" y="691.66" width="42.28" height="38.52" fill="#f7fbff"/><rect x="751.94" y="691.66" width="42.28" height="38.52" fill="#1f6eb3"/><rect x="793.82" y="691.66" width="42.28" height="38.52" fill="#d8e7f5"/><rect x="835.70" y="691.66" width="42.28" height="38.52" fill="#f7fbff"/><rect x="877.58" y="691.66" width="42.28" height="38.52" fill="#f7fbff"/><rect x="919.46" y="691.66" width="42.28" height="38.52" fill="#eff6fc"/><rect x="961.34" y="691.66" width="42.28" height="38.52" fill="#f7fbff"/><rect x="1003.22" y="691.66" width="42.28" height="38.52" fill="#eff6fc"/><rect x="626.30" y="729.78" width="42.28" height="38.52" fill="#f7fbff"/><rect x="668.18" y="729.78" width="42.28" height="38.52" fill="#f5f9fe"/><rect x="710.06" y="729.78" width="42.28" height="38.52" fill="#f7fbff"/><rect x="751.94" y="729.78" width="42.28" height="38.52" fill="#f7fbff"/><rect x="793.82" y="729.78" width="42.28" height="38.52" fill="#084a91"/><rect x="835.70" y="729.78" width="42.28" height="38.52" fill="#f7fbff"/><rect x="877.58" y="729.78" width="42.28" height="38.52" fill="#f1f7fd"/><rect x="919.46" y="729.78" width="42.28" height="38.52" fill="#f7fbff"/><rect x="961.34" y="729.78" width="42.28" height="38.52" fill="#f7fbff"/><rect x="1003.22" y="729.78" width="42.28" height="38.52" fill="#eef5fc"/><rect x="626.30" y="767.90" width="42.28" height="38.52" fill="#f7fbff"/><rect x="668.18" y="767.90" width="42.28" height="38.52" fill="#f7fbff"/><rect x="710.06" y="767.90" width="42.28" height="38.52" fill="#f1f7fd"/><rect x="751.94" y="767.90" width="42.28" height="38.52" fill="#f7fbff"/><rect x="793.82" y="767.90" width="42.28" height="38.52" fill="#f7fbff"/><rect x="835.70" y="767.90" width="42.28" height="38.52" fill="#08458a"/><rect x="877.58" y="767.90" width="42.28" height="38.52" fill="#f2f8fd"/><rect x="919.46" y="767.90" width="42.28" height="38.52" fill="#f3f8fe"/><rect x="961.34" y="767.90" width="42.28" height="38.52" fill="#f7fbff"/><rect x="1003.22" y="767.90" width="42.28" height="38.52" fill="#f7fbff"/><rect x="626.30" y="806.02" width="42.28" height="38.52" fill="#f7fbff"/><rect x="668.18" y="806.02" width="42.28" height="38.52" fill="#f7fbff"/><rect x="710.06" y="806.02" width="42.28" height="38.52" fill="#f7fbff"/><rect x="751.94" y="806.02" width="42.28" height="38.52" fill="#e4eff9"/><rect x="793.82" y="806.02" width="42.28" height="38.52" fill="#f7fbff"/><rect x="835.70" y="806.02" width="42.28" height="38.52" fill="#f7fbff"/><rect x="877.58" y="806.02" width="42.28" height="38.52" fill="#0e59a2"/><rect x="919.46" y="806.02" width="42.28" height="38.52" fill="#eaf3fb"/><rect x="961.34" y="806.02" width="42.28" height="38.52" fill="#f7fbff"/><rect x="1003.22" y="806.02" width="42.28" height="38.52" fill="#f7fbff"/><rect x="626.30" y="844.14" width="42.28" height="38.52" fill="#f7fbff"/><rect x="668.18" y="844.14" width="42.28" height="38.52" fill="#f7fbff"/><rect x="710.06" y="844.14" width="42.28" height="38.52" fill="#f7fbff"/><rect x="751.94" y="844.14" width="42.28" height="38.52" fill="#e7f1fa"/><rect x="793.82" y="844.14" width="42.28" height="38.52" fill="#f7fbff"/><rect x="835.70" y="844.14" width="42.28" height="38.52" fill="#f7fbff"/><rect x="877.58" y="844.14" width="42.28" height="38.52" fill="#d9e8f5"/><rect x="919.46" y="844.14" width="42.28" height="38.52" fill="#2070b4"/><rect x="961.34" y="844.14" width="42.28" height="38.52" fill="#f7fbff"/><rect x="1003.22" y="844.14" width="42.28" height="38.52" fill="#f3f8fe"/><rect x="626.30" y="882.26" width="42.28" height="38.52" fill="#f7fbff"/><rect x="668.18" y="882.26" width="42.28" height="38.52" fill="#f7fbff"/><rect x="710.06" y="882.26" width="42.28" height="38.52" fill="#f7fbff"/><rect x="751.94" y="882.26" width="42.28" height="38.52" fill="#f7fbff"/><rect x="793.82" y="882.26" width="42.28" height="38.52" fill="#f7fbff"/><rect x="835.70" y="882.26" width="42.28" height="38.52" fill="#f7fbff"/><rect x="877.58" y="882.26" width="42.28" height="38.52" fill="#f7fbff"/><rect x="919.46" y="882.26" width="42.28" height="38.52" fill="#f7fbff"/><rect x="961.34" y="882.26" width="42.28" height="38.52" fill="#08306b"/><rect x="1003.22" y="882.26" width="42.28" height="38.52" fill="#f7fbff"/><rect x="626.30" y="920.38" width="42.28" height="38.52" fill="#f7fbff"/><rect x="668.18" y="920.38" width="42.28" height="38.52" fill="#ecf4fb"/><rect x="710.06" y="920.38" width="42.28" height="38.52" fill="#f7fbff"/><rect x="751.94" y="920.38" width="42.28" height="38.52" fill="#f7fbff"/><rect x="793.82" y="920.38" width="42.28" height="38.52" fill="#dfecf7"/><rect x="835.70" y="920.38" width="42.28" height="38.52" fill="#f7fbff"/><rect x="877.58" y="920.38" width="42.28" height="38.52" fill="#f7fbff"/><rect x="919.46" y="920.38" width="42.28" height="38.52" fill="#eef5fc"/><rect x="961.34" y="920.38" width="42.28" height="38.52" fill="#f7fbff"/><rect x="1003.22" y="920.38" width="42.28" height="38.52" fill="#1b69af"/><text transform="translate(647.24 600.10) scale(1.0215 1)" font-size="14.0" fill="#dce7f4" stroke="#dce7f4" stroke-width="0.3" text-anchor="middle">200</text><text transform="translate(689.12 600.10) scale(1.0215 1)" font-size="14.0" fill="#3d3d3d" stroke="#3d3d3d" stroke-width="0.3" text-anchor="middle">0</text><text transform="translate(731.00 600.10) scale(1.0215 1)" font-size="14.0" fill="#3d3d3d" stroke="#3d3d3d" stroke-width="0.3" text-anchor="middle">0</text><text transform="translate(772.88 600.10) scale(1.0215 1)" font-size="14.0" fill="#3d3d3d" stroke="#3d3d3d" stroke-width="0.3" text-anchor="middle">0</text><text transform="translate(814.76 600.10) scale(1.0215 1)" font-size="14.0" fill="#3d3d3d" stroke="#3d3d3d" stroke-width="0.3" text-anchor="middle">0</text><text transform="translate(856.64 600.10) scale(1.0215 1)" font-size="14.0" fill="#3d3d3d" stroke="#3d3d3d" stroke-width="0.3" text-anchor="middle">0</text><text transform="translate(898.52 600.10) scale(1.0215 1)" font-size="14.0" fill="#3d3d3d" stroke="#3d3d3d" stroke-width="0.3" text-anchor="middle">0</text><text transform="translate(940.40 600.10) scale(1.0215 1)" font-size="14.0" fill="#3d3d3d" stroke="#3d3d3d" stroke-width="0.3" text-anchor="middle">0</text><text transform="translate(982.28 600.10) scale(1.0215 1)" font-size="14.0" fill="#3d3d3d" stroke="#3d3d3d" stroke-width="0.3" text-anchor="middle">0</text><text transform="translate(1024.16 600.10) scale(1.0215 1)" font-size="14.0" fill="#3d3d3d" stroke="#3d3d3d" stroke-width="0.3" text-anchor="middle">0</text><text transform="translate(647.24 638.44) scale(1.0215 1)" font-size="14.0" fill="#3d3d3d" stroke="#3d3d3d" stroke-width="0.3" text-anchor="middle">0</text><text transform="translate(689.12 638.44) scale(1.0215 1)" font-size="14.0" fill="#dce7f4" stroke="#dce7f4" stroke-width="0.3" text-anchor="middle">192</text><text transform="translate(731.00 638.44) scale(1.0215 1)" font-size="14.0" fill="#3d3d3d" stroke="#3d3d3d" stroke-width="0.3" text-anchor="middle">0</text><text transform="translate(772.88 638.44) scale(1.0215 1)" font-size="14.0" fill="#3d3d3d" stroke="#3d3d3d" stroke-width="0.3" text-anchor="middle">0</text><text transform="translate(814.76 638.44) scale(1.0215 1)" font-size="14.0" fill="#3d3d3d" stroke="#3d3d3d" stroke-width="0.3" text-anchor="middle">3</text><text transform="translate(856.64 638.44) scale(1.0215 1)" font-size="14.0" fill="#3d3d3d" stroke="#3d3d3d" stroke-width="0.3" text-anchor="middle">0</text><text transform="translate(898.52 638.44) scale(1.0215 1)" font-size="14.0" fill="#3d3d3d" stroke="#3d3d3d" stroke-width="0.3" text-anchor="middle">0</text><text transform="translate(940.40 638.44) scale(1.0215 1)" font-size="14.0" fill="#3d3d3d" stroke="#3d3d3d" stroke-width="0.3" text-anchor="middle">5</text><text transform="translate(982.28 638.44) scale(1.0215 1)" font-size="14.0" fill="#3d3d3d" stroke="#3d3d3d" stroke-width="0.3" text-anchor="middle">0</text><text transform="translate(1024.16 638.44) scale(1.0215 1)" font-size="14.0" fill="#3d3d3d" stroke="#3d3d3d" stroke-width="0.3" text-anchor="middle">0</text><text transform="translate(647.24 676.77) scale(1.0215 1)" font-size="14.0" fill="#3d3d3d" stroke="#3d3d3d" stroke-width="0.3" text-anchor="middle">0</text><text transform="translate(689.12 676.77) scale(1.0215 1)" font-size="14.0" fill="#3d3d3d" stroke="#3d3d3d" stroke-width="0.3" text-anchor="middle">0</text><text transform="translate(731.00 676.77) scale(1.0215 1)" font-size="14.0" fill="#dce7f4" stroke="#dce7f4" stroke-width="0.3" text-anchor="middle">170</text><text transform="translate(772.88 676.77) scale(1.0215 1)" font-size="14.0" fill="#3d3d3d" stroke="#3d3d3d" stroke-width="0.3" text-anchor="middle">0</text><text transform="translate(814.76 676.77) scale(1.0215 1)" font-size="14.0" fill="#3d3d3d" stroke="#3d3d3d" stroke-width="0.3" text-anchor="middle">0</text><text transform="translate(856.64 676.77) scale(1.0215 1)" font-size="14.0" fill="#3d3d3d" stroke="#3d3d3d" stroke-width="0.3" text-anchor="middle">18</text><text transform="translate(898.52 676.77) scale(1.0215 1)" font-size="14.0" fill="#3d3d3d" stroke="#3d3d3d" stroke-width="0.3" text-anchor="middle">0</text><text transform="translate(940.40 676.77) scale(1.0215 1)" font-size="14.0" fill="#3d3d3d" stroke="#3d3d3d" stroke-width="0.3" text-anchor="middle">9</text><text transform="translate(982.28 676.77) scale(1.0215 1)" font-size="14.0" fill="#3d3d3d" stroke="#3d3d3d" stroke-width="0.3" text-anchor="middle">0</text><text transform="translate(1024.16 676.77) scale(1.0215 1)" font-size="14.0" fill="#3d3d3d" stroke="#3d3d3d" stroke-width="0.3" text-anchor="middle">3</text><text transform="translate(647.24 715.10) scale(1.0215 1)" font-size="14.0" fill="#3d3d3d" stroke="#3d3d3d" stroke-width="0.3" text-anchor="middle">0</text><text transform="translate(689.12 715.10) scale(1.0215 1)" font-size="14.0" fill="#3d3d3d" stroke="#3d3d3d" stroke-width="0.3" text-anchor="middle">0</text><text transform="translate(731.00 715.10) scale(1.0215 1)" font-size="14.0" fill="#3d3d3d" stroke="#3d3d3d" stroke-width="0.3" text-anchor="middle">0</text><text transform="translate(772.88 715.10) scale(1.0215 1)" font-size="14.0" fill="#dce7f4" stroke="#dce7f4" stroke-width="0.3" text-anchor="middle">152</text><text transform="translate(814.76 715.10) scale(1.0215 1)" font-size="14.0" fill="#3d3d3d" stroke="#3d3d3d" stroke-width="0.3" text-anchor="middle">32</text><text transform="translate(856.64 715.10) scale(1.0215 1)" font-size="14.0" fill="#3d3d3d" stroke="#3d3d3d" stroke-width="0.3" text-anchor="middle">0</text><text transform="translate(898.52 715.10) scale(1.0215 1)" font-size="14.0" fill="#3d3d3d" stroke="#3d3d3d" stroke-width="0.3" text-anchor="middle">0</text><text transform="translate(940.40 715.10) scale(1.0215 1)" font-size="14.0" fill="#3d3d3d" stroke="#3d3d3d" stroke-width="0.3" text-anchor="middle">8</text><text transform="translate(982.28 715.10) scale(1.0215 1)" font-size="14.0" fill="#3d3d3d" stroke="#3d3d3d" stroke-width="0.3" text-anchor="middle">0</text><text transform="translate(1024.16 715.10) scale(1.0215 1)" font-size="14.0" fill="#3d3d3d" stroke="#3d3d3d" stroke-width="0.3" text-anchor="middle">8</text><text transform="translate(647.24 753.44) scale(1.0215 1)" font-size="14.0" fill="#3d3d3d" stroke="#3d3d3d" stroke-width="0.3" text-anchor="middle">0</text><text transform="translate(689.12 753.44) scale(1.0215 1)" font-size="14.0" fill="#3d3d3d" stroke="#3d3d3d" stroke-width="0.3" text-anchor="middle">3</text><text transform="translate(731.00 753.44) scale(1.0215 1)" font-size="14.0" fill="#3d3d3d" stroke="#3d3d3d" stroke-width="0.3" text-anchor="middle">0</text><text transform="translate(772.88 753.44) scale(1.0215 1)" font-size="14.0" fill="#3d3d3d" stroke="#3d3d3d" stroke-width="0.3" text-anchor="middle">0</text><text transform="translate(814.76 753.44) scale(1.0215 1)" font-size="14.0" fill="#dce7f4" stroke="#dce7f4" stroke-width="0.3" text-anchor="middle">180</text><text transform="translate(856.64 753.44) scale(1.0215 1)" font-size="14.0" fill="#3d3d3d" stroke="#3d3d3d" stroke-width="0.3" text-anchor="middle">0</text><text transform="translate(898.52 753.44) scale(1.0215 1)" font-size="14.0" fill="#3d3d3d" stroke="#3d3d3d" stroke-width="0.3" text-anchor="middle">7</text><text transform="translate(940.40 753.44) scale(1.0215 1)" font-size="14.0" fill="#3d3d3d" stroke="#3d3d3d" stroke-width="0.3" text-anchor="middle">0</text><text transform="translate(982.28 753.44) scale(1.0215 1)" font-size="14.0" fill="#3d3d3d" stroke="#3d3d3d" stroke-width="0.3" text-anchor="middle">0</text><text transform="translate(1024.16 753.44) scale(1.0215 1)" font-size="14.0" fill="#3d3d3d" stroke="#3d3d3d" stroke-width="0.3" text-anchor="middle">10</text><text transform="translate(647.24 791.77) scale(1.0215 1)" font-size="14.0" fill="#3d3d3d" stroke="#3d3d3d" stroke-width="0.3" text-anchor="middle">0</text><text transform="translate(689.12 791.77) scale(1.0215 1)" font-size="14.0" fill="#3d3d3d" stroke="#3d3d3d" stroke-width="0.3" text-anchor="middle">0</text><text transform="translate(731.00 791.77) scale(1.0215 1)" font-size="14.0" fill="#3d3d3d" stroke="#3d3d3d" stroke-width="0.3" text-anchor="middle">7</text><text transform="translate(772.88 791.77) scale(1.0215 1)" font-size="14.0" fill="#3d3d3d" stroke="#3d3d3d" stroke-width="0.3" text-anchor="middle">0</text><text transform="translate(814.76 791.77) scale(1.0215 1)" font-size="14.0" fill="#3d3d3d" stroke="#3d3d3d" stroke-width="0.3" text-anchor="middle">0</text><text transform="translate(856.64 791.77) scale(1.0215 1)" font-size="14.0" fill="#dce7f4" stroke="#dce7f4" stroke-width="0.3" text-anchor="middle">184</text><text transform="translate(898.52 791.77) scale(1.0215 1)" font-size="14.0" fill="#3d3d3d" stroke="#3d3d3d" stroke-width="0.3" text-anchor="middle">5</text><text transform="translate(940.40 791.77) scale(1.0215 1)" font-size="14.0" fill="#3d3d3d" stroke="#3d3d3d" stroke-width="0.3" text-anchor="middle">4</text><text transform="translate(982.28 791.77) scale(1.0215 1)" font-size="14.0" fill="#3d3d3d" stroke="#3d3d3d" stroke-width="0.3" text-anchor="middle">0</text><text transform="translate(1024.16 791.77) scale(1.0215 1)" font-size="14.0" fill="#3d3d3d" stroke="#3d3d3d" stroke-width="0.3" text-anchor="middle">0</text><text transform="translate(647.24 830.10) scale(1.0215 1)" font-size="14.0" fill="#3d3d3d" stroke="#3d3d3d" stroke-width="0.3" text-anchor="middle">0</text><text transform="translate(689.12 830.10) scale(1.0215 1)" font-size="14.0" fill="#3d3d3d" stroke="#3d3d3d" stroke-width="0.3" text-anchor="middle">0</text><text transform="translate(731.00 830.10) scale(1.0215 1)" font-size="14.0" fill="#3d3d3d" stroke="#3d3d3d" stroke-width="0.3" text-anchor="middle">0</text><text transform="translate(772.88 830.10) scale(1.0215 1)" font-size="14.0" fill="#3d3d3d" stroke="#3d3d3d" stroke-width="0.3" text-anchor="middle">19</text><text transform="translate(814.76 830.10) scale(1.0215 1)" font-size="14.0" fill="#3d3d3d" stroke="#3d3d3d" stroke-width="0.3" text-anchor="middle">0</text><text transform="translate(856.64 830.10) scale(1.0215 1)" font-size="14.0" fill="#3d3d3d" stroke="#3d3d3d" stroke-width="0.3" text-anchor="middle">0</text><text transform="translate(898.52 830.10) scale(1.0215 1)" font-size="14.0" fill="#dce7f4" stroke="#dce7f4" stroke-width="0.3" text-anchor="middle">168</text><text transform="translate(940.40 830.10) scale(1.0215 1)" font-size="14.0" fill="#3d3d3d" stroke="#3d3d3d" stroke-width="0.3" text-anchor="middle">13</text><text transform="translate(982.28 830.10) scale(1.0215 1)" font-size="14.0" fill="#3d3d3d" stroke="#3d3d3d" stroke-width="0.3" text-anchor="middle">0</text><text transform="translate(1024.16 830.10) scale(1.0215 1)" font-size="14.0" fill="#3d3d3d" stroke="#3d3d3d" stroke-width="0.3" text-anchor="middle">0</text><text transform="translate(647.24 868.44) scale(1.0215 1)" font-size="14.0" fill="#3d3d3d" stroke="#3d3d3d" stroke-width="0.3" text-anchor="middle">0</text><text transform="translate(689.12 868.44) scale(1.0215 1)" font-size="14.0" fill="#3d3d3d" stroke="#3d3d3d" stroke-width="0.3" text-anchor="middle">0</text><text transform="translate(731.00 868.44) scale(1.0215 1)" font-size="14.0" fill="#3d3d3d" stroke="#3d3d3d" stroke-width="0.3" text-anchor="middle">0</text><text transform="translate(772.88 868.44) scale(1.0215 1)" font-size="14.0" fill="#3d3d3d" stroke="#3d3d3d" stroke-width="0.3" text-anchor="middle">16</text><text transform="translate(814.76 868.44) scale(1.0215 1)" font-size="14.0" fill="#3d3d3d" stroke="#3d3d3d" stroke-width="0.3" text-anchor="middle">0</text><text transform="translate(856.64 868.44) scale(1.0215 1)" font-size="14.0" fill="#3d3d3d" stroke="#3d3d3d" stroke-width="0.3" text-anchor="middle">0</text><text transform="translate(898.52 868.44) scale(1.0215 1)" font-size="14.0" fill="#3d3d3d" stroke="#3d3d3d" stroke-width="0.3" text-anchor="middle">30</text><text transform="translate(940.40 868.44) scale(1.0215 1)" font-size="14.0" fill="#dce7f4" stroke="#dce7f4" stroke-width="0.3" text-anchor="middle">150</text><text transform="translate(982.28 868.44) scale(1.0215 1)" font-size="14.0" fill="#3d3d3d" stroke="#3d3d3d" stroke-width="0.3" text-anchor="middle">0</text><text transform="translate(1024.16 868.44) scale(1.0215 1)" font-size="14.0" fill="#3d3d3d" stroke="#3d3d3d" stroke-width="0.3" text-anchor="middle">4</text><text transform="translate(647.24 906.77) scale(1.0215 1)" font-size="14.0" fill="#3d3d3d" stroke="#3d3d3d" stroke-width="0.3" text-anchor="middle">0</text><text transform="translate(689.12 906.77) scale(1.0215 1)" font-size="14.0" fill="#3d3d3d" stroke="#3d3d3d" stroke-width="0.3" text-anchor="middle">0</text><text transform="translate(731.00 906.77) scale(1.0215 1)" font-size="14.0" fill="#3d3d3d" stroke="#3d3d3d" stroke-width="0.3" text-anchor="middle">0</text><text transform="translate(772.88 906.77) scale(1.0215 1)" font-size="14.0" fill="#3d3d3d" stroke="#3d3d3d" stroke-width="0.3" text-anchor="middle">0</text><text transform="translate(814.76 906.77) scale(1.0215 1)" font-size="14.0" fill="#3d3d3d" stroke="#3d3d3d" stroke-width="0.3" text-anchor="middle">0</text><text transform="translate(856.64 906.77) scale(1.0215 1)" font-size="14.0" fill="#3d3d3d" stroke="#3d3d3d" stroke-width="0.3" text-anchor="middle">0</text><text transform="translate(898.52 906.77) scale(1.0215 1)" font-size="14.0" fill="#3d3d3d" stroke="#3d3d3d" stroke-width="0.3" text-anchor="middle">0</text><text transform="translate(940.40 906.77) scale(1.0215 1)" font-size="14.0" fill="#3d3d3d" stroke="#3d3d3d" stroke-width="0.3" text-anchor="middle">0</text><text transform="translate(982.28 906.77) scale(1.0215 1)" font-size="14.0" fill="#dce7f4" stroke="#dce7f4" stroke-width="0.3" text-anchor="middle">200</text><text transform="translate(1024.16 906.77) scale(1.0215 1)" font-size="14.0" fill="#3d3d3d" stroke="#3d3d3d" stroke-width="0.3" text-anchor="middle">0</text><text transform="translate(647.24 945.10) scale(1.0215 1)" font-size="14.0" fill="#3d3d3d" stroke="#3d3d3d" stroke-width="0.3" text-anchor="middle">0</text><text transform="translate(689.12 945.10) scale(1.0215 1)" font-size="14.0" fill="#3d3d3d" stroke="#3d3d3d" stroke-width="0.3" text-anchor="middle">11</text><text transform="translate(731.00 945.10) scale(1.0215 1)" font-size="14.0" fill="#3d3d3d" stroke="#3d3d3d" stroke-width="0.3" text-anchor="middle">0</text><text transform="translate(772.88 945.10) scale(1.0215 1)" font-size="14.0" fill="#3d3d3d" stroke="#3d3d3d" stroke-width="0.3" text-anchor="middle">0</text><text transform="translate(814.76 945.10) scale(1.0215 1)" font-size="14.0" fill="#3d3d3d" stroke="#3d3d3d" stroke-width="0.3" text-anchor="middle">24</text><text transform="translate(856.64 945.10) scale(1.0215 1)" font-size="14.0" fill="#3d3d3d" stroke="#3d3d3d" stroke-width="0.3" text-anchor="middle">0</text><text transform="translate(898.52 945.10) scale(1.0215 1)" font-size="14.0" fill="#3d3d3d" stroke="#3d3d3d" stroke-width="0.3" text-anchor="middle">0</text><text transform="translate(940.40 945.10) scale(1.0215 1)" font-size="14.0" fill="#3d3d3d" stroke="#3d3d3d" stroke-width="0.3" text-anchor="middle">9</text><text transform="translate(982.28 945.10) scale(1.0215 1)" font-size="14.0" fill="#3d3d3d" stroke="#3d3d3d" stroke-width="0.3" text-anchor="middle">0</text><text transform="translate(1024.16 945.10) scale(1.0215 1)" font-size="14.0" fill="#dce7f4" stroke="#dce7f4" stroke-width="0.3" text-anchor="middle">156</text><line x1="620.80" y1="596.66" x2="626.30" y2="596.66" stroke="#333333" stroke-width="1.4"/><text transform="translate(612.20 597.16) rotate(-90)" font-size="14.0" fill="#303030" stroke="#303030" stroke-width="0.3" text-anchor="middle">0</text><line x1="620.80" y1="634.81" x2="626.30" y2="634.81" stroke="#333333" stroke-width="1.4"/><text transform="translate(612.20 635.31) rotate(-90)" font-size="14.0" fill="#303030" stroke="#303030" stroke-width="0.3" text-anchor="middle">1</text><line x1="620.80" y1="672.97" x2="626.30" y2="672.97" stroke="#333333" stroke-width="1.4"/><text transform="translate(612.20 673.47) rotate(-90)" font-size="14.0" fill="#303030" stroke="#303030" stroke-width="0.3" text-anchor="middle">2</text><line x1="620.80" y1="711.12" x2="626.30" y2="711.12" stroke="#333333" stroke-width="1.4"/><text transform="translate(612.20 711.62) rotate(-90)" font-size="14.0" fill="#303030" stroke="#303030" stroke-width="0.3" text-anchor="middle">3</text><line x1="620.80" y1="749.27" x2="626.30" y2="749.27" stroke="#333333" stroke-width="1.4"/><text transform="translate(612.20 749.77) rotate(-90)" font-size="14.0" fill="#303030" stroke="#303030" stroke-width="0.3" text-anchor="middle">4</text><line x1="620.80" y1="787.43" x2="626.30" y2="787.43" stroke="#333333" stroke-width="1.4"/><text transform="translate(612.20 787.93) rotate(-90)" font-size="14.0" fill="#303030" stroke="#303030" stroke-width="0.3" text-anchor="middle">5</text><line x1="620.80" y1="825.58" x2="626.30" y2="825.58" stroke="#333333" stroke-width="1.4"/><text transform="translate(612.20 826.08) rotate(-90)" font-size="14.0" fill="#303030" stroke="#303030" stroke-width="0.3" text-anchor="middle">6</text><line x1="620.80" y1="863.73" x2="626.30" y2="863.73" stroke="#333333" stroke-width="1.4"/><text transform="translate(612.20 864.23) rotate(-90)" font-size="14.0" fill="#303030" stroke="#303030" stroke-width="0.3" text-anchor="middle">7</text><line x1="620.80" y1="901.89" x2="626.30" y2="901.89" stroke="#333333" stroke-width="1.4"/><text transform="translate(612.20 902.39) rotate(-90)" font-size="14.0" fill="#303030" stroke="#303030" stroke-width="0.3" text-anchor="middle">8</text><line x1="620.80" y1="940.04" x2="626.30" y2="940.04" stroke="#333333" stroke-width="1.4"/><text transform="translate(612.20 940.54) rotate(-90)" font-size="14.0" fill="#303030" stroke="#303030" stroke-width="0.3" text-anchor="middle">9</text><line x1="647.24" y1="959.00" x2="647.24" y2="964.50" stroke="#333333" stroke-width="1.4"/><text transform="translate(647.24 981.50) scale(1.0215 1)" font-size="14.0" fill="#303030" stroke="#303030" stroke-width="0.3" text-anchor="middle">0</text><line x1="689.12" y1="959.00" x2="689.12" y2="964.50" stroke="#333333" stroke-width="1.4"/><text transform="translate(689.12 981.50) scale(1.0215 1)" font-size="14.0" fill="#303030" stroke="#303030" stroke-width="0.3" text-anchor="middle">1</text><line x1="731.00" y1="959.00" x2="731.00" y2="964.50" stroke="#333333" stroke-width="1.4"/><text transform="translate(731.00 981.50) scale(1.0215 1)" font-size="14.0" fill="#303030" stroke="#303030" stroke-width="0.3" text-anchor="middle">2</text><line x1="772.88" y1="959.00" x2="772.88" y2="964.50" stroke="#333333" stroke-width="1.4"/><text transform="translate(772.88 981.50) scale(1.0215 1)" font-size="14.0" fill="#303030" stroke="#303030" stroke-width="0.3" text-anchor="middle">3</text><line x1="814.76" y1="959.00" x2="814.76" y2="964.50" stroke="#333333" stroke-width="1.4"/><text transform="translate(814.76 981.50) scale(1.0215 1)" font-size="14.0" fill="#303030" stroke="#303030" stroke-width="0.3" text-anchor="middle">4</text><line x1="856.64" y1="959.00" x2="856.64" y2="964.50" stroke="#333333" stroke-width="1.4"/><text transform="translate(856.64 981.50) scale(1.0215 1)" font-size="14.0" fill="#303030" stroke="#303030" stroke-width="0.3" text-anchor="middle">5</text><line x1="898.52" y1="959.00" x2="898.52" y2="964.50" stroke="#333333" stroke-width="1.4"/><text transform="translate(898.52 981.50) scale(1.0215 1)" font-size="14.0" fill="#303030" stroke="#303030" stroke-width="0.3" text-anchor="middle">6</text><line x1="940.40" y1="959.00" x2="940.40" y2="964.50" stroke="#333333" stroke-width="1.4"/><text transform="translate(940.40 981.50) scale(1.0215 1)" font-size="14.0" fill="#303030" stroke="#303030" stroke-width="0.3" text-anchor="middle">7</text><line x1="982.28" y1="959.00" x2="982.28" y2="964.50" stroke="#333333" stroke-width="1.4"/><text transform="translate(982.28 981.50) scale(1.0215 1)" font-size="14.0" fill="#303030" stroke="#303030" stroke-width="0.3" text-anchor="middle">8</text><line x1="1024.16" y1="959.00" x2="1024.16" y2="964.50" stroke="#333333" stroke-width="1.4"/><text transform="translate(1024.16 981.50) scale(1.0215 1)" font-size="14.0" fill="#303030" stroke="#303030" stroke-width="0.3" text-anchor="middle">9</text><rect x="1072.80" y="577.30" width="18.50" height="381.20" fill="url(#cb)"/><line x1="1091.30" y1="959.80" x2="1096.30" y2="959.80" stroke="#333333" stroke-width="1.4"/><text transform="translate(1102.30 965.10) scale(1.0215 1)" font-size="14.0" fill="#303030" stroke="#303030" stroke-width="0.3" text-anchor="start">0</text><line x1="1091.30" y1="911.96" x2="1096.30" y2="911.96" stroke="#333333" stroke-width="1.4"/><text transform="translate(1102.30 917.27) scale(1.0215 1)" font-size="14.0" fill="#303030" stroke="#303030" stroke-width="0.3" text-anchor="start">25</text><line x1="1091.30" y1="864.12" x2="1096.30" y2="864.12" stroke="#333333" stroke-width="1.4"/><text transform="translate(1102.30 869.43) scale(1.0215 1)" font-size="14.0" fill="#303030" stroke="#303030" stroke-width="0.3" text-anchor="start">50</text><line x1="1091.30" y1="816.29" x2="1096.30" y2="816.29" stroke="#333333" stroke-width="1.4"/><text transform="translate(1102.30 821.59) scale(1.0215 1)" font-size="14.0" fill="#303030" stroke="#303030" stroke-width="0.3" text-anchor="start">75</text><line x1="1091.30" y1="768.45" x2="1096.30" y2="768.45" stroke="#333333" stroke-width="1.4"/><text transform="translate(1102.30 773.75) scale(1.0215 1)" font-size="14.0" fill="#303030" stroke="#303030" stroke-width="0.3" text-anchor="start">100</text><line x1="1091.30" y1="720.61" x2="1096.30" y2="720.61" stroke="#333333" stroke-width="1.4"/><text transform="translate(1102.30 725.92) scale(1.0215 1)" font-size="14.0" fill="#303030" stroke="#303030" stroke-width="0.3" text-anchor="start">125</text><line x1="1091.30" y1="672.77" x2="1096.30" y2="672.77" stroke="#333333" stroke-width="1.4"/><text transform="translate(1102.30 678.08) scale(1.0215 1)" font-size="14.0" fill="#303030" stroke="#303030" stroke-width="0.3" text-anchor="start">150</text><line x1="1091.30" y1="624.94" x2="1096.30" y2="624.94" stroke="#333333" stroke-width="1.4"/><text transform="translate(1102.30 630.24) scale(1.0215 1)" font-size="14.0" fill="#303030" stroke="#303030" stroke-width="0.3" text-anchor="start">175</text><line x1="1091.30" y1="577.10" x2="1096.30" y2="577.10" stroke="#333333" stroke-width="1.4"/><text transform="translate(1102.30 582.40) scale(1.0215 1)" font-size="14.0" fill="#303030" stroke="#303030" stroke-width="0.3" text-anchor="start">200</text><text transform="translate(835.70 567.30) scale(1.0215 1)" font-size="17.1" fill="#303030" stroke="#303030" stroke-width="0.3" text-anchor="middle">Confusion Matrix</text><text transform="translate(835.70 1001.70) scale(1.0215 1)" font-size="14.35" fill="#303030" stroke="#303030" stroke-width="0.3" text-anchor="middle">Predicted Labels</text><text transform="translate(591.22 769.30) rotate(-90)" font-size="14.35" fill="#303030" stroke="#303030" stroke-width="0.3" text-anchor="middle">True Labels</text></g>
<text x="819.80" y="1045.00" font-family="Liberation Serif, serif" font-weight="bold" font-size="33.2" fill="#000" text-anchor="middle">(e) KDMUMDAN</text>
<g font-family="DejaVu Sans, sans-serif"><rect x="1213.70" y="573.70" width="41.20" height="38.83" fill="#08306b"/><rect x="1254.50" y="573.70" width="41.20" height="38.83" fill="#f7fbff"/><rect x="1295.30" y="573.70" width="41.20" height="38.83" fill="#f7fbff"/><rect x="1336.10" y="573.70" width="41.20" height="38.83" fill="#f7fbff"/><rect x="1376.90" y="573.70" width="41.20" height="38.83" fill="#f7fbff"/><rect x="1417.70" y="573.70" width="41.20" height="38.83" fill="#f7fbff"/><rect x="1458.50" y="573.70" width="41.20" height="38.83" fill="#f7fbff"/><rect x="1499.30" y="573.70" width="41.20" height="38.83" fill="#f7fbff"/><rect x="1540.10" y="573.70" width="41.20" height="38.83" fill="#f7fbff"/><rect x="1580.90" y="573.70" width="41.20" height="38.83" fill="#f7fbff"/><rect x="1213.70" y="612.13" width="41.20" height="38.83" fill="#f7fbff"/><rect x="1254.50" y="612.13" width="41.20" height="38.83" fill="#08306b"/><rect x="1295.30" y="612.13" width="41.20" height="38.83" fill="#f7fbff"/><rect x="1336.10" y="612.13" width="41.20" height="38.83" fill="#f7fbff"/><rect x="1376.90" y="612.13" width="41.20" height="38.83" fill="#f7fbff"/><rect x="1417.70" y="612.13" width="41.20" height="38.83" fill="#f7fbff"/><rect x="1458.50" y="612.13" width="41.20" height="38.83" fill="#f7fbff"/><rect x="1499.30" y="612.13" width="41.20" height="38.83" fill="#f7fbff"/><rect x="1540.10" y="612.13" width="41.20" height="38.83" fill="#f7fbff"/><rect x="1580.90" y="612.13" width="41.20" height="38.83" fill="#f7fbff"/><rect x="1213.70" y="650.56" width="41.20" height="38.83" fill="#f7fbff"/><rect x="1254.50" y="650.56" width="41.20" height="38.83" fill="#f7fbff"/><rect x="1295.30" y="650.56" width="41.20" height="38.83" fill="#08326e"/><rect x="1336.10" y="650.56" width="41.20" height="38.83" fill="#f7fbff"/><rect x="1376.90" y="650.56" width="41.20" height="38.83" fill="#f7fbff"/><rect x="1417.70" y="650.56" width="41.20" height="38.83" fill="#f7fbff"/><rect x="1458.50" y="650.56" width="41.20" height="38.83" fill="#f7fbff"/><rect x="1499.30" y="650.56" width="41.20" height="38.83" fill="#f7fbff"/><rect x="1540.10" y="650.56" width="41.20" height="38.83" fill="#f7fbff"/><rect x="1580.90" y="650.56" width="41.20" height="38.83" fill="#f5fafe"/><rect x="1213.70" y="688.99" width="41.20" height="38.83" fill="#f7fbff"/><rect x="1254.50" y="688.99" width="41.20" height="38.83" fill="#f7fbff"/><rect x="1295.30" y="688.99" width="41.20" height="38.83" fill="#f7fbff"/><rect x="1336.10" y="688.99" width="41.20" height="38.83" fill="#f7fbff"/><rect x="1376.90" y="688.99" width="41.20" height="38.83" fill="#f7fbff"/><rect x="1417.70" y="688.99" width="41.20" height="38.83" fill="#f2f8fd"/><rect x="1458.50" y="688.99" width="41.20" height="38.83" fill="#9ac8e0"/><rect x="1499.30" y="688.99" width="41.20" height="38.83" fill="#ebf3fb"/><rect x="1540.10" y="688.99" width="41.20" height="38.83" fill="#74b3d8"/><rect x="1580.90" y="688.99" width="41.20" height="38.83" fill="#eef5fc"/><rect x="1213.70" y="727.42" width="41.20" height="38.83" fill="#f7fbff"/><rect x="1254.50" y="727.42" width="41.20" height="38.83" fill="#f7fbff"/><rect x="1295.30" y="727.42" width="41.20" height="38.83" fill="#f3f8fe"/><rect x="1336.10" y="727.42" width="41.20" height="38.83" fill="#f7fbff"/><rect x="1376.90" y="727.42" width="41.20" height="38.83" fill="#083573"/><rect x="1417.70" y="727.42" width="41.20" height="38.83" fill="#f7fbff"/><rect x="1458.50" y="727.42" width="41.20" height="38.83" fill="#f7fbff"/><rect x="1499.30" y="727.42" width="41.20" height="38.83" fill="#f7fbff"/><rect x="1540.10" y="727.42" width="41.20" height="38.83" fill="#f7fbff"/><rect x="1580.90" y="727.42" width="41.20" height="38.83" fill="#f7fbff"/><rect x="1213.70" y="765.85" width="41.20" height="38.83" fill="#f7fbff"/><rect x="1254.50" y="765.85" width="41.20" height="38.83" fill="#f7fbff"/><rect x="1295.30" y="765.85" width="41.20" height="38.83" fill="#ebf3fb"/><rect x="1336.10" y="765.85" width="41.20" height="38.83" fill="#f7fbff"/><rect x="1376.90" y="765.85" width="41.20" height="38.83" fill="#f7fbff"/><rect x="1417.70" y="765.85" width="41.20" height="38.83" fill="#1561a9"/><rect x="1458.50" y="765.85" width="41.20" height="38.83" fill="#f6faff"/><rect x="1499.30" y="765.85" width="41.20" height="38.83" fill="#f7fbff"/><rect x="1540.10" y="765.85" width="41.20" height="38.83" fill="#f7fbff"/><rect x="1580.90" y="765.85" width="41.20" height="38.83" fill="#deebf7"/><rect x="1213.70" y="804.28" width="41.20" height="38.83" fill="#f7fbff"/><rect x="1254.50" y="804.28" width="41.20" height="38.83" fill="#f7fbff"/><rect x="1295.30" y="804.28" width="41.20" height="38.83" fill="#eef5fc"/><rect x="1336.10" y="804.28" width="41.20" height="38.83" fill="#f7fbff"/><rect x="1376.90" y="804.28" width="41.20" height="38.83" fill="#f7fbff"/><rect x="1417.70" y="804.28" width="41.20" height="38.83" fill="#f7fbff"/><rect x="1458.50" y="804.28" width="41.20" height="38.83" fill="#2979b9"/><rect x="1499.30" y="804.28" width="41.20" height="38.83" fill="#eaf3fb"/><rect x="1540.10" y="804.28" width="41.20" height="38.83" fill="#f7fbff"/><rect x="1580.90" y="804.28" width="41.20" height="38.83" fill="#d6e5f4"/><rect x="1213.70" y="842.71" width="41.20" height="38.83" fill="#f7fbff"/><rect x="1254.50" y="842.71" width="41.20" height="38.83" fill="#f7fbff"/><rect x="1295.30" y="842.71" width="41.20" height="38.83" fill="#f7fbff"/><rect x="1336.10" y="842.71" width="41.20" height="38.83" fill="#f7fbff"/><rect x="1376.90" y="842.71" width="41.20" height="38.83" fill="#f7fbff"/><rect x="1417.70" y="842.71" width="41.20" height="38.83" fill="#f7fbff"/><rect x="1458.50" y="842.71" width="41.20" height="38.83" fill="#b4d3e9"/><rect x="1499.30" y="842.71" width="41.20" height="38.83" fill="#3080bd"/><rect x="1540.10" y="842.71" width="41.20" height="38.83" fill="#f7fbff"/><rect x="1580.90" y="842.71" width="41.20" height="38.83" fill="#f7fbff"/><rect x="1213.70" y="881.14" width="41.20" height="38.83" fill="#f7fbff"/><rect x="1254.50" y="881.14" width="41.20" height="38.83" fill="#f7fbff"/><rect x="1295.30" y="881.14" width="41.20" height="38.83" fill="#f7fbff"/><rect x="1336.10" y="881.14" width="41.20" height="38.83" fill="#f7fbff"/><rect x="1376.90" y="881.14" width="41.20" height="38.83" fill="#f7fbff"/><rect x="1417.70" y="881.14" width="41.20" height="38.83" fill="#d6e6f4"/><rect x="1458.50" y="881.14" width="41.20" height="38.83" fill="#eef5fc"/><rect x="1499.30" y="881.14" width="41.20" height="38.83" fill="#f7fbff"/><rect x="1540.10" y="881.14" width="41.20" height="38.83" fill="#2c7cba"/><rect x="1580.90" y="881.14" width="41.20" height="38.83" fill="#e8f1fa"/><rect x="1213.70" y="919.57" width="41.20" height="38.83" fill="#f7fbff"/><rect x="1254.50" y="919.57" width="41.20" height="38.83" fill="#f7fbff"/><rect x="1295.30" y="919.57" width="41.20" height="38.83" fill="#f1f7fd"/><rect x="1336.10" y="919.57" width="41.20" height="38.83" fill="#f7fbff"/><rect x="1376.90" y="919.57" width="41.20" height="38.83" fill="#f7fbff"/><rect x="1417.70" y="919.57" width="41.20" height="38.83" fill="#f7fbff"/><rect x="1458.50" y="919.57" width="41.20" height="38.83" fill="#f5f9fe"/><rect x="1499.30" y="919.57" width="41.20" height="38.83" fill="#f7fbff"/><rect x="1540.10" y="919.57" width="41.20" height="38.83" fill="#f7fbff"/><rect x="1580.90" y="919.57" width="41.20" height="38.83" fill="#083c7d"/><text transform="translate(1234.10 596.50) scale(0.9951 1)" font-size="14.0" fill="#dce7f4" stroke="#dce7f4" stroke-width="0.3" text-anchor="middle">200</text><text transform="translate(1274.90 596.50) scale(0.9951 1)" font-size="14.0" fill="#3d3d3d" stroke="#3d3d3d" stroke-width="0.3" text-anchor="middle">0</text><text transform="translate(1315.70 596.50) scale(0.9951 1)" font-size="14.0" fill="#3d3d3d" stroke="#3d3d3d" stroke-width="0.3" text-anchor="middle">0</text><text transform="translate(1356.50 596.50) scale(0.9951 1)" font-size="14.0" fill="#3d3d3d" stroke="#3d3d3d" stroke-width="0.3" text-anchor="middle">0</text><text transform="translate(1397.30 596.50) scale(0.9951 1)" font-size="14.0" fill="#3d3d3d" stroke="#3d3d3d" stroke-width="0.3" text-anchor="middle">0</text><text transform="translate(1438.10 596.50) scale(0.9951 1)" font-size="14.0" fill="#3d3d3d" stroke="#3d3d3d" stroke-width="0.3" text-anchor="middle">0</text><text transform="translate(1478.90 596.50) scale(0.9951 1)" font-size="14.0" fill="#3d3d3d" stroke="#3d3d3d" stroke-width="0.3" text-anchor="middle">0</text><text transform="translate(1519.70 596.50) scale(0.9951 1)" font-size="14.0" fill="#3d3d3d" stroke="#3d3d3d" stroke-width="0.3" text-anchor="middle">0</text><text transform="translate(1560.50 596.50) scale(0.9951 1)" font-size="14.0" fill="#3d3d3d" stroke="#3d3d3d" stroke-width="0.3" text-anchor="middle">0</text><text transform="translate(1601.30 596.50) scale(0.9951 1)" font-size="14.0" fill="#3d3d3d" stroke="#3d3d3d" stroke-width="0.3" text-anchor="middle">0</text><text transform="translate(1234.10 635.13) scale(0.9951 1)" font-size="14.0" fill="#3d3d3d" stroke="#3d3d3d" stroke-width="0.3" text-anchor="middle">0</text><text transform="translate(1274.90 635.13) scale(0.9951 1)" font-size="14.0" fill="#dce7f4" stroke="#dce7f4" stroke-width="0.3" text-anchor="middle">200</text><text transform="translate(1315.70 635.13) scale(0.9951 1)" font-size="14.0" fill="#3d3d3d" stroke="#3d3d3d" stroke-width="0.3" text-anchor="middle">0</text><text transform="translate(1356.50 635.13) scale(0.9951 1)" font-size="14.0" fill="#3d3d3d" stroke="#3d3d3d" stroke-width="0.3" text-anchor="middle">0</text><text transform="translate(1397.30 635.13) scale(0.9951 1)" font-size="14.0" fill="#3d3d3d" stroke="#3d3d3d" stroke-width="0.3" text-anchor="middle">0</text><text transform="translate(1438.10 635.13) scale(0.9951 1)" font-size="14.0" fill="#3d3d3d" stroke="#3d3d3d" stroke-width="0.3" text-anchor="middle">0</text><text transform="translate(1478.90 635.13) scale(0.9951 1)" font-size="14.0" fill="#3d3d3d" stroke="#3d3d3d" stroke-width="0.3" text-anchor="middle">0</text><text transform="translate(1519.70 635.13) scale(0.9951 1)" font-size="14.0" fill="#3d3d3d" stroke="#3d3d3d" stroke-width="0.3" text-anchor="middle">0</text><text transform="translate(1560.50 635.13) scale(0.9951 1)" font-size="14.0" fill="#3d3d3d" stroke="#3d3d3d" stroke-width="0.3" text-anchor="middle">0</text><text transform="translate(1601.30 635.13) scale(0.9951 1)" font-size="14.0" fill="#3d3d3d" stroke="#3d3d3d" stroke-width="0.3" text-anchor="middle">0</text><text transform="translate(1234.10 673.75) scale(0.9951 1)" font-size="14.0" fill="#3d3d3d" stroke="#3d3d3d" stroke-width="0.3" text-anchor="middle">0</text><text transform="translate(1274.90 673.75) scale(0.9951 1)" font-size="14.0" fill="#3d3d3d" stroke="#3d3d3d" stroke-width="0.3" text-anchor="middle">0</text><text transform="translate(1315.70 673.75) scale(0.9951 1)" font-size="14.0" fill="#dce7f4" stroke="#dce7f4" stroke-width="0.3" text-anchor="middle">198</text><text transform="translate(1356.50 673.75) scale(0.9951 1)" font-size="14.0" fill="#3d3d3d" stroke="#3d3d3d" stroke-width="0.3" text-anchor="middle">0</text><text transform="translate(1397.30 673.75) scale(0.9951 1)" font-size="14.0" fill="#3d3d3d" stroke="#3d3d3d" stroke-width="0.3" text-anchor="middle">0</text><text transform="translate(1438.10 673.75) scale(0.9951 1)" font-size="14.0" fill="#3d3d3d" stroke="#3d3d3d" stroke-width="0.3" text-anchor="middle">0</text><text transform="translate(1478.90 673.75) scale(0.9951 1)" font-size="14.0" fill="#3d3d3d" stroke="#3d3d3d" stroke-width="0.3" text-anchor="middle">0</text><text transform="translate(1519.70 673.75) scale(0.9951 1)" font-size="14.0" fill="#3d3d3d" stroke="#3d3d3d" stroke-width="0.3" text-anchor="middle">0</text><text transform="translate(1560.50 673.75) scale(0.9951 1)" font-size="14.0" fill="#3d3d3d" stroke="#3d3d3d" stroke-width="0.3" text-anchor="middle">0</text><text transform="translate(1601.30 673.75) scale(0.9951 1)" font-size="14.0" fill="#3d3d3d" stroke="#3d3d3d" stroke-width="0.3" text-anchor="middle">2</text><text transform="translate(1234.10 712.37) scale(0.9951 1)" font-size="14.0" fill="#3d3d3d" stroke="#3d3d3d" stroke-width="0.3" text-anchor="middle">0</text><text transform="translate(1274.90 712.37) scale(0.9951 1)" font-size="14.0" fill="#3d3d3d" stroke="#3d3d3d" stroke-width="0.3" text-anchor="middle">0</text><text transform="translate(1315.70 712.37) scale(0.9951 1)" font-size="14.0" fill="#3d3d3d" stroke="#3d3d3d" stroke-width="0.3" text-anchor="middle">0</text><text transform="translate(1356.50 712.37) scale(0.9951 1)" font-size="14.0" fill="#3d3d3d" stroke="#3d3d3d" stroke-width="0.3" text-anchor="middle">0</text><text transform="translate(1397.30 712.37) scale(0.9951 1)" font-size="14.0" fill="#3d3d3d" stroke="#3d3d3d" stroke-width="0.3" text-anchor="middle">0</text><text transform="translate(1438.10 712.37) scale(0.9951 1)" font-size="14.0" fill="#3d3d3d" stroke="#3d3d3d" stroke-width="0.3" text-anchor="middle">5</text><text transform="translate(1478.90 712.37) scale(0.9951 1)" font-size="14.0" fill="#3d3d3d" stroke="#3d3d3d" stroke-width="0.3" text-anchor="middle">77</text><text transform="translate(1519.70 712.37) scale(0.9951 1)" font-size="14.0" fill="#3d3d3d" stroke="#3d3d3d" stroke-width="0.3" text-anchor="middle">12</text><text transform="translate(1560.50 712.37) scale(0.9951 1)" font-size="14.0" fill="#3d3d3d" stroke="#3d3d3d" stroke-width="0.3" text-anchor="middle">96</text><text transform="translate(1601.30 712.37) scale(0.9951 1)" font-size="14.0" fill="#3d3d3d" stroke="#3d3d3d" stroke-width="0.3" text-anchor="middle">10</text><text transform="translate(1234.10 750.99) scale(0.9951 1)" font-size="14.0" fill="#3d3d3d" stroke="#3d3d3d" stroke-width="0.3" text-anchor="middle">0</text><text transform="translate(1274.90 750.99) scale(0.9951 1)" font-size="14.0" fill="#3d3d3d" stroke="#3d3d3d" stroke-width="0.3" text-anchor="middle">0</text><text transform="translate(1315.70 750.99) scale(0.9951 1)" font-size="14.0" fill="#3d3d3d" stroke="#3d3d3d" stroke-width="0.3" text-anchor="middle">4</text><text transform="translate(1356.50 750.99) scale(0.9951 1)" font-size="14.0" fill="#3d3d3d" stroke="#3d3d3d" stroke-width="0.3" text-anchor="middle">0</text><text transform="translate(1397.30 750.99) scale(0.9951 1)" font-size="14.0" fill="#dce7f4" stroke="#dce7f4" stroke-width="0.3" text-anchor="middle">196</text><text transform="translate(1438.10 750.99) scale(0.9951 1)" font-size="14.0" fill="#3d3d3d" stroke="#3d3d3d" stroke-width="0.3" text-anchor="middle">0</text><text transform="translate(1478.90 750.99) scale(0.9951 1)" font-size="14.0" fill="#3d3d3d" stroke="#3d3d3d" stroke-width="0.3" text-anchor="middle">0</text><text transform="translate(1519.70 750.99) scale(0.9951 1)" font-size="14.0" fill="#3d3d3d" stroke="#3d3d3d" stroke-width="0.3" text-anchor="middle">0</text><text transform="translate(1560.50 750.99) scale(0.9951 1)" font-size="14.0" fill="#3d3d3d" stroke="#3d3d3d" stroke-width="0.3" text-anchor="middle">0</text><text transform="translate(1601.30 750.99) scale(0.9951 1)" font-size="14.0" fill="#3d3d3d" stroke="#3d3d3d" stroke-width="0.3" text-anchor="middle">0</text><text transform="translate(1234.10 789.61) scale(0.9951 1)" font-size="14.0" fill="#3d3d3d" stroke="#3d3d3d" stroke-width="0.3" text-anchor="middle">0</text><text transform="translate(1274.90 789.61) scale(0.9951 1)" font-size="14.0" fill="#3d3d3d" stroke="#3d3d3d" stroke-width="0.3" text-anchor="middle">0</text><text transform="translate(1315.70 789.61) scale(0.9951 1)" font-size="14.0" fill="#3d3d3d" stroke="#3d3d3d" stroke-width="0.3" text-anchor="middle">12</text><text transform="translate(1356.50 789.61) scale(0.9951 1)" font-size="14.0" fill="#3d3d3d" stroke="#3d3d3d" stroke-width="0.3" text-anchor="middle">0</text><text transform="translate(1397.30 789.61) scale(0.9951 1)" font-size="14.0" fill="#3d3d3d" stroke="#3d3d3d" stroke-width="0.3" text-anchor="middle">0</text><text transform="translate(1438.10 789.61) scale(0.9951 1)" font-size="14.0" fill="#dce7f4" stroke="#dce7f4" stroke-width="0.3" text-anchor="middle">162</text><text transform="translate(1478.90 789.61) scale(0.9951 1)" font-size="14.0" fill="#3d3d3d" stroke="#3d3d3d" stroke-width="0.3" text-anchor="middle">1</text><text transform="translate(1519.70 789.61) scale(0.9951 1)" font-size="14.0" fill="#3d3d3d" stroke="#3d3d3d" stroke-width="0.3" text-anchor="middle">0</text><text transform="translate(1560.50 789.61) scale(0.9951 1)" font-size="14.0" fill="#3d3d3d" stroke="#3d3d3d" stroke-width="0.3" text-anchor="middle">0</text><text transform="translate(1601.30 789.61) scale(0.9951 1)" font-size="14.0" fill="#3d3d3d" stroke="#3d3d3d" stroke-width="0.3" text-anchor="middle">25</text><text transform="translate(1234.10 828.24) scale(0.9951 1)" font-size="14.0" fill="#3d3d3d" stroke="#3d3d3d" stroke-width="0.3" text-anchor="middle">0</text><text transform="translate(1274.90 828.24) scale(0.9951 1)" font-size="14.0" fill="#3d3d3d" stroke="#3d3d3d" stroke-width="0.3" text-anchor="middle">0</text><text transform="translate(1315.70 828.24) scale(0.9951 1)" font-size="14.0" fill="#3d3d3d" stroke="#3d3d3d" stroke-width="0.3" text-anchor="middle">9</text><text transform="translate(1356.50 828.24) scale(0.9951 1)" font-size="14.0" fill="#3d3d3d" stroke="#3d3d3d" stroke-width="0.3" text-anchor="middle">0</text><text transform="translate(1397.30 828.24) scale(0.9951 1)" font-size="14.0" fill="#3d3d3d" stroke="#3d3d3d" stroke-width="0.3" text-anchor="middle">0</text><text transform="translate(1438.10 828.24) scale(0.9951 1)" font-size="14.0" fill="#3d3d3d" stroke="#3d3d3d" stroke-width="0.3" text-anchor="middle">0</text><text transform="translate(1478.90 828.24) scale(0.9951 1)" font-size="14.0" fill="#dce7f4" stroke="#dce7f4" stroke-width="0.3" text-anchor="middle">144</text><text transform="translate(1519.70 828.24) scale(0.9951 1)" font-size="14.0" fill="#3d3d3d" stroke="#3d3d3d" stroke-width="0.3" text-anchor="middle">13</text><text transform="translate(1560.50 828.24) scale(0.9951 1)" font-size="14.0" fill="#3d3d3d" stroke="#3d3d3d" stroke-width="0.3" text-anchor="middle">0</text><text transform="translate(1601.30 828.24) scale(0.9951 1)" font-size="14.0" fill="#3d3d3d" stroke="#3d3d3d" stroke-width="0.3" text-anchor="middle">34</text><text transform="translate(1234.10 866.86) scale(0.9951 1)" font-size="14.0" fill="#3d3d3d" stroke="#3d3d3d" stroke-width="0.3" text-anchor="middle">0</text><text transform="translate(1274.90 866.86) scale(0.9951 1)" font-size="14.0" fill="#3d3d3d" stroke="#3d3d3d" stroke-width="0.3" text-anchor="middle">0</text><text transform="translate(1315.70 866.86) scale(0.9951 1)" font-size="14.0" fill="#3d3d3d" stroke="#3d3d3d" stroke-width="0.3" text-anchor="middle">0</text><text transform="translate(1356.50 866.86) scale(0.9951 1)" font-size="14.0" fill="#3d3d3d" stroke="#3d3d3d" stroke-width="0.3" text-anchor="middle">0</text><text transform="translate(1397.30 866.86) scale(0.9951 1)" font-size="14.0" fill="#3d3d3d" stroke="#3d3d3d" stroke-width="0.3" text-anchor="middle">0</text><text transform="translate(1438.10 866.86) scale(0.9951 1)" font-size="14.0" fill="#3d3d3d" stroke="#3d3d3d" stroke-width="0.3" text-anchor="middle">0</text><text transform="translate(1478.90 866.86) scale(0.9951 1)" font-size="14.0" fill="#3d3d3d" stroke="#3d3d3d" stroke-width="0.3" text-anchor="middle">61</text><text transform="translate(1519.70 866.86) scale(0.9951 1)" font-size="14.0" fill="#dce7f4" stroke="#dce7f4" stroke-width="0.3" text-anchor="middle">139</text><text transform="translate(1560.50 866.86) scale(0.9951 1)" font-size="14.0" fill="#3d3d3d" stroke="#3d3d3d" stroke-width="0.3" text-anchor="middle">0</text><text transform="translate(1601.30 866.86) scale(0.9951 1)" font-size="14.0" fill="#3d3d3d" stroke="#3d3d3d" stroke-width="0.3" text-anchor="middle">0</text><text transform="translate(1234.10 905.48) scale(0.9951 1)" font-size="14.0" fill="#3d3d3d" stroke="#3d3d3d" stroke-width="0.3" text-anchor="middle">0</text><text transform="translate(1274.90 905.48) scale(0.9951 1)" font-size="14.0" fill="#3d3d3d" stroke="#3d3d3d" stroke-width="0.3" text-anchor="middle">0</text><text transform="translate(1315.70 905.48) scale(0.9951 1)" font-size="14.0" fill="#3d3d3d" stroke="#3d3d3d" stroke-width="0.3" text-anchor="middle">0</text><text transform="translate(1356.50 905.48) scale(0.9951 1)" font-size="14.0" fill="#3d3d3d" stroke="#3d3d3d" stroke-width="0.3" text-anchor="middle">0</text><text transform="translate(1397.30 905.48) scale(0.9951 1)" font-size="14.0" fill="#3d3d3d" stroke="#3d3d3d" stroke-width="0.3" text-anchor="middle">0</text><text transform="translate(1438.10 905.48) scale(0.9951 1)" font-size="14.0" fill="#3d3d3d" stroke="#3d3d3d" stroke-width="0.3" text-anchor="middle">33</text><text transform="translate(1478.90 905.48) scale(0.9951 1)" font-size="14.0" fill="#3d3d3d" stroke="#3d3d3d" stroke-width="0.3" text-anchor="middle">10</text><text transform="translate(1519.70 905.48) scale(0.9951 1)" font-size="14.0" fill="#3d3d3d" stroke="#3d3d3d" stroke-width="0.3" text-anchor="middle">0</text><text transform="translate(1560.50 905.48) scale(0.9951 1)" font-size="14.0" fill="#dce7f4" stroke="#dce7f4" stroke-width="0.3" text-anchor="middle">142</text><text transform="translate(1601.30 905.48) scale(0.9951 1)" font-size="14.0" fill="#3d3d3d" stroke="#3d3d3d" stroke-width="0.3" text-anchor="middle">15</text><text transform="translate(1234.10 944.10) scale(0.9951 1)" font-size="14.0" fill="#3d3d3d" stroke="#3d3d3d" stroke-width="0.3" text-anchor="middle">0</text><text transform="translate(1274.90 944.10) scale(0.9951 1)" font-size="14.0" fill="#3d3d3d" stroke="#3d3d3d" stroke-width="0.3" text-anchor="middle">0</text><text transform="translate(1315.70 944.10) scale(0.9951 1)" font-size="14.0" fill="#3d3d3d" stroke="#3d3d3d" stroke-width="0.3" text-anchor="middle">7</text><text transform="translate(1356.50 944.10) scale(0.9951 1)" font-size="14.0" fill="#3d3d3d" stroke="#3d3d3d" stroke-width="0.3" text-anchor="middle">0</text><text transform="translate(1397.30 944.10) scale(0.9951 1)" font-size="14.0" fill="#3d3d3d" stroke="#3d3d3d" stroke-width="0.3" text-anchor="middle">0</text><text transform="translate(1438.10 944.10) scale(0.9951 1)" font-size="14.0" fill="#3d3d3d" stroke="#3d3d3d" stroke-width="0.3" text-anchor="middle">0</text><text transform="translate(1478.90 944.10) scale(0.9951 1)" font-size="14.0" fill="#3d3d3d" stroke="#3d3d3d" stroke-width="0.3" text-anchor="middle">3</text><text transform="translate(1519.70 944.10) scale(0.9951 1)" font-size="14.0" fill="#3d3d3d" stroke="#3d3d3d" stroke-width="0.3" text-anchor="middle">0</text><text transform="translate(1560.50 944.10) scale(0.9951 1)" font-size="14.0" fill="#3d3d3d" stroke="#3d3d3d" stroke-width="0.3" text-anchor="middle">0</text><text transform="translate(1601.30 944.10) scale(0.9951 1)" font-size="14.0" fill="#dce7f4" stroke="#dce7f4" stroke-width="0.3" text-anchor="middle">190</text><line x1="1208.20" y1="593.22" x2="1213.70" y2="593.22" stroke="#333333" stroke-width="1.4"/><text transform="translate(1200.40 593.72) rotate(-90)" font-size="14.0" fill="#303030" stroke="#303030" stroke-width="0.3" text-anchor="middle">0</text><line x1="1208.20" y1="631.68" x2="1213.70" y2="631.68" stroke="#333333" stroke-width="1.4"/><text transform="translate(1200.40 632.18) rotate(-90)" font-size="14.0" fill="#303030" stroke="#303030" stroke-width="0.3" text-anchor="middle">1</text><line x1="1208.20" y1="670.14" x2="1213.70" y2="670.14" stroke="#333333" stroke-width="1.4"/><text transform="translate(1200.40 670.64) rotate(-90)" font-size="14.0" fill="#303030" stroke="#303030" stroke-width="0.3" text-anchor="middle">2</text><line x1="1208.20" y1="708.61" x2="1213.70" y2="708.61" stroke="#333333" stroke-width="1.4"/><text transform="translate(1200.40 709.11) rotate(-90)" font-size="14.0" fill="#303030" stroke="#303030" stroke-width="0.3" text-anchor="middle">3</text><line x1="1208.20" y1="747.07" x2="1213.70" y2="747.07" stroke="#333333" stroke-width="1.4"/><text transform="translate(1200.40 747.57) rotate(-90)" font-size="14.0" fill="#303030" stroke="#303030" stroke-width="0.3" text-anchor="middle">4</text><line x1="1208.20" y1="785.53" x2="1213.70" y2="785.53" stroke="#333333" stroke-width="1.4"/><text transform="translate(1200.40 786.03) rotate(-90)" font-size="14.0" fill="#303030" stroke="#303030" stroke-width="0.3" text-anchor="middle">5</text><line x1="1208.20" y1="824.00" x2="1213.70" y2="824.00" stroke="#333333" stroke-width="1.4"/><text transform="translate(1200.40 824.50) rotate(-90)" font-size="14.0" fill="#303030" stroke="#303030" stroke-width="0.3" text-anchor="middle">6</text><line x1="1208.20" y1="862.46" x2="1213.70" y2="862.46" stroke="#333333" stroke-width="1.4"/><text transform="translate(1200.40 862.96) rotate(-90)" font-size="14.0" fill="#303030" stroke="#303030" stroke-width="0.3" text-anchor="middle">7</text><line x1="1208.20" y1="900.92" x2="1213.70" y2="900.92" stroke="#333333" stroke-width="1.4"/><text transform="translate(1200.40 901.42) rotate(-90)" font-size="14.0" fill="#303030" stroke="#303030" stroke-width="0.3" text-anchor="middle">8</text><line x1="1208.20" y1="939.38" x2="1213.70" y2="939.38" stroke="#333333" stroke-width="1.4"/><text transform="translate(1200.40 939.88) rotate(-90)" font-size="14.0" fill="#303030" stroke="#303030" stroke-width="0.3" text-anchor="middle">9</text><line x1="1234.10" y1="958.50" x2="1234.10" y2="964.00" stroke="#333333" stroke-width="1.4"/><text transform="translate(1234.10 980.00) scale(0.9951 1)" font-size="14.0" fill="#303030" stroke="#303030" stroke-width="0.3" text-anchor="middle">0</text><line x1="1274.90" y1="958.50" x2="1274.90" y2="964.00" stroke="#333333" stroke-width="1.4"/><text transform="translate(1274.90 980.00) scale(0.9951 1)" font-size="14.0" fill="#303030" stroke="#303030" stroke-width="0.3" text-anchor="middle">1</text><line x1="1315.70" y1="958.50" x2="1315.70" y2="964.00" stroke="#333333" stroke-width="1.4"/><text transform="translate(1315.70 980.00) scale(0.9951 1)" font-size="14.0" fill="#303030" stroke="#303030" stroke-width="0.3" text-anchor="middle">2</text><line x1="1356.50" y1="958.50" x2="1356.50" y2="964.00" stroke="#333333" stroke-width="1.4"/><text transform="translate(1356.50 980.00) scale(0.9951 1)" font-size="14.0" fill="#303030" stroke="#303030" stroke-width="0.3" text-anchor="middle">3</text><line x1="1397.30" y1="958.50" x2="1397.30" y2="964.00" stroke="#333333" stroke-width="1.4"/><text transform="translate(1397.30 980.00) scale(0.9951 1)" font-size="14.0" fill="#303030" stroke="#303030" stroke-width="0.3" text-anchor="middle">4</text><line x1="1438.10" y1="958.50" x2="1438.10" y2="964.00" stroke="#333333" stroke-width="1.4"/><text transform="translate(1438.10 980.00) scale(0.9951 1)" font-size="14.0" fill="#303030" stroke="#303030" stroke-width="0.3" text-anchor="middle">5</text><line x1="1478.90" y1="958.50" x2="1478.90" y2="964.00" stroke="#333333" stroke-width="1.4"/><text transform="translate(1478.90 980.00) scale(0.9951 1)" font-size="14.0" fill="#303030" stroke="#303030" stroke-width="0.3" text-anchor="middle">6</text><line x1="1519.70" y1="958.50" x2="1519.70" y2="964.00" stroke="#333333" stroke-width="1.4"/><text transform="translate(1519.70 980.00) scale(0.9951 1)" font-size="14.0" fill="#303030" stroke="#303030" stroke-width="0.3" text-anchor="middle">7</text><line x1="1560.50" y1="958.50" x2="1560.50" y2="964.00" stroke="#333333" stroke-width="1.4"/><text transform="translate(1560.50 980.00) scale(0.9951 1)" font-size="14.0" fill="#303030" stroke="#303030" stroke-width="0.3" text-anchor="middle">8</text><line x1="1601.30" y1="958.50" x2="1601.30" y2="964.00" stroke="#333333" stroke-width="1.4"/><text transform="translate(1601.30 980.00) scale(0.9951 1)" font-size="14.0" fill="#303030" stroke="#303030" stroke-width="0.3" text-anchor="middle">9</text><rect x="1648.20" y="573.70" width="17.80" height="384.30" fill="url(#cb)"/><line x1="1666.00" y1="959.30" x2="1671.00" y2="959.30" stroke="#333333" stroke-width="1.4"/><text transform="translate(1676.40 964.60) scale(0.9951 1)" font-size="14.0" fill="#303030" stroke="#303030" stroke-width="0.3" text-anchor="start">0</text><line x1="1666.00" y1="911.07" x2="1671.00" y2="911.07" stroke="#333333" stroke-width="1.4"/><text transform="translate(1676.40 916.38) scale(0.9951 1)" font-size="14.0" fill="#303030" stroke="#303030" stroke-width="0.3" text-anchor="start">25</text><line x1="1666.00" y1="862.85" x2="1671.00" y2="862.85" stroke="#333333" stroke-width="1.4"/><text transform="translate(1676.40 868.15) scale(0.9951 1)" font-size="14.0" fill="#303030" stroke="#303030" stroke-width="0.3" text-anchor="start">50</text><line x1="1666.00" y1="814.62" x2="1671.00" y2="814.62" stroke="#333333" stroke-width="1.4"/><text transform="translate(1676.40 819.93) scale(0.9951 1)" font-size="14.0" fill="#303030" stroke="#303030" stroke-width="0.3" text-anchor="start">75</text><line x1="1666.00" y1="766.40" x2="1671.00" y2="766.40" stroke="#333333" stroke-width="1.4"/><text transform="translate(1676.40 771.70) scale(0.9951 1)" font-size="14.0" fill="#303030" stroke="#303030" stroke-width="0.3" text-anchor="start">100</text><line x1="1666.00" y1="718.17" x2="1671.00" y2="718.17" stroke="#333333" stroke-width="1.4"/><text transform="translate(1676.40 723.48) scale(0.9951 1)" font-size="14.0" fill="#303030" stroke="#303030" stroke-width="0.3" text-anchor="start">125</text><line x1="1666.00" y1="669.95" x2="1671.00" y2="669.95" stroke="#333333" stroke-width="1.4"/><text transform="translate(1676.40 675.25) scale(0.9951 1)" font-size="14.0" fill="#303030" stroke="#303030" stroke-width="0.3" text-anchor="start">150</text><line x1="1666.00" y1="621.73" x2="1671.00" y2="621.73" stroke="#333333" stroke-width="1.4"/><text transform="translate(1676.40 627.03) scale(0.9951 1)" font-size="14.0" fill="#303030" stroke="#303030" stroke-width="0.3" text-anchor="start">175</text><line x1="1666.00" y1="573.50" x2="1671.00" y2="573.50" stroke="#333333" stroke-width="1.4"/><text transform="translate(1676.40 578.80) scale(0.9951 1)" font-size="14.0" fill="#303030" stroke="#303030" stroke-width="0.3" text-anchor="start">200</text><text transform="translate(1416.30 564.00) scale(0.9951 1)" font-size="17.1" fill="#303030" stroke="#303030" stroke-width="0.3" text-anchor="middle">Confusion Matrix</text><text transform="translate(1417.30 1000.70) scale(0.9951 1)" font-size="14.35" fill="#303030" stroke="#303030" stroke-width="0.3" text-anchor="middle">Predicted labels</text><text transform="translate(1180.02 766.70) rotate(-90)" font-size="14.35" fill="#303030" stroke="#303030" stroke-width="0.3" text-anchor="middle">True labels</text></g>
<text x="1402.70" y="1045.00" font-family="Liberation Serif, serif" font-weight="bold" font-size="33.2" fill="#000" text-anchor="middle">(f) MSSDA</text>
<g font-family="DejaVu Sans, sans-serif"><rect x="282.00" y="1115.10" width="41.20" height="38.77" fill="#08306b"/><rect x="322.80" y="1115.10" width="41.20" height="38.77" fill="#f7fbff"/><rect x="363.60" y="1115.10" width="41.20" height="38.77" fill="#f7fbff"/><rect x="404.40" y="1115.10" width="41.20" height="38.77" fill="#f7fbff"/><rect x="445.20" y="1115.10" width="41.20" height="38.77" fill="#f7fbff"/><rect x="486.00" y="1115.10" width="41.20" height="38.77" fill="#f7fbff"/><rect x="526.80" y="1115.10" width="41.20" height="38.77" fill="#f7fbff"/><rect x="567.60" y="1115.10" width="41.20" height="38.77" fill="#f7fbff"/><rect x="608.40" y="1115.10" width="41.20" height="38.77" fill="#f7fbff"/><rect x="649.20" y="1115.10" width="41.20" height="38.77" fill="#f7fbff"/><rect x="282.00" y="1153.47" width="41.20" height="38.77" fill="#f6faff"/><rect x="322.80" y="1153.47" width="41.20" height="38.77" fill="#084e98"/><rect x="363.60" y="1153.47" width="41.20" height="38.77" fill="#f7fbff"/><rect x="404.40" y="1153.47" width="41.20" height="38.77" fill="#f7fbff"/><rect x="445.20" y="1153.47" width="41.20" height="38.77" fill="#f7fbff"/><rect x="486.00" y="1153.47" width="41.20" height="38.77" fill="#e3eef8"/><rect x="526.80" y="1153.47" width="41.20" height="38.77" fill="#f7fbff"/><rect x="567.60" y="1153.47" width="41.20" height="38.77" fill="#f7fbff"/><rect x="608.40" y="1153.47" width="41.20" height="38.77" fill="#f7fbff"/><rect x="649.20" y="1153.47" width="41.20" height="38.77" fill="#f6faff"/><rect x="282.00" y="1191.84" width="41.20" height="38.77" fill="#f7fbff"/><rect x="322.80" y="1191.84" width="41.20" height="38.77" fill="#f7fbff"/><rect x="363.60" y="1191.84" width="41.20" height="38.77" fill="#1764ab"/><rect x="404.40" y="1191.84" width="41.20" height="38.77" fill="#f6faff"/><rect x="445.20" y="1191.84" width="41.20" height="38.77" fill="#f7fbff"/><rect x="486.00" y="1191.84" width="41.20" height="38.77" fill="#deebf7"/><rect x="526.80" y="1191.84" width="41.20" height="38.77" fill="#f7fbff"/><rect x="567.60" y="1191.84" width="41.20" height="38.77" fill="#f7fbff"/><rect x="608.40" y="1191.84" width="41.20" height="38.77" fill="#f7fbff"/><rect x="649.20" y="1191.84" width="41.20" height="38.77" fill="#eaf2fb"/><rect x="282.00" y="1230.21" width="41.20" height="38.77" fill="#f7fbff"/><rect x="322.80" y="1230.21" width="41.20" height="38.77" fill="#f7fbff"/><rect x="363.60" y="1230.21" width="41.20" height="38.77" fill="#f6faff"/><rect x="404.40" y="1230.21" width="41.20" height="38.77" fill="#08316d"/><rect x="445.20" y="1230.21" width="41.20" height="38.77" fill="#f7fbff"/><rect x="486.00" y="1230.21" width="41.20" height="38.77" fill="#f7fbff"/><rect x="526.80" y="1230.21" width="41.20" height="38.77" fill="#f7fbff"/><rect x="567.60" y="1230.21" width="41.20" height="38.77" fill="#f7fbff"/><rect x="608.40" y="1230.21" width="41.20" height="38.77" fill="#f7fbff"/><rect x="649.20" y="1230.21" width="41.20" height="38.77" fill="#f7fbff"/><rect x="282.00" y="1268.58" width="41.20" height="38.77" fill="#f7fbff"/><rect x="322.80" y="1268.58" width="41.20" height="38.77" fill="#f7fbff"/><rect x="363.60" y="1268.58" width="41.20" height="38.77" fill="#f7fbff"/><rect x="404.40" y="1268.58" width="41.20" height="38.77" fill="#f7fbff"/><rect x="445.20" y="1268.58" width="41.20" height="38.77" fill="#08306b"/><rect x="486.00" y="1268.58" width="41.20" height="38.77" fill="#f7fbff"/><rect x="526.80" y="1268.58" width="41.20" height="38.77" fill="#f7fbff"/><rect x="567.60" y="1268.58" width="41.20" height="38.77" fill="#f7fbff"/><rect x="608.40" y="1268.58" width="41.20" height="38.77" fill="#f7fbff"/><rect x="649.20" y="1268.58" width="41.20" height="38.77" fill="#f7fbff"/><rect x="282.00" y="1306.95" width="41.20" height="38.77" fill="#f7fbff"/><rect x="322.80" y="1306.95" width="41.20" height="38.77" fill="#f7fbff"/><rect x="363.60" y="1306.95" width="41.20" height="38.77" fill="#e0ecf8"/><rect x="404.40" y="1306.95" width="41.20" height="38.77" fill="#f7fbff"/><rect x="445.20" y="1306.95" width="41.20" height="38.77" fill="#f7fbff"/><rect x="486.00" y="1306.95" width="41.20" height="38.77" fill="#a3cce3"/><rect x="526.80" y="1306.95" width="41.20" height="38.77" fill="#f7fbff"/><rect x="567.60" y="1306.95" width="41.20" height="38.77" fill="#f7fbff"/><rect x="608.40" y="1306.95" width="41.20" height="38.77" fill="#f6faff"/><rect x="649.20" y="1306.95" width="41.20" height="38.77" fill="#64a9d3"/><rect x="282.00" y="1345.32" width="41.20" height="38.77" fill="#f7fbff"/><rect x="322.80" y="1345.32" width="41.20" height="38.77" fill="#f7fbff"/><rect x="363.60" y="1345.32" width="41.20" height="38.77" fill="#ddeaf7"/><rect x="404.40" y="1345.32" width="41.20" height="38.77" fill="#a0cbe2"/><rect x="445.20" y="1345.32" width="41.20" height="38.77" fill="#f7fbff"/><rect x="486.00" y="1345.32" width="41.20" height="38.77" fill="#eef5fc"/><rect x="526.80" y="1345.32" width="41.20" height="38.77" fill="#d8e7f5"/><rect x="567.60" y="1345.32" width="41.20" height="38.77" fill="#e3eef8"/><rect x="608.40" y="1345.32" width="41.20" height="38.77" fill="#e7f0fa"/><rect x="649.20" y="1345.32" width="41.20" height="38.77" fill="#e3eef9"/><rect x="282.00" y="1383.69" width="41.20" height="38.77" fill="#f7fbff"/><rect x="322.80" y="1383.69" width="41.20" height="38.77" fill="#f7fbff"/><rect x="363.60" y="1383.69" width="41.20" height="38.77" fill="#eaf2fb"/><rect x="404.40" y="1383.69" width="41.20" height="38.77" fill="#75b4d8"/><rect x="445.20" y="1383.69" width="41.20" height="38.77" fill="#f7fbff"/><rect x="486.00" y="1383.69" width="41.20" height="38.77" fill="#f7fbff"/><rect x="526.80" y="1383.69" width="41.20" height="38.77" fill="#f7fbff"/><rect x="567.60" y="1383.69" width="41.20" height="38.77" fill="#84bcdb"/><rect x="608.40" y="1383.69" width="41.20" height="38.77" fill="#f5f9fe"/><rect x="649.20" y="1383.69" width="41.20" height="38.77" fill="#f7fbff"/><rect x="282.00" y="1422.06" width="41.20" height="38.77" fill="#f7fbff"/><rect x="322.80" y="1422.06" width="41.20" height="38.77" fill="#f7fbff"/><rect x="363.60" y="1422.06" width="41.20" height="38.77" fill="#f7fbff"/><rect x="404.40" y="1422.06" width="41.20" height="38.77" fill="#abd0e6"/><rect x="445.20" y="1422.06" width="41.20" height="38.77" fill="#f7fbff"/><rect x="486.00" y="1422.06" width="41.20" height="38.77" fill="#f6faff"/><rect x="526.80" y="1422.06" width="41.20" height="38.77" fill="#f7fbff"/><rect x="567.60" y="1422.06" width="41.20" height="38.77" fill="#f7fbff"/><rect x="608.40" y="1422.06" width="41.20" height="38.77" fill="#3b8bc2"/><rect x="649.20" y="1422.06" width="41.20" height="38.77" fill="#f5fafe"/><rect x="282.00" y="1460.43" width="41.20" height="38.77" fill="#f7fbff"/><rect x="322.80" y="1460.43" width="41.20" height="38.77" fill="#f7fbff"/><rect x="363.60" y="1460.43" width="41.20" height="38.77" fill="#9cc9e1"/><rect x="404.40" y="1460.43" width="41.20" height="38.77" fill="#e4eff9"/><rect x="445.20" y="1460.43" width="41.20" height="38.77" fill="#f7fbff"/><rect x="486.00" y="1460.43" width="41.20" height="38.77" fill="#cee0f2"/><rect x="526.80" y="1460.43" width="41.20" height="38.77" fill="#f7fbff"/><rect x="567.60" y="1460.43" width="41.20" height="38.77" fill="#f7fbff"/><rect x="608.40" y="1460.43" width="41.20" height="38.77" fill="#f6faff"/><rect x="649.20" y="1460.43" width="41.20" height="38.77" fill="#b3d3e8"/><text transform="translate(302.40 1137.70) scale(0.9951 1)" font-size="14.0" fill="#dce7f4" stroke="#dce7f4" stroke-width="0.3" text-anchor="middle">200</text><text transform="translate(343.20 1137.70) scale(0.9951 1)" font-size="14.0" fill="#3d3d3d" stroke="#3d3d3d" stroke-width="0.3" text-anchor="middle">0</text><text transform="translate(384.00 1137.70) scale(0.9951 1)" font-size="14.0" fill="#3d3d3d" stroke="#3d3d3d" stroke-width="0.3" text-anchor="middle">0</text><text transform="translate(424.80 1137.70) scale(0.9951 1)" font-size="14.0" fill="#3d3d3d" stroke="#3d3d3d" stroke-width="0.3" text-anchor="middle">0</text><text transform="translate(465.60 1137.70) scale(0.9951 1)" font-size="14.0" fill="#3d3d3d" stroke="#3d3d3d" stroke-width="0.3" text-anchor="middle">0</text><text transform="translate(506.40 1137.70) scale(0.9951 1)" font-size="14.0" fill="#3d3d3d" stroke="#3d3d3d" stroke-width="0.3" text-anchor="middle">0</text><text transform="translate(547.20 1137.70) scale(0.9951 1)" font-size="14.0" fill="#3d3d3d" stroke="#3d3d3d" stroke-width="0.3" text-anchor="middle">0</text><text transform="translate(588.00 1137.70) scale(0.9951 1)" font-size="14.0" fill="#3d3d3d" stroke="#3d3d3d" stroke-width="0.3" text-anchor="middle">0</text><text transform="translate(628.80 1137.70) scale(0.9951 1)" font-size="14.0" fill="#3d3d3d" stroke="#3d3d3d" stroke-width="0.3" text-anchor="middle">0</text><text transform="translate(669.60 1137.70) scale(0.9951 1)" font-size="14.0" fill="#3d3d3d" stroke="#3d3d3d" stroke-width="0.3" text-anchor="middle">0</text><text transform="translate(302.40 1176.30) scale(0.9951 1)" font-size="14.0" fill="#3d3d3d" stroke="#3d3d3d" stroke-width="0.3" text-anchor="middle">1</text><text transform="translate(343.20 1176.30) scale(0.9951 1)" font-size="14.0" fill="#dce7f4" stroke="#dce7f4" stroke-width="0.3" text-anchor="middle">177</text><text transform="translate(384.00 1176.30) scale(0.9951 1)" font-size="14.0" fill="#3d3d3d" stroke="#3d3d3d" stroke-width="0.3" text-anchor="middle">0</text><text transform="translate(424.80 1176.30) scale(0.9951 1)" font-size="14.0" fill="#3d3d3d" stroke="#3d3d3d" stroke-width="0.3" text-anchor="middle">0</text><text transform="translate(465.60 1176.30) scale(0.9951 1)" font-size="14.0" fill="#3d3d3d" stroke="#3d3d3d" stroke-width="0.3" text-anchor="middle">0</text><text transform="translate(506.40 1176.30) scale(0.9951 1)" font-size="14.0" fill="#3d3d3d" stroke="#3d3d3d" stroke-width="0.3" text-anchor="middle">21</text><text transform="translate(547.20 1176.30) scale(0.9951 1)" font-size="14.0" fill="#3d3d3d" stroke="#3d3d3d" stroke-width="0.3" text-anchor="middle">0</text><text transform="translate(588.00 1176.30) scale(0.9951 1)" font-size="14.0" fill="#3d3d3d" stroke="#3d3d3d" stroke-width="0.3" text-anchor="middle">0</text><text transform="translate(628.80 1176.30) scale(0.9951 1)" font-size="14.0" fill="#3d3d3d" stroke="#3d3d3d" stroke-width="0.3" text-anchor="middle">0</text><text transform="translate(669.60 1176.30) scale(0.9951 1)" font-size="14.0" fill="#3d3d3d" stroke="#3d3d3d" stroke-width="0.3" text-anchor="middle">1</text><text transform="translate(302.40 1214.90) scale(0.9951 1)" font-size="14.0" fill="#3d3d3d" stroke="#3d3d3d" stroke-width="0.3" text-anchor="middle">0</text><text transform="translate(343.20 1214.90) scale(0.9951 1)" font-size="14.0" fill="#3d3d3d" stroke="#3d3d3d" stroke-width="0.3" text-anchor="middle">0</text><text transform="translate(384.00 1214.90) scale(0.9951 1)" font-size="14.0" fill="#dce7f4" stroke="#dce7f4" stroke-width="0.3" text-anchor="middle">160</text><text transform="translate(424.80 1214.90) scale(0.9951 1)" font-size="14.0" fill="#3d3d3d" stroke="#3d3d3d" stroke-width="0.3" text-anchor="middle">1</text><text transform="translate(465.60 1214.90) scale(0.9951 1)" font-size="14.0" fill="#3d3d3d" stroke="#3d3d3d" stroke-width="0.3" text-anchor="middle">0</text><text transform="translate(506.40 1214.90) scale(0.9951 1)" font-size="14.0" fill="#3d3d3d" stroke="#3d3d3d" stroke-width="0.3" text-anchor="middle">25</text><text transform="translate(547.20 1214.90) scale(0.9951 1)" font-size="14.0" fill="#3d3d3d" stroke="#3d3d3d" stroke-width="0.3" text-anchor="middle">0</text><text transform="translate(588.00 1214.90) scale(0.9951 1)" font-size="14.0" fill="#3d3d3d" stroke="#3d3d3d" stroke-width="0.3" text-anchor="middle">0</text><text transform="translate(628.80 1214.90) scale(0.9951 1)" font-size="14.0" fill="#3d3d3d" stroke="#3d3d3d" stroke-width="0.3" text-anchor="middle">0</text><text transform="translate(669.60 1214.90) scale(0.9951 1)" font-size="14.0" fill="#3d3d3d" stroke="#3d3d3d" stroke-width="0.3" text-anchor="middle">14</text><text transform="translate(302.40 1253.50) scale(0.9951 1)" font-size="14.0" fill="#3d3d3d" stroke="#3d3d3d" stroke-width="0.3" text-anchor="middle">0</text><text transform="translate(343.20 1253.50) scale(0.9951 1)" font-size="14.0" fill="#3d3d3d" stroke="#3d3d3d" stroke-width="0.3" text-anchor="middle">0</text><text transform="translate(384.00 1253.50) scale(0.9951 1)" font-size="14.0" fill="#3d3d3d" stroke="#3d3d3d" stroke-width="0.3" text-anchor="middle">1</text><text transform="translate(424.80 1253.50) scale(0.9951 1)" font-size="14.0" fill="#dce7f4" stroke="#dce7f4" stroke-width="0.3" text-anchor="middle">199</text><text transform="translate(465.60 1253.50) scale(0.9951 1)" font-size="14.0" fill="#3d3d3d" stroke="#3d3d3d" stroke-width="0.3" text-anchor="middle">0</text><text transform="translate(506.40 1253.50) scale(0.9951 1)" font-size="14.0" fill="#3d3d3d" stroke="#3d3d3d" stroke-width="0.3" text-anchor="middle">0</text><text transform="translate(547.20 1253.50) scale(0.9951 1)" font-size="14.0" fill="#3d3d3d" stroke="#3d3d3d" stroke-width="0.3" text-anchor="middle">0</text><text transform="translate(588.00 1253.50) scale(0.9951 1)" font-size="14.0" fill="#3d3d3d" stroke="#3d3d3d" stroke-width="0.3" text-anchor="middle">0</text><text transform="translate(628.80 1253.50) scale(0.9951 1)" font-size="14.0" fill="#3d3d3d" stroke="#3d3d3d" stroke-width="0.3" text-anchor="middle">0</text><text transform="translate(669.60 1253.50) scale(0.9951 1)" font-size="14.0" fill="#3d3d3d" stroke="#3d3d3d" stroke-width="0.3" text-anchor="middle">0</text><text transform="translate(302.40 1292.10) scale(0.9951 1)" font-size="14.0" fill="#3d3d3d" stroke="#3d3d3d" stroke-width="0.3" text-anchor="middle">0</text><text transform="translate(343.20 1292.10) scale(0.9951 1)" font-size="14.0" fill="#3d3d3d" stroke="#3d3d3d" stroke-width="0.3" text-anchor="middle">0</text><text transform="translate(384.00 1292.10) scale(0.9951 1)" font-size="14.0" fill="#3d3d3d" stroke="#3d3d3d" stroke-width="0.3" text-anchor="middle">0</text><text transform="translate(424.80 1292.10) scale(0.9951 1)" font-size="14.0" fill="#3d3d3d" stroke="#3d3d3d" stroke-width="0.3" text-anchor="middle">0</text><text transform="translate(465.60 1292.10) scale(0.9951 1)" font-size="14.0" fill="#dce7f4" stroke="#dce7f4" stroke-width="0.3" text-anchor="middle">200</text><text transform="translate(506.40 1292.10) scale(0.9951 1)" font-size="14.0" fill="#3d3d3d" stroke="#3d3d3d" stroke-width="0.3" text-anchor="middle">0</text><text transform="translate(547.20 1292.10) scale(0.9951 1)" font-size="14.0" fill="#3d3d3d" stroke="#3d3d3d" stroke-width="0.3" text-anchor="middle">0</text><text transform="translate(588.00 1292.10) scale(0.9951 1)" font-size="14.0" fill="#3d3d3d" stroke="#3d3d3d" stroke-width="0.3" text-anchor="middle">0</text><text transform="translate(628.80 1292.10) scale(0.9951 1)" font-size="14.0" fill="#3d3d3d" stroke="#3d3d3d" stroke-width="0.3" text-anchor="middle">0</text><text transform="translate(669.60 1292.10) scale(0.9951 1)" font-size="14.0" fill="#3d3d3d" stroke="#3d3d3d" stroke-width="0.3" text-anchor="middle">0</text><text transform="translate(302.40 1330.70) scale(0.9951 1)" font-size="14.0" fill="#3d3d3d" stroke="#3d3d3d" stroke-width="0.3" text-anchor="middle">0</text><text transform="translate(343.20 1330.70) scale(0.9951 1)" font-size="14.0" fill="#3d3d3d" stroke="#3d3d3d" stroke-width="0.3" text-anchor="middle">0</text><text transform="translate(384.00 1330.70) scale(0.9951 1)" font-size="14.0" fill="#3d3d3d" stroke="#3d3d3d" stroke-width="0.3" text-anchor="middle">23</text><text transform="translate(424.80 1330.70) scale(0.9951 1)" font-size="14.0" fill="#3d3d3d" stroke="#3d3d3d" stroke-width="0.3" text-anchor="middle">0</text><text transform="translate(465.60 1330.70) scale(0.9951 1)" font-size="14.0" fill="#3d3d3d" stroke="#3d3d3d" stroke-width="0.3" text-anchor="middle">0</text><text transform="translate(506.40 1330.70) scale(0.9951 1)" font-size="14.0" fill="#3d3d3d" stroke="#3d3d3d" stroke-width="0.3" text-anchor="middle">72</text><text transform="translate(547.20 1330.70) scale(0.9951 1)" font-size="14.0" fill="#3d3d3d" stroke="#3d3d3d" stroke-width="0.3" text-anchor="middle">0</text><text transform="translate(588.00 1330.70) scale(0.9951 1)" font-size="14.0" fill="#3d3d3d" stroke="#3d3d3d" stroke-width="0.3" text-anchor="middle">0</text><text transform="translate(628.80 1330.70) scale(0.9951 1)" font-size="14.0" fill="#3d3d3d" stroke="#3d3d3d" stroke-width="0.3" text-anchor="middle">1</text><text transform="translate(669.60 1330.70) scale(0.9951 1)" font-size="14.0" fill="#dce7f4" stroke="#dce7f4" stroke-width="0.3" text-anchor="middle">104</text><text transform="translate(302.40 1369.30) scale(0.9951 1)" font-size="14.0" fill="#3d3d3d" stroke="#3d3d3d" stroke-width="0.3" text-anchor="middle">0</text><text transform="translate(343.20 1369.30) scale(0.9951 1)" font-size="14.0" fill="#3d3d3d" stroke="#3d3d3d" stroke-width="0.3" text-anchor="middle">0</text><text transform="translate(384.00 1369.30) scale(0.9951 1)" font-size="14.0" fill="#3d3d3d" stroke="#3d3d3d" stroke-width="0.3" text-anchor="middle">26</text><text transform="translate(424.80 1369.30) scale(0.9951 1)" font-size="14.0" fill="#3d3d3d" stroke="#3d3d3d" stroke-width="0.3" text-anchor="middle">74</text><text transform="translate(465.60 1369.30) scale(0.9951 1)" font-size="14.0" fill="#3d3d3d" stroke="#3d3d3d" stroke-width="0.3" text-anchor="middle">0</text><text transform="translate(506.40 1369.30) scale(0.9951 1)" font-size="14.0" fill="#3d3d3d" stroke="#3d3d3d" stroke-width="0.3" text-anchor="middle">10</text><text transform="translate(547.20 1369.30) scale(0.9951 1)" font-size="14.0" fill="#3d3d3d" stroke="#3d3d3d" stroke-width="0.3" text-anchor="middle">32</text><text transform="translate(588.00 1369.30) scale(0.9951 1)" font-size="14.0" fill="#3d3d3d" stroke="#3d3d3d" stroke-width="0.3" text-anchor="middle">21</text><text transform="translate(628.80 1369.30) scale(0.9951 1)" font-size="14.0" fill="#3d3d3d" stroke="#3d3d3d" stroke-width="0.3" text-anchor="middle">17</text><text transform="translate(669.60 1369.30) scale(0.9951 1)" font-size="14.0" fill="#3d3d3d" stroke="#3d3d3d" stroke-width="0.3" text-anchor="middle">20</text><text transform="translate(302.40 1407.90) scale(0.9951 1)" font-size="14.0" fill="#3d3d3d" stroke="#3d3d3d" stroke-width="0.3" text-anchor="middle">0</text><text transform="translate(343.20 1407.90) scale(0.9951 1)" font-size="14.0" fill="#3d3d3d" stroke="#3d3d3d" stroke-width="0.3" text-anchor="middle">0</text><text transform="translate(384.00 1407.90) scale(0.9951 1)" font-size="14.0" fill="#3d3d3d" stroke="#3d3d3d" stroke-width="0.3" text-anchor="middle">14</text><text transform="translate(424.80 1407.90) scale(0.9951 1)" font-size="14.0" fill="#3d3d3d" stroke="#3d3d3d" stroke-width="0.3" text-anchor="middle">95</text><text transform="translate(465.60 1407.90) scale(0.9951 1)" font-size="14.0" fill="#3d3d3d" stroke="#3d3d3d" stroke-width="0.3" text-anchor="middle">0</text><text transform="translate(506.40 1407.90) scale(0.9951 1)" font-size="14.0" fill="#3d3d3d" stroke="#3d3d3d" stroke-width="0.3" text-anchor="middle">0</text><text transform="translate(547.20 1407.90) scale(0.9951 1)" font-size="14.0" fill="#3d3d3d" stroke="#3d3d3d" stroke-width="0.3" text-anchor="middle">0</text><text transform="translate(588.00 1407.90) scale(0.9951 1)" font-size="14.0" fill="#3d3d3d" stroke="#3d3d3d" stroke-width="0.3" text-anchor="middle">88</text><text transform="translate(628.80 1407.90) scale(0.9951 1)" font-size="14.0" fill="#3d3d3d" stroke="#3d3d3d" stroke-width="0.3" text-anchor="middle">3</text><text transform="translate(669.60 1407.90) scale(0.9951 1)" font-size="14.0" fill="#3d3d3d" stroke="#3d3d3d" stroke-width="0.3" text-anchor="middle">0</text><text transform="translate(302.40 1446.50) scale(0.9951 1)" font-size="14.0" fill="#3d3d3d" stroke="#3d3d3d" stroke-width="0.3" text-anchor="middle">0</text><text transform="translate(343.20 1446.50) scale(0.9951 1)" font-size="14.0" fill="#3d3d3d" stroke="#3d3d3d" stroke-width="0.3" text-anchor="middle">0</text><text transform="translate(384.00 1446.50) scale(0.9951 1)" font-size="14.0" fill="#3d3d3d" stroke="#3d3d3d" stroke-width="0.3" text-anchor="middle">0</text><text transform="translate(424.80 1446.50) scale(0.9951 1)" font-size="14.0" fill="#3d3d3d" stroke="#3d3d3d" stroke-width="0.3" text-anchor="middle">67</text><text transform="translate(465.60 1446.50) scale(0.9951 1)" font-size="14.0" fill="#3d3d3d" stroke="#3d3d3d" stroke-width="0.3" text-anchor="middle">0</text><text transform="translate(506.40 1446.50) scale(0.9951 1)" font-size="14.0" fill="#3d3d3d" stroke="#3d3d3d" stroke-width="0.3" text-anchor="middle">1</text><text transform="translate(547.20 1446.50) scale(0.9951 1)" font-size="14.0" fill="#3d3d3d" stroke="#3d3d3d" stroke-width="0.3" text-anchor="middle">0</text><text transform="translate(588.00 1446.50) scale(0.9951 1)" font-size="14.0" fill="#3d3d3d" stroke="#3d3d3d" stroke-width="0.3" text-anchor="middle">0</text><text transform="translate(628.80 1446.50) scale(0.9951 1)" font-size="14.0" fill="#dce7f4" stroke="#dce7f4" stroke-width="0.3" text-anchor="middle">130</text><text transform="translate(669.60 1446.50) scale(0.9951 1)" font-size="14.0" fill="#3d3d3d" stroke="#3d3d3d" stroke-width="0.3" text-anchor="middle">2</text><text transform="translate(302.40 1485.10) scale(0.9951 1)" font-size="14.0" fill="#3d3d3d" stroke="#3d3d3d" stroke-width="0.3" text-anchor="middle">0</text><text transform="translate(343.20 1485.10) scale(0.9951 1)" font-size="14.0" fill="#3d3d3d" stroke="#3d3d3d" stroke-width="0.3" text-anchor="middle">0</text><text transform="translate(384.00 1485.10) scale(0.9951 1)" font-size="14.0" fill="#3d3d3d" stroke="#3d3d3d" stroke-width="0.3" text-anchor="middle">76</text><text transform="translate(424.80 1485.10) scale(0.9951 1)" font-size="14.0" fill="#3d3d3d" stroke="#3d3d3d" stroke-width="0.3" text-anchor="middle">19</text><text transform="translate(465.60 1485.10) scale(0.9951 1)" font-size="14.0" fill="#3d3d3d" stroke="#3d3d3d" stroke-width="0.3" text-anchor="middle">0</text><text transform="translate(506.40 1485.10) scale(0.9951 1)" font-size="14.0" fill="#3d3d3d" stroke="#3d3d3d" stroke-width="0.3" text-anchor="middle">42</text><text transform="translate(547.20 1485.10) scale(0.9951 1)" font-size="14.0" fill="#3d3d3d" stroke="#3d3d3d" stroke-width="0.3" text-anchor="middle">0</text><text transform="translate(588.00 1485.10) scale(0.9951 1)" font-size="14.0" fill="#3d3d3d" stroke="#3d3d3d" stroke-width="0.3" text-anchor="middle">0</text><text transform="translate(628.80 1485.10) scale(0.9951 1)" font-size="14.0" fill="#3d3d3d" stroke="#3d3d3d" stroke-width="0.3" text-anchor="middle">1</text><text transform="translate(669.60 1485.10) scale(0.9951 1)" font-size="14.0" fill="#3d3d3d" stroke="#3d3d3d" stroke-width="0.3" text-anchor="middle">62</text><line x1="276.50" y1="1134.58" x2="282.00" y2="1134.58" stroke="#333333" stroke-width="1.4"/><text transform="translate(268.30 1135.08) rotate(-90)" font-size="14.0" fill="#303030" stroke="#303030" stroke-width="0.3" text-anchor="middle">0</text><line x1="276.50" y1="1172.99" x2="282.00" y2="1172.99" stroke="#333333" stroke-width="1.4"/><text transform="translate(268.30 1173.49) rotate(-90)" font-size="14.0" fill="#303030" stroke="#303030" stroke-width="0.3" text-anchor="middle">1</text><line x1="276.50" y1="1211.39" x2="282.00" y2="1211.39" stroke="#333333" stroke-width="1.4"/><text transform="translate(268.30 1211.89) rotate(-90)" font-size="14.0" fill="#303030" stroke="#303030" stroke-width="0.3" text-anchor="middle">2</text><line x1="276.50" y1="1249.79" x2="282.00" y2="1249.79" stroke="#333333" stroke-width="1.4"/><text transform="translate(268.30 1250.29) rotate(-90)" font-size="14.0" fill="#303030" stroke="#303030" stroke-width="0.3" text-anchor="middle">3</text><line x1="276.50" y1="1288.20" x2="282.00" y2="1288.20" stroke="#333333" stroke-width="1.4"/><text transform="translate(268.30 1288.70) rotate(-90)" font-size="14.0" fill="#303030" stroke="#303030" stroke-width="0.3" text-anchor="middle">4</text><line x1="276.50" y1="1326.60" x2="282.00" y2="1326.60" stroke="#333333" stroke-width="1.4"/><text transform="translate(268.30 1327.10) rotate(-90)" font-size="14.0" fill="#303030" stroke="#303030" stroke-width="0.3" text-anchor="middle">5</text><line x1="276.50" y1="1365.00" x2="282.00" y2="1365.00" stroke="#333333" stroke-width="1.4"/><text transform="translate(268.30 1365.50) rotate(-90)" font-size="14.0" fill="#303030" stroke="#303030" stroke-width="0.3" text-anchor="middle">6</text><line x1="276.50" y1="1403.41" x2="282.00" y2="1403.41" stroke="#333333" stroke-width="1.4"/><text transform="translate(268.30 1403.91) rotate(-90)" font-size="14.0" fill="#303030" stroke="#303030" stroke-width="0.3" text-anchor="middle">7</text><line x1="276.50" y1="1441.81" x2="282.00" y2="1441.81" stroke="#333333" stroke-width="1.4"/><text transform="translate(268.30 1442.31) rotate(-90)" font-size="14.0" fill="#303030" stroke="#303030" stroke-width="0.3" text-anchor="middle">8</text><line x1="276.50" y1="1480.21" x2="282.00" y2="1480.21" stroke="#333333" stroke-width="1.4"/><text transform="translate(268.30 1480.71) rotate(-90)" font-size="14.0" fill="#303030" stroke="#303030" stroke-width="0.3" text-anchor="middle">9</text><line x1="302.40" y1="1499.30" x2="302.40" y2="1504.80" stroke="#333333" stroke-width="1.4"/><text transform="translate(302.40 1521.50) scale(0.9951 1)" font-size="14.0" fill="#303030" stroke="#303030" stroke-width="0.3" text-anchor="middle">0</text><line x1="343.20" y1="1499.30" x2="343.20" y2="1504.80" stroke="#333333" stroke-width="1.4"/><text transform="translate(343.20 1521.50) scale(0.9951 1)" font-size="14.0" fill="#303030" stroke="#303030" stroke-width="0.3" text-anchor="middle">1</text><line x1="384.00" y1="1499.30" x2="384.00" y2="1504.80" stroke="#333333" stroke-width="1.4"/><text transform="translate(384.00 1521.50) scale(0.9951 1)" font-size="14.0" fill="#303030" stroke="#303030" stroke-width="0.3" text-anchor="middle">2</text><line x1="424.80" y1="1499.30" x2="424.80" y2="1504.80" stroke="#333333" stroke-width="1.4"/><text transform="translate(424.80 1521.50) scale(0.9951 1)" font-size="14.0" fill="#303030" stroke="#303030" stroke-width="0.3" text-anchor="middle">3</text><line x1="465.60" y1="1499.30" x2="465.60" y2="1504.80" stroke="#333333" stroke-width="1.4"/><text transform="translate(465.60 1521.50) scale(0.9951 1)" font-size="14.0" fill="#303030" stroke="#303030" stroke-width="0.3" text-anchor="middle">4</text><line x1="506.40" y1="1499.30" x2="506.40" y2="1504.80" stroke="#333333" stroke-width="1.4"/><text transform="translate(506.40 1521.50) scale(0.9951 1)" font-size="14.0" fill="#303030" stroke="#303030" stroke-width="0.3" text-anchor="middle">5</text><line x1="547.20" y1="1499.30" x2="547.20" y2="1504.80" stroke="#333333" stroke-width="1.4"/><text transform="translate(547.20 1521.50) scale(0.9951 1)" font-size="14.0" fill="#303030" stroke="#303030" stroke-width="0.3" text-anchor="middle">6</text><line x1="588.00" y1="1499.30" x2="588.00" y2="1504.80" stroke="#333333" stroke-width="1.4"/><text transform="translate(588.00 1521.50) scale(0.9951 1)" font-size="14.0" fill="#303030" stroke="#303030" stroke-width="0.3" text-anchor="middle">7</text><line x1="628.80" y1="1499.30" x2="628.80" y2="1504.80" stroke="#333333" stroke-width="1.4"/><text transform="translate(628.80 1521.50) scale(0.9951 1)" font-size="14.0" fill="#303030" stroke="#303030" stroke-width="0.3" text-anchor="middle">8</text><line x1="669.60" y1="1499.30" x2="669.60" y2="1504.80" stroke="#333333" stroke-width="1.4"/><text transform="translate(669.60 1521.50) scale(0.9951 1)" font-size="14.0" fill="#303030" stroke="#303030" stroke-width="0.3" text-anchor="middle">9</text><rect x="716.40" y="1115.10" width="17.50" height="383.70" fill="url(#cb)"/><line x1="733.90" y1="1500.10" x2="738.90" y2="1500.10" stroke="#333333" stroke-width="1.4"/><text transform="translate(745.20 1505.40) scale(0.9951 1)" font-size="14.0" fill="#303030" stroke="#303030" stroke-width="0.3" text-anchor="start">0</text><line x1="733.90" y1="1451.95" x2="738.90" y2="1451.95" stroke="#333333" stroke-width="1.4"/><text transform="translate(745.20 1457.25) scale(0.9951 1)" font-size="14.0" fill="#303030" stroke="#303030" stroke-width="0.3" text-anchor="start">25</text><line x1="733.90" y1="1403.80" x2="738.90" y2="1403.80" stroke="#333333" stroke-width="1.4"/><text transform="translate(745.20 1409.10) scale(0.9951 1)" font-size="14.0" fill="#303030" stroke="#303030" stroke-width="0.3" text-anchor="start">50</text><line x1="733.90" y1="1355.65" x2="738.90" y2="1355.65" stroke="#333333" stroke-width="1.4"/><text transform="translate(745.20 1360.95) scale(0.9951 1)" font-size="14.0" fill="#303030" stroke="#303030" stroke-width="0.3" text-anchor="start">75</text><line x1="733.90" y1="1307.50" x2="738.90" y2="1307.50" stroke="#333333" stroke-width="1.4"/><text transform="translate(745.20 1312.80) scale(0.9951 1)" font-size="14.0" fill="#303030" stroke="#303030" stroke-width="0.3" text-anchor="start">100</text><line x1="733.90" y1="1259.35" x2="738.90" y2="1259.35" stroke="#333333" stroke-width="1.4"/><text transform="translate(745.20 1264.65) scale(0.9951 1)" font-size="14.0" fill="#303030" stroke="#303030" stroke-width="0.3" text-anchor="start">125</text><line x1="733.90" y1="1211.20" x2="738.90" y2="1211.20" stroke="#333333" stroke-width="1.4"/><text transform="translate(745.20 1216.50) scale(0.9951 1)" font-size="14.0" fill="#303030" stroke="#303030" stroke-width="0.3" text-anchor="start">150</text><line x1="733.90" y1="1163.05" x2="738.90" y2="1163.05" stroke="#333333" stroke-width="1.4"/><text transform="translate(745.20 1168.35) scale(0.9951 1)" font-size="14.0" fill="#303030" stroke="#303030" stroke-width="0.3" text-anchor="start">175</text><line x1="733.90" y1="1114.90" x2="738.90" y2="1114.90" stroke="#333333" stroke-width="1.4"/><text transform="translate(745.20 1120.20) scale(0.9951 1)" font-size="14.0" fill="#303030" stroke="#303030" stroke-width="0.3" text-anchor="start">200</text><text transform="translate(485.80 1104.70) scale(0.9951 1)" font-size="17.1" fill="#303030" stroke="#303030" stroke-width="0.3" text-anchor="middle">Confusion Matrix</text><text transform="translate(485.90 1542.10) scale(0.9951 1)" font-size="14.35" fill="#303030" stroke="#303030" stroke-width="0.3" text-anchor="middle">Predicted labels</text><text transform="translate(248.02 1308.20) rotate(-90)" font-size="14.35" fill="#303030" stroke="#303030" stroke-width="0.3" text-anchor="middle">True labels</text></g>
<text x="480.30" y="1582.00" font-family="Liberation Serif, serif" font-weight="bold" font-size="33.2" fill="#000" text-anchor="middle">(g) Ours-SCL</text>
<g font-family="DejaVu Sans, sans-serif"><rect x="1054.60" y="1114.20" width="43.54" height="38.88" fill="#08306b"/><rect x="1097.74" y="1114.20" width="43.54" height="38.88" fill="#f7fbff"/><rect x="1140.88" y="1114.20" width="43.54" height="38.88" fill="#f7fbff"/><rect x="1184.02" y="1114.20" width="43.54" height="38.88" fill="#f7fbff"/><rect x="1227.16" y="1114.20" width="43.54" height="38.88" fill="#f7fbff"/><rect x="1270.30" y="1114.20" width="43.54" height="38.88" fill="#f7fbff"/><rect x="1313.44" y="1114.20" width="43.54" height="38.88" fill="#f7fbff"/><rect x="1356.58" y="1114.20" width="43.54" height="38.88" fill="#f7fbff"/><rect x="1399.72" y="1114.20" width="43.54" height="38.88" fill="#f7fbff"/><rect x="1442.86" y="1114.20" width="43.54" height="38.88" fill="#f7fbff"/><rect x="1054.60" y="1152.68" width="43.54" height="38.88" fill="#f7fbff"/><rect x="1097.74" y="1152.68" width="43.54" height="38.88" fill="#08306b"/><rect x="1140.88" y="1152.68" width="43.54" height="38.88" fill="#f7fbff"/><rect x="1184.02" y="1152.68" width="43.54" height="38.88" fill="#f7fbff"/><rect x="1227.16" y="1152.68" width="43.54" height="38.88" fill="#f7fbff"/><rect x="1270.30" y="1152.68" width="43.54" height="38.88" fill="#f7fbff"/><rect x="1313.44" y="1152.68" width="43.54" height="38.88" fill="#f7fbff"/><rect x="1356.58" y="1152.68" width="43.54" height="38.88" fill="#f7fbff"/><rect x="1399.72" y="1152.68" width="43.54" height="38.88" fill="#f7fbff"/><rect x="1442.86" y="1152.68" width="43.54" height="38.88" fill="#f7fbff"/><rect x="1054.60" y="1191.16" width="43.54" height="38.88" fill="#f7fbff"/><rect x="1097.74" y="1191.16" width="43.54" height="38.88" fill="#f7fbff"/><rect x="1140.88" y="1191.16" width="43.54" height="38.88" fill="#08306b"/><rect x="1184.02" y="1191.16" width="43.54" height="38.88" fill="#f7fbff"/><rect x="1227.16" y="1191.16" width="43.54" height="38.88" fill="#f7fbff"/><rect x="1270.30" y="1191.16" width="43.54" height="38.88" fill="#f7fbff"/><rect x="1313.44" y="1191.16" width="43.54" height="38.88" fill="#f7fbff"/><rect x="1356.58" y="1191.16" width="43.54" height="38.88" fill="#f7fbff"/><rect x="1399.72" y="1191.16" width="43.54" height="38.88" fill="#f7fbff"/><rect x="1442.86" y="1191.16" width="43.54" height="38.88" fill="#f7fbff"/><rect x="1054.60" y="1229.64" width="43.54" height="38.88" fill="#f7fbff"/><rect x="1097.74" y="1229.64" width="43.54" height="38.88" fill="#f7fbff"/><rect x="1140.88" y="1229.64" width="43.54" height="38.88" fill="#f7fbff"/><rect x="1184.02" y="1229.64" width="43.54" height="38.88" fill="#3080bd"/><rect x="1227.16" y="1229.64" width="43.54" height="38.88" fill="#f7fbff"/><rect x="1270.30" y="1229.64" width="43.54" height="38.88" fill="#f7fbff"/><rect x="1313.44" y="1229.64" width="43.54" height="38.88" fill="#eaf2fb"/><rect x="1356.58" y="1229.64" width="43.54" height="38.88" fill="#dceaf6"/><rect x="1399.72" y="1229.64" width="43.54" height="38.88" fill="#e3eef9"/><rect x="1442.86" y="1229.64" width="43.54" height="38.88" fill="#f7fbff"/><rect x="1054.60" y="1268.12" width="43.54" height="38.88" fill="#f7fbff"/><rect x="1097.74" y="1268.12" width="43.54" height="38.88" fill="#f7fbff"/><rect x="1140.88" y="1268.12" width="43.54" height="38.88" fill="#f7fbff"/><rect x="1184.02" y="1268.12" width="43.54" height="38.88" fill="#f7fbff"/><rect x="1227.16" y="1268.12" width="43.54" height="38.88" fill="#08306b"/><rect x="1270.30" y="1268.12" width="43.54" height="38.88" fill="#f7fbff"/><rect x="1313.44" y="1268.12" width="43.54" height="38.88" fill="#f7fbff"/><rect x="1356.58" y="1268.12" width="43.54" height="38.88" fill="#f7fbff"/><rect x="1399.72" y="1268.12" width="43.54" height="38.88" fill="#f7fbff"/><rect x="1442.86" y="1268.12" width="43.54" height="38.88" fill="#f7fbff"/><rect x="1054.60" y="1306.60" width="43.54" height="38.88" fill="#f7fbff"/><rect x="1097.74" y="1306.60" width="43.54" height="38.88" fill="#f7fbff"/><rect x="1140.88" y="1306.60" width="43.54" height="38.88" fill="#ebf3fb"/><rect x="1184.02" y="1306.60" width="43.54" height="38.88" fill="#f6faff"/><rect x="1227.16" y="1306.60" width="43.54" height="38.88" fill="#f7fbff"/><rect x="1270.30" y="1306.60" width="43.54" height="38.88" fill="#084b93"/><rect x="1313.44" y="1306.60" width="43.54" height="38.88" fill="#f7fbff"/><rect x="1356.58" y="1306.60" width="43.54" height="38.88" fill="#f6faff"/><rect x="1399.72" y="1306.60" width="43.54" height="38.88" fill="#f1f7fd"/><rect x="1442.86" y="1306.60" width="43.54" height="38.88" fill="#f7fbff"/><rect x="1054.60" y="1345.08" width="43.54" height="38.88" fill="#f7fbff"/><rect x="1097.74" y="1345.08" width="43.54" height="38.88" fill="#f7fbff"/><rect x="1140.88" y="1345.08" width="43.54" height="38.88" fill="#f7fbff"/><rect x="1184.02" y="1345.08" width="43.54" height="38.88" fill="#f2f7fd"/><rect x="1227.16" y="1345.08" width="43.54" height="38.88" fill="#f7fbff"/><rect x="1270.30" y="1345.08" width="43.54" height="38.88" fill="#f7fbff"/><rect x="1313.44" y="1345.08" width="43.54" height="38.88" fill="#1966ad"/><rect x="1356.58" y="1345.08" width="43.54" height="38.88" fill="#f5fafe"/><rect x="1399.72" y="1345.08" width="43.54" height="38.88" fill="#eaf2fb"/><rect x="1442.86" y="1345.08" width="43.54" height="38.88" fill="#e3eef9"/><rect x="1054.60" y="1383.56" width="43.54" height="38.88" fill="#f7fbff"/><rect x="1097.74" y="1383.56" width="43.54" height="38.88" fill="#f7fbff"/><rect x="1140.88" y="1383.56" width="43.54" height="38.88" fill="#f7fbff"/><rect x="1184.02" y="1383.56" width="43.54" height="38.88" fill="#f7fbff"/><rect x="1227.16" y="1383.56" width="43.54" height="38.88" fill="#f7fbff"/><rect x="1270.30" y="1383.56" width="43.54" height="38.88" fill="#f6faff"/><rect x="1313.44" y="1383.56" width="43.54" height="38.88" fill="#f7fbff"/><rect x="1356.58" y="1383.56" width="43.54" height="38.88" fill="#08316d"/><rect x="1399.72" y="1383.56" width="43.54" height="38.88" fill="#f7fbff"/><rect x="1442.86" y="1383.56" width="43.54" height="38.88" fill="#f7fbff"/><rect x="1054.60" y="1422.04" width="43.54" height="38.88" fill="#f7fbff"/><rect x="1097.74" y="1422.04" width="43.54" height="38.88" fill="#f7fbff"/><rect x="1140.88" y="1422.04" width="43.54" height="38.88" fill="#f7fbff"/><rect x="1184.02" y="1422.04" width="43.54" height="38.88" fill="#f2f8fd"/><rect x="1227.16" y="1422.04" width="43.54" height="38.88" fill="#f7fbff"/><rect x="1270.30" y="1422.04" width="43.54" height="38.88" fill="#eef5fc"/><rect x="1313.44" y="1422.04" width="43.54" height="38.88" fill="#f6faff"/><rect x="1356.58" y="1422.04" width="43.54" height="38.88" fill="#eef5fc"/><rect x="1399.72" y="1422.04" width="43.54" height="38.88" fill="#08509b"/><rect x="1442.86" y="1422.04" width="43.54" height="38.88" fill="#f7fbff"/><rect x="1054.60" y="1460.52" width="43.54" height="38.88" fill="#f7fbff"/><rect x="1097.74" y="1460.52" width="43.54" height="38.88" fill="#f7fbff"/><rect x="1140.88" y="1460.52" width="43.54" height="38.88" fill="#f7fbff"/><rect x="1184.02" y="1460.52" width="43.54" height="38.88" fill="#f7fbff"/><rect x="1227.16" y="1460.52" width="43.54" height="38.88" fill="#f7fbff"/><rect x="1270.30" y="1460.52" width="43.54" height="38.88" fill="#f7fbff"/><rect x="1313.44" y="1460.52" width="43.54" height="38.88" fill="#f7fbff"/><rect x="1356.58" y="1460.52" width="43.54" height="38.88" fill="#f7fbff"/><rect x="1399.72" y="1460.52" width="43.54" height="38.88" fill="#f7fbff"/><rect x="1442.86" y="1460.52" width="43.54" height="38.88" fill="#08306b"/><text transform="translate(1076.17 1137.30) scale(1.0522 1)" font-size="14.0" fill="#dce7f4" stroke="#dce7f4" stroke-width="0.3" text-anchor="middle">200</text><text transform="translate(1119.31 1137.30) scale(1.0522 1)" font-size="14.0" fill="#3d3d3d" stroke="#3d3d3d" stroke-width="0.3" text-anchor="middle">0</text><text transform="translate(1162.45 1137.30) scale(1.0522 1)" font-size="14.0" fill="#3d3d3d" stroke="#3d3d3d" stroke-width="0.3" text-anchor="middle">0</text><text transform="translate(1205.59 1137.30) scale(1.0522 1)" font-size="14.0" fill="#3d3d3d" stroke="#3d3d3d" stroke-width="0.3" text-anchor="middle">0</text><text transform="translate(1248.73 1137.30) scale(1.0522 1)" font-size="14.0" fill="#3d3d3d" stroke="#3d3d3d" stroke-width="0.3" text-anchor="middle">0</text><text transform="translate(1291.87 1137.30) scale(1.0522 1)" font-size="14.0" fill="#3d3d3d" stroke="#3d3d3d" stroke-width="0.3" text-anchor="middle">0</text><text transform="translate(1335.01 1137.30) scale(1.0522 1)" font-size="14.0" fill="#3d3d3d" stroke="#3d3d3d" stroke-width="0.3" text-anchor="middle">0</text><text transform="translate(1378.15 1137.30) scale(1.0522 1)" font-size="14.0" fill="#3d3d3d" stroke="#3d3d3d" stroke-width="0.3" text-anchor="middle">0</text><text transform="translate(1421.29 1137.30) scale(1.0522 1)" font-size="14.0" fill="#3d3d3d" stroke="#3d3d3d" stroke-width="0.3" text-anchor="middle">0</text><text transform="translate(1464.43 1137.30) scale(1.0522 1)" font-size="14.0" fill="#3d3d3d" stroke="#3d3d3d" stroke-width="0.3" text-anchor="middle">0</text><text transform="translate(1076.17 1175.95) scale(1.0522 1)" font-size="14.0" fill="#3d3d3d" stroke="#3d3d3d" stroke-width="0.3" text-anchor="middle">0</text><text transform="translate(1119.31 1175.95) scale(1.0522 1)" font-size="14.0" fill="#dce7f4" stroke="#dce7f4" stroke-width="0.3" text-anchor="middle">200</text><text transform="translate(1162.45 1175.95) scale(1.0522 1)" font-size="14.0" fill="#3d3d3d" stroke="#3d3d3d" stroke-width="0.3" text-anchor="middle">0</text><text transform="translate(1205.59 1175.95) scale(1.0522 1)" font-size="14.0" fill="#3d3d3d" stroke="#3d3d3d" stroke-width="0.3" text-anchor="middle">0</text><text transform="translate(1248.73 1175.95) scale(1.0522 1)" font-size="14.0" fill="#3d3d3d" stroke="#3d3d3d" stroke-width="0.3" text-anchor="middle">0</text><text transform="translate(1291.87 1175.95) scale(1.0522 1)" font-size="14.0" fill="#3d3d3d" stroke="#3d3d3d" stroke-width="0.3" text-anchor="middle">0</text><text transform="translate(1335.01 1175.95) scale(1.0522 1)" font-size="14.0" fill="#3d3d3d" stroke="#3d3d3d" stroke-width="0.3" text-anchor="middle">0</text><text transform="translate(1378.15 1175.95) scale(1.0522 1)" font-size="14.0" fill="#3d3d3d" stroke="#3d3d3d" stroke-width="0.3" text-anchor="middle">0</text><text transform="translate(1421.29 1175.95) scale(1.0522 1)" font-size="14.0" fill="#3d3d3d" stroke="#3d3d3d" stroke-width="0.3" text-anchor="middle">0</text><text transform="translate(1464.43 1175.95) scale(1.0522 1)" font-size="14.0" fill="#3d3d3d" stroke="#3d3d3d" stroke-width="0.3" text-anchor="middle">0</text><text transform="translate(1076.17 1214.59) scale(1.0522 1)" font-size="14.0" fill="#3d3d3d" stroke="#3d3d3d" stroke-width="0.3" text-anchor="middle">0</text><text transform="translate(1119.31 1214.59) scale(1.0522 1)" font-size="14.0" fill="#3d3d3d" stroke="#3d3d3d" stroke-width="0.3" text-anchor="middle">0</text><text transform="translate(1162.45 1214.59) scale(1.0522 1)" font-size="14.0" fill="#dce7f4" stroke="#dce7f4" stroke-width="0.3" text-anchor="middle">200</text><text transform="translate(1205.59 1214.59) scale(1.0522 1)" font-size="14.0" fill="#3d3d3d" stroke="#3d3d3d" stroke-width="0.3" text-anchor="middle">0</text><text transform="translate(1248.73 1214.59) scale(1.0522 1)" font-size="14.0" fill="#3d3d3d" stroke="#3d3d3d" stroke-width="0.3" text-anchor="middle">0</text><text transform="translate(1291.87 1214.59) scale(1.0522 1)" font-size="14.0" fill="#3d3d3d" stroke="#3d3d3d" stroke-width="0.3" text-anchor="middle">0</text><text transform="translate(1335.01 1214.59) scale(1.0522 1)" font-size="14.0" fill="#3d3d3d" stroke="#3d3d3d" stroke-width="0.3" text-anchor="middle">0</text><text transform="translate(1378.15 1214.59) scale(1.0522 1)" font-size="14.0" fill="#3d3d3d" stroke="#3d3d3d" stroke-width="0.3" text-anchor="middle">0</text><text transform="translate(1421.29 1214.59) scale(1.0522 1)" font-size="14.0" fill="#3d3d3d" stroke="#3d3d3d" stroke-width="0.3" text-anchor="middle">0</text><text transform="translate(1464.43 1214.59) scale(1.0522 1)" font-size="14.0" fill="#3d3d3d" stroke="#3d3d3d" stroke-width="0.3" text-anchor="middle">0</text><text transform="translate(1076.17 1253.24) scale(1.0522 1)" font-size="14.0" fill="#3d3d3d" stroke="#3d3d3d" stroke-width="0.3" text-anchor="middle">0</text><text transform="translate(1119.31 1253.24) scale(1.0522 1)" font-size="14.0" fill="#3d3d3d" stroke="#3d3d3d" stroke-width="0.3" text-anchor="middle">0</text><text transform="translate(1162.45 1253.24) scale(1.0522 1)" font-size="14.0" fill="#3d3d3d" stroke="#3d3d3d" stroke-width="0.3" text-anchor="middle">0</text><text transform="translate(1205.59 1253.24) scale(1.0522 1)" font-size="14.0" fill="#dce7f4" stroke="#dce7f4" stroke-width="0.3" text-anchor="middle">139</text><text transform="translate(1248.73 1253.24) scale(1.0522 1)" font-size="14.0" fill="#3d3d3d" stroke="#3d3d3d" stroke-width="0.3" text-anchor="middle">0</text><text transform="translate(1291.87 1253.24) scale(1.0522 1)" font-size="14.0" fill="#3d3d3d" stroke="#3d3d3d" stroke-width="0.3" text-anchor="middle">0</text><text transform="translate(1335.01 1253.24) scale(1.0522 1)" font-size="14.0" fill="#3d3d3d" stroke="#3d3d3d" stroke-width="0.3" text-anchor="middle">14</text><text transform="translate(1378.15 1253.24) scale(1.0522 1)" font-size="14.0" fill="#3d3d3d" stroke="#3d3d3d" stroke-width="0.3" text-anchor="middle">27</text><text transform="translate(1421.29 1253.24) scale(1.0522 1)" font-size="14.0" fill="#3d3d3d" stroke="#3d3d3d" stroke-width="0.3" text-anchor="middle">20</text><text transform="translate(1464.43 1253.24) scale(1.0522 1)" font-size="14.0" fill="#3d3d3d" stroke="#3d3d3d" stroke-width="0.3" text-anchor="middle">0</text><text transform="translate(1076.17 1291.88) scale(1.0522 1)" font-size="14.0" fill="#3d3d3d" stroke="#3d3d3d" stroke-width="0.3" text-anchor="middle">0</text><text transform="translate(1119.31 1291.88) scale(1.0522 1)" font-size="14.0" fill="#3d3d3d" stroke="#3d3d3d" stroke-width="0.3" text-anchor="middle">0</text><text transform="translate(1162.45 1291.88) scale(1.0522 1)" font-size="14.0" fill="#3d3d3d" stroke="#3d3d3d" stroke-width="0.3" text-anchor="middle">0</text><text transform="translate(1205.59 1291.88) scale(1.0522 1)" font-size="14.0" fill="#3d3d3d" stroke="#3d3d3d" stroke-width="0.3" text-anchor="middle">0</text><text transform="translate(1248.73 1291.88) scale(1.0522 1)" font-size="14.0" fill="#dce7f4" stroke="#dce7f4" stroke-width="0.3" text-anchor="middle">200</text><text transform="translate(1291.87 1291.88) scale(1.0522 1)" font-size="14.0" fill="#3d3d3d" stroke="#3d3d3d" stroke-width="0.3" text-anchor="middle">0</text><text transform="translate(1335.01 1291.88) scale(1.0522 1)" font-size="14.0" fill="#3d3d3d" stroke="#3d3d3d" stroke-width="0.3" text-anchor="middle">0</text><text transform="translate(1378.15 1291.88) scale(1.0522 1)" font-size="14.0" fill="#3d3d3d" stroke="#3d3d3d" stroke-width="0.3" text-anchor="middle">0</text><text transform="translate(1421.29 1291.88) scale(1.0522 1)" font-size="14.0" fill="#3d3d3d" stroke="#3d3d3d" stroke-width="0.3" text-anchor="middle">0</text><text transform="translate(1464.43 1291.88) scale(1.0522 1)" font-size="14.0" fill="#3d3d3d" stroke="#3d3d3d" stroke-width="0.3" text-anchor="middle">0</text><text transform="translate(1076.17 1330.53) scale(1.0522 1)" font-size="14.0" fill="#3d3d3d" stroke="#3d3d3d" stroke-width="0.3" text-anchor="middle">0</text><text transform="translate(1119.31 1330.53) scale(1.0522 1)" font-size="14.0" fill="#3d3d3d" stroke="#3d3d3d" stroke-width="0.3" text-anchor="middle">0</text><text transform="translate(1162.45 1330.53) scale(1.0522 1)" font-size="14.0" fill="#3d3d3d" stroke="#3d3d3d" stroke-width="0.3" text-anchor="middle">12</text><text transform="translate(1205.59 1330.53) scale(1.0522 1)" font-size="14.0" fill="#3d3d3d" stroke="#3d3d3d" stroke-width="0.3" text-anchor="middle">1</text><text transform="translate(1248.73 1330.53) scale(1.0522 1)" font-size="14.0" fill="#3d3d3d" stroke="#3d3d3d" stroke-width="0.3" text-anchor="middle">0</text><text transform="translate(1291.87 1330.53) scale(1.0522 1)" font-size="14.0" fill="#dce7f4" stroke="#dce7f4" stroke-width="0.3" text-anchor="middle">179</text><text transform="translate(1335.01 1330.53) scale(1.0522 1)" font-size="14.0" fill="#3d3d3d" stroke="#3d3d3d" stroke-width="0.3" text-anchor="middle">0</text><text transform="translate(1378.15 1330.53) scale(1.0522 1)" font-size="14.0" fill="#3d3d3d" stroke="#3d3d3d" stroke-width="0.3" text-anchor="middle">1</text><text transform="translate(1421.29 1330.53) scale(1.0522 1)" font-size="14.0" fill="#3d3d3d" stroke="#3d3d3d" stroke-width="0.3" text-anchor="middle">7</text><text transform="translate(1464.43 1330.53) scale(1.0522 1)" font-size="14.0" fill="#3d3d3d" stroke="#3d3d3d" stroke-width="0.3" text-anchor="middle">0</text><text transform="translate(1076.17 1369.17) scale(1.0522 1)" font-size="14.0" fill="#3d3d3d" stroke="#3d3d3d" stroke-width="0.3" text-anchor="middle">0</text><text transform="translate(1119.31 1369.17) scale(1.0522 1)" font-size="14.0" fill="#3d3d3d" stroke="#3d3d3d" stroke-width="0.3" text-anchor="middle">0</text><text transform="translate(1162.45 1369.17) scale(1.0522 1)" font-size="14.0" fill="#3d3d3d" stroke="#3d3d3d" stroke-width="0.3" text-anchor="middle">0</text><text transform="translate(1205.59 1369.17) scale(1.0522 1)" font-size="14.0" fill="#3d3d3d" stroke="#3d3d3d" stroke-width="0.3" text-anchor="middle">6</text><text transform="translate(1248.73 1369.17) scale(1.0522 1)" font-size="14.0" fill="#3d3d3d" stroke="#3d3d3d" stroke-width="0.3" text-anchor="middle">0</text><text transform="translate(1291.87 1369.17) scale(1.0522 1)" font-size="14.0" fill="#3d3d3d" stroke="#3d3d3d" stroke-width="0.3" text-anchor="middle">0</text><text transform="translate(1335.01 1369.17) scale(1.0522 1)" font-size="14.0" fill="#dce7f4" stroke="#dce7f4" stroke-width="0.3" text-anchor="middle">158</text><text transform="translate(1378.15 1369.17) scale(1.0522 1)" font-size="14.0" fill="#3d3d3d" stroke="#3d3d3d" stroke-width="0.3" text-anchor="middle">2</text><text transform="translate(1421.29 1369.17) scale(1.0522 1)" font-size="14.0" fill="#3d3d3d" stroke="#3d3d3d" stroke-width="0.3" text-anchor="middle">14</text><text transform="translate(1464.43 1369.17) scale(1.0522 1)" font-size="14.0" fill="#3d3d3d" stroke="#3d3d3d" stroke-width="0.3" text-anchor="middle">20</text><text transform="translate(1076.17 1407.81) scale(1.0522 1)" font-size="14.0" fill="#3d3d3d" stroke="#3d3d3d" stroke-width="0.3" text-anchor="middle">0</text><text transform="translate(1119.31 1407.81) scale(1.0522 1)" font-size="14.0" fill="#3d3d3d" stroke="#3d3d3d" stroke-width="0.3" text-anchor="middle">0</text><text transform="translate(1162.45 1407.81) scale(1.0522 1)" font-size="14.0" fill="#3d3d3d" stroke="#3d3d3d" stroke-width="0.3" text-anchor="middle">0</text><text transform="translate(1205.59 1407.81) scale(1.0522 1)" font-size="14.0" fill="#3d3d3d" stroke="#3d3d3d" stroke-width="0.3" text-anchor="middle">0</text><text transform="translate(1248.73 1407.81) scale(1.0522 1)" font-size="14.0" fill="#3d3d3d" stroke="#3d3d3d" stroke-width="0.3" text-anchor="middle">0</text><text transform="translate(1291.87 1407.81) scale(1.0522 1)" font-size="14.0" fill="#3d3d3d" stroke="#3d3d3d" stroke-width="0.3" text-anchor="middle">1</text><text transform="translate(1335.01 1407.81) scale(1.0522 1)" font-size="14.0" fill="#3d3d3d" stroke="#3d3d3d" stroke-width="0.3" text-anchor="middle">0</text><text transform="translate(1378.15 1407.81) scale(1.0522 1)" font-size="14.0" fill="#dce7f4" stroke="#dce7f4" stroke-width="0.3" text-anchor="middle">199</text><text transform="translate(1421.29 1407.81) scale(1.0522 1)" font-size="14.0" fill="#3d3d3d" stroke="#3d3d3d" stroke-width="0.3" text-anchor="middle">0</text><text transform="translate(1464.43 1407.81) scale(1.0522 1)" font-size="14.0" fill="#3d3d3d" stroke="#3d3d3d" stroke-width="0.3" text-anchor="middle">0</text><text transform="translate(1076.17 1446.46) scale(1.0522 1)" font-size="14.0" fill="#3d3d3d" stroke="#3d3d3d" stroke-width="0.3" text-anchor="middle">0</text><text transform="translate(1119.31 1446.46) scale(1.0522 1)" font-size="14.0" fill="#3d3d3d" stroke="#3d3d3d" stroke-width="0.3" text-anchor="middle">0</text><text transform="translate(1162.45 1446.46) scale(1.0522 1)" font-size="14.0" fill="#3d3d3d" stroke="#3d3d3d" stroke-width="0.3" text-anchor="middle">0</text><text transform="translate(1205.59 1446.46) scale(1.0522 1)" font-size="14.0" fill="#3d3d3d" stroke="#3d3d3d" stroke-width="0.3" text-anchor="middle">5</text><text transform="translate(1248.73 1446.46) scale(1.0522 1)" font-size="14.0" fill="#3d3d3d" stroke="#3d3d3d" stroke-width="0.3" text-anchor="middle">0</text><text transform="translate(1291.87 1446.46) scale(1.0522 1)" font-size="14.0" fill="#3d3d3d" stroke="#3d3d3d" stroke-width="0.3" text-anchor="middle">10</text><text transform="translate(1335.01 1446.46) scale(1.0522 1)" font-size="14.0" fill="#3d3d3d" stroke="#3d3d3d" stroke-width="0.3" text-anchor="middle">1</text><text transform="translate(1378.15 1446.46) scale(1.0522 1)" font-size="14.0" fill="#3d3d3d" stroke="#3d3d3d" stroke-width="0.3" text-anchor="middle">9</text><text transform="translate(1421.29 1446.46) scale(1.0522 1)" font-size="14.0" fill="#dce7f4" stroke="#dce7f4" stroke-width="0.3" text-anchor="middle">175</text><text transform="translate(1464.43 1446.46) scale(1.0522 1)" font-size="14.0" fill="#3d3d3d" stroke="#3d3d3d" stroke-width="0.3" text-anchor="middle">0</text><text transform="translate(1076.17 1485.10) scale(1.0522 1)" font-size="14.0" fill="#3d3d3d" stroke="#3d3d3d" stroke-width="0.3" text-anchor="middle">0</text><text transform="translate(1119.31 1485.10) scale(1.0522 1)" font-size="14.0" fill="#3d3d3d" stroke="#3d3d3d" stroke-width="0.3" text-anchor="middle">0</text><text transform="translate(1162.45 1485.10) scale(1.0522 1)" font-size="14.0" fill="#3d3d3d" stroke="#3d3d3d" stroke-width="0.3" text-anchor="middle">0</text><text transform="translate(1205.59 1485.10) scale(1.0522 1)" font-size="14.0" fill="#3d3d3d" stroke="#3d3d3d" stroke-width="0.3" text-anchor="middle">0</text><text transform="translate(1248.73 1485.10) scale(1.0522 1)" font-size="14.0" fill="#3d3d3d" stroke="#3d3d3d" stroke-width="0.3" text-anchor="middle">0</text><text transform="translate(1291.87 1485.10) scale(1.0522 1)" font-size="14.0" fill="#3d3d3d" stroke="#3d3d3d" stroke-width="0.3" text-anchor="middle">0</text><text transform="translate(1335.01 1485.10) scale(1.0522 1)" font-size="14.0" fill="#3d3d3d" stroke="#3d3d3d" stroke-width="0.3" text-anchor="middle">0</text><text transform="translate(1378.15 1485.10) scale(1.0522 1)" font-size="14.0" fill="#3d3d3d" stroke="#3d3d3d" stroke-width="0.3" text-anchor="middle">0</text><text transform="translate(1421.29 1485.10) scale(1.0522 1)" font-size="14.0" fill="#3d3d3d" stroke="#3d3d3d" stroke-width="0.3" text-anchor="middle">0</text><text transform="translate(1464.43 1485.10) scale(1.0522 1)" font-size="14.0" fill="#dce7f4" stroke="#dce7f4" stroke-width="0.3" text-anchor="middle">200</text><line x1="1049.10" y1="1133.74" x2="1054.60" y2="1133.74" stroke="#333333" stroke-width="1.4"/><text transform="translate(1039.10 1134.24) rotate(-90)" font-size="14.0" fill="#303030" stroke="#303030" stroke-width="0.3" text-anchor="middle">0</text><line x1="1049.10" y1="1172.25" x2="1054.60" y2="1172.25" stroke="#333333" stroke-width="1.4"/><text transform="translate(1039.10 1172.75) rotate(-90)" font-size="14.0" fill="#303030" stroke="#303030" stroke-width="0.3" text-anchor="middle">1</text><line x1="1049.10" y1="1210.77" x2="1054.60" y2="1210.77" stroke="#333333" stroke-width="1.4"/><text transform="translate(1039.10 1211.27) rotate(-90)" font-size="14.0" fill="#303030" stroke="#303030" stroke-width="0.3" text-anchor="middle">2</text><line x1="1049.10" y1="1249.28" x2="1054.60" y2="1249.28" stroke="#333333" stroke-width="1.4"/><text transform="translate(1039.10 1249.78) rotate(-90)" font-size="14.0" fill="#303030" stroke="#303030" stroke-width="0.3" text-anchor="middle">3</text><line x1="1049.10" y1="1287.79" x2="1054.60" y2="1287.79" stroke="#333333" stroke-width="1.4"/><text transform="translate(1039.10 1288.29) rotate(-90)" font-size="14.0" fill="#303030" stroke="#303030" stroke-width="0.3" text-anchor="middle">4</text><line x1="1049.10" y1="1326.31" x2="1054.60" y2="1326.31" stroke="#333333" stroke-width="1.4"/><text transform="translate(1039.10 1326.81) rotate(-90)" font-size="14.0" fill="#303030" stroke="#303030" stroke-width="0.3" text-anchor="middle">5</text><line x1="1049.10" y1="1364.82" x2="1054.60" y2="1364.82" stroke="#333333" stroke-width="1.4"/><text transform="translate(1039.10 1365.32) rotate(-90)" font-size="14.0" fill="#303030" stroke="#303030" stroke-width="0.3" text-anchor="middle">6</text><line x1="1049.10" y1="1403.33" x2="1054.60" y2="1403.33" stroke="#333333" stroke-width="1.4"/><text transform="translate(1039.10 1403.83) rotate(-90)" font-size="14.0" fill="#303030" stroke="#303030" stroke-width="0.3" text-anchor="middle">7</text><line x1="1049.10" y1="1441.85" x2="1054.60" y2="1441.85" stroke="#333333" stroke-width="1.4"/><text transform="translate(1039.10 1442.35) rotate(-90)" font-size="14.0" fill="#303030" stroke="#303030" stroke-width="0.3" text-anchor="middle">8</text><line x1="1049.10" y1="1480.36" x2="1054.60" y2="1480.36" stroke="#333333" stroke-width="1.4"/><text transform="translate(1039.10 1480.86) rotate(-90)" font-size="14.0" fill="#303030" stroke="#303030" stroke-width="0.3" text-anchor="middle">9</text><line x1="1076.17" y1="1499.50" x2="1076.17" y2="1505.00" stroke="#333333" stroke-width="1.4"/><text transform="translate(1076.17 1522.10) scale(1.0522 1)" font-size="14.0" fill="#303030" stroke="#303030" stroke-width="0.3" text-anchor="middle">0</text><line x1="1119.31" y1="1499.50" x2="1119.31" y2="1505.00" stroke="#333333" stroke-width="1.4"/><text transform="translate(1119.31 1522.10) scale(1.0522 1)" font-size="14.0" fill="#303030" stroke="#303030" stroke-width="0.3" text-anchor="middle">1</text><line x1="1162.45" y1="1499.50" x2="1162.45" y2="1505.00" stroke="#333333" stroke-width="1.4"/><text transform="translate(1162.45 1522.10) scale(1.0522 1)" font-size="14.0" fill="#303030" stroke="#303030" stroke-width="0.3" text-anchor="middle">2</text><line x1="1205.59" y1="1499.50" x2="1205.59" y2="1505.00" stroke="#333333" stroke-width="1.4"/><text transform="translate(1205.59 1522.10) scale(1.0522 1)" font-size="14.0" fill="#303030" stroke="#303030" stroke-width="0.3" text-anchor="middle">3</text><line x1="1248.73" y1="1499.50" x2="1248.73" y2="1505.00" stroke="#333333" stroke-width="1.4"/><text transform="translate(1248.73 1522.10) scale(1.0522 1)" font-size="14.0" fill="#303030" stroke="#303030" stroke-width="0.3" text-anchor="middle">4</text><line x1="1291.87" y1="1499.50" x2="1291.87" y2="1505.00" stroke="#333333" stroke-width="1.4"/><text transform="translate(1291.87 1522.10) scale(1.0522 1)" font-size="14.0" fill="#303030" stroke="#303030" stroke-width="0.3" text-anchor="middle">5</text><line x1="1335.01" y1="1499.50" x2="1335.01" y2="1505.00" stroke="#333333" stroke-width="1.4"/><text transform="translate(1335.01 1522.10) scale(1.0522 1)" font-size="14.0" fill="#303030" stroke="#303030" stroke-width="0.3" text-anchor="middle">6</text><line x1="1378.15" y1="1499.50" x2="1378.15" y2="1505.00" stroke="#333333" stroke-width="1.4"/><text transform="translate(1378.15 1522.10) scale(1.0522 1)" font-size="14.0" fill="#303030" stroke="#303030" stroke-width="0.3" text-anchor="middle">7</text><line x1="1421.29" y1="1499.50" x2="1421.29" y2="1505.00" stroke="#333333" stroke-width="1.4"/><text transform="translate(1421.29 1522.10) scale(1.0522 1)" font-size="14.0" fill="#303030" stroke="#303030" stroke-width="0.3" text-anchor="middle">8</text><line x1="1464.43" y1="1499.50" x2="1464.43" y2="1505.00" stroke="#333333" stroke-width="1.4"/><text transform="translate(1464.43 1522.10) scale(1.0522 1)" font-size="14.0" fill="#303030" stroke="#303030" stroke-width="0.3" text-anchor="middle">9</text><rect x="1513.30" y="1114.20" width="19.00" height="384.80" fill="url(#cb)"/><line x1="1532.30" y1="1500.30" x2="1537.30" y2="1500.30" stroke="#333333" stroke-width="1.4"/><text transform="translate(1543.60 1505.60) scale(1.0522 1)" font-size="14.0" fill="#303030" stroke="#303030" stroke-width="0.3" text-anchor="start">0</text><line x1="1532.30" y1="1452.01" x2="1537.30" y2="1452.01" stroke="#333333" stroke-width="1.4"/><text transform="translate(1543.60 1457.32) scale(1.0522 1)" font-size="14.0" fill="#303030" stroke="#303030" stroke-width="0.3" text-anchor="start">25</text><line x1="1532.30" y1="1403.72" x2="1537.30" y2="1403.72" stroke="#333333" stroke-width="1.4"/><text transform="translate(1543.60 1409.03) scale(1.0522 1)" font-size="14.0" fill="#303030" stroke="#303030" stroke-width="0.3" text-anchor="start">50</text><line x1="1532.30" y1="1355.44" x2="1537.30" y2="1355.44" stroke="#333333" stroke-width="1.4"/><text transform="translate(1543.60 1360.74) scale(1.0522 1)" font-size="14.0" fill="#303030" stroke="#303030" stroke-width="0.3" text-anchor="start">75</text><line x1="1532.30" y1="1307.15" x2="1537.30" y2="1307.15" stroke="#333333" stroke-width="1.4"/><text transform="translate(1543.60 1312.45) scale(1.0522 1)" font-size="14.0" fill="#303030" stroke="#303030" stroke-width="0.3" text-anchor="start">100</text><line x1="1532.30" y1="1258.86" x2="1537.30" y2="1258.86" stroke="#333333" stroke-width="1.4"/><text transform="translate(1543.60 1264.17) scale(1.0522 1)" font-size="14.0" fill="#303030" stroke="#303030" stroke-width="0.3" text-anchor="start">125</text><line x1="1532.30" y1="1210.58" x2="1537.30" y2="1210.58" stroke="#333333" stroke-width="1.4"/><text transform="translate(1543.60 1215.88) scale(1.0522 1)" font-size="14.0" fill="#303030" stroke="#303030" stroke-width="0.3" text-anchor="start">150</text><line x1="1532.30" y1="1162.29" x2="1537.30" y2="1162.29" stroke="#333333" stroke-width="1.4"/><text transform="translate(1543.60 1167.59) scale(1.0522 1)" font-size="14.0" fill="#303030" stroke="#303030" stroke-width="0.3" text-anchor="start">175</text><line x1="1532.30" y1="1114.00" x2="1537.30" y2="1114.00" stroke="#333333" stroke-width="1.4"/><text transform="translate(1543.60 1119.30) scale(1.0522 1)" font-size="14.0" fill="#303030" stroke="#303030" stroke-width="0.3" text-anchor="start">200</text><text transform="translate(1269.20 1104.70) scale(1.0522 1)" font-size="17.1" fill="#303030" stroke="#303030" stroke-width="0.3" text-anchor="middle">Confusion Matrix</text><text transform="translate(1270.00 1542.10) scale(1.0522 1)" font-size="14.35" fill="#303030" stroke="#303030" stroke-width="0.3" text-anchor="middle">Predicted labels</text><text transform="translate(1018.02 1308.20) rotate(-90)" font-size="14.35" fill="#303030" stroke="#303030" stroke-width="0.3" text-anchor="middle">True labels</text></g>
<text x="1270.50" y="1582.00" font-family="Liberation Serif, serif" font-weight="bold" font-size="33.2" fill="#000" text-anchor="middle">(h) Ours</text>
</g>
</svg>
</div></body></html>
